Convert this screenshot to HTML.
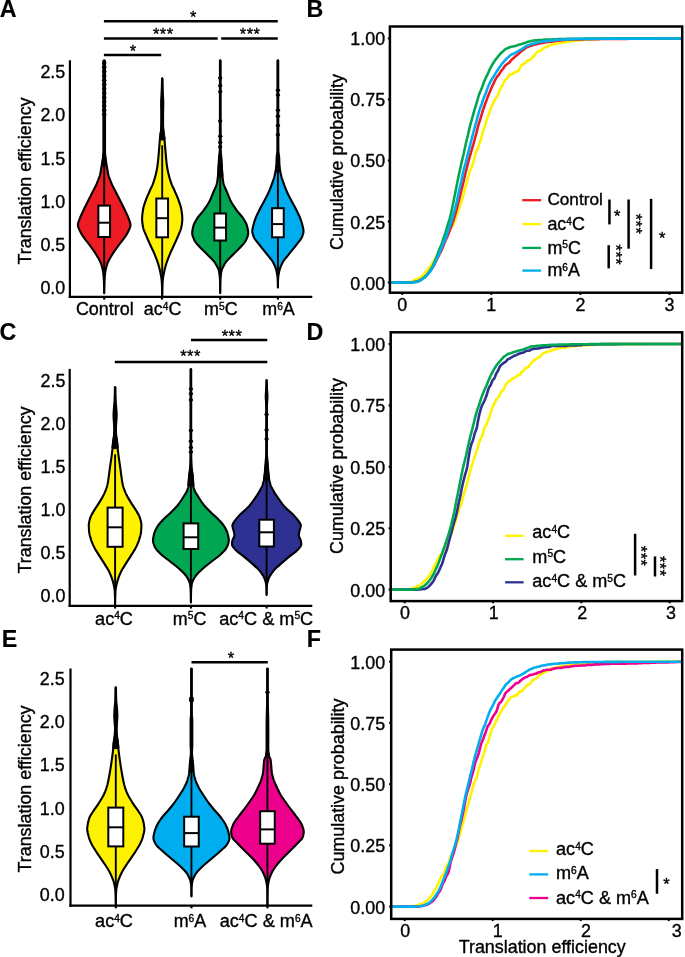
<!DOCTYPE html>
<html lang="en">
<head>
<meta charset="utf-8">
<title>Figure</title>
<style>html,body{margin:0;padding:0;background:#fff}svg{display:block}</style>
</head>
<body>
<svg width="685" height="957" viewBox="0 0 685 957" font-family='"Liberation Sans", Arial, Helvetica, sans-serif' fill="#000">
<rect width="685" height="957" fill="#fff"/>
<text x="-0.3" y="17" font-size="23.3" font-weight="bold" text-anchor="start" stroke="#000" stroke-width="0.15">A</text>
<text x="306.5" y="16.9" font-size="23.3" font-weight="bold" text-anchor="start" stroke="#000" stroke-width="0.15">B</text>
<text x="-0.4" y="340" font-size="23.3" font-weight="bold" text-anchor="start" stroke="#000" stroke-width="0.15">C</text>
<text x="306.5" y="340" font-size="23.3" font-weight="bold" text-anchor="start" stroke="#000" stroke-width="0.15">D</text>
<text x="1.7" y="647.3" font-size="23.3" font-weight="bold" text-anchor="start" stroke="#000" stroke-width="0.15">E</text>
<text x="306.7" y="647.3" font-size="23.3" font-weight="bold" text-anchor="start" stroke="#000" stroke-width="0.15">F</text>
<line x1="69.9" y1="60.3" x2="69.9" y2="298" stroke="#000" stroke-width="2.2"/>
<line x1="68.8" y1="296.9" x2="312.3" y2="296.9" stroke="#000" stroke-width="2.2"/>
<text x="65.3" y="294.21" font-size="17.9" font-weight="normal" text-anchor="end" stroke="#000" stroke-width="0.35">0.0</text>
<text x="65.3" y="251.01" font-size="17.9" font-weight="normal" text-anchor="end" stroke="#000" stroke-width="0.35">0.5</text>
<text x="65.3" y="207.81" font-size="17.9" font-weight="normal" text-anchor="end" stroke="#000" stroke-width="0.35">1.0</text>
<text x="65.3" y="164.61" font-size="17.9" font-weight="normal" text-anchor="end" stroke="#000" stroke-width="0.35">1.5</text>
<text x="65.3" y="121.41" font-size="17.9" font-weight="normal" text-anchor="end" stroke="#000" stroke-width="0.35">2.0</text>
<text x="65.3" y="78.21" font-size="17.9" font-weight="normal" text-anchor="end" stroke="#000" stroke-width="0.35">2.5</text>
<text x="31" y="181" font-size="17.9" font-weight="normal" text-anchor="middle" stroke="#000" stroke-width="0.35" transform="rotate(-90 31 181)">Translation efficiency</text>
<line x1="103.9" y1="21.2" x2="277.8" y2="21.2" stroke="#000" stroke-width="2.5"/>
<line x1="103.9" y1="38.6" x2="217.7" y2="38.6" stroke="#000" stroke-width="2.5"/>
<line x1="221.2" y1="38.6" x2="277.8" y2="38.6" stroke="#000" stroke-width="2.5"/>
<line x1="103.9" y1="54.9" x2="161.2" y2="54.9" stroke="#000" stroke-width="2.5"/>
<text x="193.2" y="23.01" font-size="16.4" font-weight="normal" text-anchor="middle" stroke="#000" stroke-width="0.35">*</text>
<text x="163.25" y="39.91" font-size="16.4" font-weight="normal" text-anchor="middle" stroke="#000" stroke-width="0.35" letter-spacing="0.5">***</text>
<text x="250.15" y="39.91" font-size="16.4" font-weight="normal" text-anchor="middle" stroke="#000" stroke-width="0.35" letter-spacing="0.5">***</text>
<text x="133" y="57.11" font-size="16.4" font-weight="normal" text-anchor="middle" stroke="#000" stroke-width="0.35">*</text>
<path d="M104.05,60.2 L104.05,61.2 L104.05,62.2 L104.05,63.2 L104.05,64.2 L104.05,65.2 L104.05,66.2 L104.05,67.2 L104.05,68.2 L104.05,69.2 L104.05,70.2 L104.05,71.2 L104.05,72.2 L104.05,73.2 L104.05,74.2 L104.05,75.2 L104.05,76.2 L104.05,77.2 L104.05,78.2 L104.05,79.2 L104.05,80.2 L104.05,81.2 L104.05,82.2 L104.05,83.2 L104.05,84.2 L104.05,85.2 L104.05,86.2 L104.05,87.2 L104.05,88.2 L104.05,89.2 L104.05,90.2 L104.05,91.2 L104.05,92.2 L104.05,93.2 L104.05,94.2 L104.05,95.2 L104.05,96.2 L104.05,97.2 L104.05,98.2 L104.05,99.2 L104.05,100.2 L104.05,101.2 L104.05,102.2 L104.05,103.2 L104.05,104.2 L104.05,105.2 L104.05,106.2 L104.05,107.2 L104.05,108.2 L104.05,109.2 L104.05,110.2 L104.05,111.2 L104.05,112.2 L104.05,113.2 L104.05,114.2 L104.05,115.2 L104.05,116.2 L104.05,117.2 L104.05,118.2 L104.05,119.2 L104.05,120.2 L104.05,121.2 L104.05,122.2 L104.05,123.2 L104.05,124.2 L104.05,125.2 L104.05,126.2 L104.05,127.2 L104.05,128.2 L104.05,129.2 L104.05,130.2 L104.05,131.2 L104.05,132.2 L104.05,133.2 L104.05,134.2 L104.05,135.2 L104.05,136.2 L104.05,137.2 L104.05,138.2 L104.05,139.2 L104.05,140.2 L104.05,141.2 L104.05,142.2 L104.05,143.2 L104.05,144.2 L104.05,145.2 L104.05,146.2 L104.05,147.2 L104.05,148.2 L104.05,149.2 L104.05,150.2 L104,151.2 L103.89,152.2 L103.73,153.2 L103.56,154.2 L103.37,155.2 L103.2,156.2 L103.05,157.2 L102.9,158.2 L102.74,159.2 L102.58,160.2 L102.42,161.2 L102.26,162.2 L102.09,163.2 L101.92,164.2 L101.75,165.2 L101.58,166.2 L101.42,167.2 L101.26,168.2 L101.1,169.2 L100.94,170.2 L100.76,171.2 L100.57,172.2 L100.37,173.2 L100.15,174.2 L99.9,175.2 L99.61,176.2 L99.29,177.2 L98.94,178.2 L98.57,179.2 L98.18,180.2 L97.77,181.2 L97.36,182.2 L96.94,183.2 L96.51,184.2 L96.05,185.2 L95.56,186.2 L95.05,187.2 L94.53,188.2 L94.01,189.2 L93.48,190.2 L92.96,191.2 L92.45,192.2 L91.95,193.2 L91.44,194.2 L90.93,195.2 L90.42,196.2 L89.92,197.2 L89.41,198.2 L88.9,199.2 L88.4,200.2 L87.9,201.2 L87.4,202.2 L86.89,203.2 L86.39,204.2 L85.89,205.2 L85.39,206.2 L84.89,207.2 L84.41,208.2 L83.93,209.2 L83.46,210.2 L82.99,211.2 L82.52,212.2 L82.05,213.2 L81.59,214.2 L81.14,215.2 L80.7,216.2 L80.29,217.2 L79.91,218.2 L79.56,219.2 L79.18,220.2 L78.79,221.2 L78.43,222.2 L78.14,223.2 L77.95,224.2 L77.9,225.2 L78.03,226.2 L78.31,227.2 L78.7,228.2 L79.16,229.2 L79.64,230.2 L80.1,231.2 L80.57,232.2 L81.1,233.2 L81.67,234.2 L82.28,235.2 L82.91,236.2 L83.56,237.2 L84.26,238.2 L85,239.2 L85.77,240.2 L86.55,241.2 L87.35,242.2 L88.13,243.2 L88.91,244.2 L89.65,245.2 L90.38,246.2 L91.11,247.2 L91.84,248.2 L92.56,249.2 L93.27,250.2 L93.97,251.2 L94.65,252.2 L95.31,253.2 L95.94,254.2 L96.56,255.2 L97.18,256.2 L97.79,257.2 L98.39,258.2 L98.97,259.2 L99.51,260.2 L100.01,261.2 L100.46,262.2 L100.84,263.2 L101.18,264.2 L101.5,265.2 L101.81,266.2 L102.1,267.2 L102.36,268.2 L102.6,269.2 L102.8,270.2 L102.98,271.2 L103.13,272.2 L103.25,273.2 L103.37,274.2 L103.48,275.2 L103.58,276.2 L103.67,277.2 L103.75,278.2 L103.81,279.2 L103.87,280.2 L103.91,281.2 L103.95,282.2 L103.99,283.2 L104.02,284.2 L104.06,285.2 L104.09,286.2 L104.11,287.2 L104.14,288.2 L104.16,289.2 L104.18,290.2 L104.19,291.2 L104.2,292.2 L104.2,293.2 L104.2,293.3 L104.2,293.3 L104.2,293.2 L104.2,292.2 L104.21,291.2 L104.22,290.2 L104.24,289.2 L104.26,288.2 L104.29,287.2 L104.31,286.2 L104.34,285.2 L104.38,284.2 L104.41,283.2 L104.45,282.2 L104.49,281.2 L104.53,280.2 L104.59,279.2 L104.65,278.2 L104.73,277.2 L104.82,276.2 L104.92,275.2 L105.03,274.2 L105.15,273.2 L105.27,272.2 L105.42,271.2 L105.6,270.2 L105.8,269.2 L106.04,268.2 L106.3,267.2 L106.59,266.2 L106.9,265.2 L107.22,264.2 L107.56,263.2 L107.94,262.2 L108.39,261.2 L108.89,260.2 L109.43,259.2 L110.01,258.2 L110.61,257.2 L111.22,256.2 L111.84,255.2 L112.46,254.2 L113.09,253.2 L113.75,252.2 L114.43,251.2 L115.13,250.2 L115.84,249.2 L116.56,248.2 L117.29,247.2 L118.02,246.2 L118.75,245.2 L119.49,244.2 L120.27,243.2 L121.05,242.2 L121.85,241.2 L122.63,240.2 L123.4,239.2 L124.14,238.2 L124.84,237.2 L125.49,236.2 L126.12,235.2 L126.73,234.2 L127.3,233.2 L127.83,232.2 L128.3,231.2 L128.76,230.2 L129.24,229.2 L129.7,228.2 L130.09,227.2 L130.37,226.2 L130.5,225.2 L130.45,224.2 L130.26,223.2 L129.97,222.2 L129.61,221.2 L129.22,220.2 L128.84,219.2 L128.49,218.2 L128.11,217.2 L127.7,216.2 L127.26,215.2 L126.81,214.2 L126.35,213.2 L125.88,212.2 L125.41,211.2 L124.94,210.2 L124.47,209.2 L123.99,208.2 L123.51,207.2 L123.01,206.2 L122.51,205.2 L122.01,204.2 L121.51,203.2 L121,202.2 L120.5,201.2 L120,200.2 L119.5,199.2 L118.99,198.2 L118.48,197.2 L117.98,196.2 L117.47,195.2 L116.96,194.2 L116.45,193.2 L115.95,192.2 L115.44,191.2 L114.92,190.2 L114.39,189.2 L113.87,188.2 L113.35,187.2 L112.84,186.2 L112.35,185.2 L111.89,184.2 L111.46,183.2 L111.04,182.2 L110.63,181.2 L110.22,180.2 L109.83,179.2 L109.46,178.2 L109.11,177.2 L108.79,176.2 L108.5,175.2 L108.25,174.2 L108.03,173.2 L107.83,172.2 L107.64,171.2 L107.46,170.2 L107.3,169.2 L107.14,168.2 L106.98,167.2 L106.82,166.2 L106.65,165.2 L106.48,164.2 L106.31,163.2 L106.14,162.2 L105.98,161.2 L105.82,160.2 L105.66,159.2 L105.5,158.2 L105.35,157.2 L105.2,156.2 L105.03,155.2 L104.84,154.2 L104.67,153.2 L104.51,152.2 L104.4,151.2 L104.35,150.2 L104.35,149.2 L104.35,148.2 L104.35,147.2 L104.35,146.2 L104.35,145.2 L104.35,144.2 L104.35,143.2 L104.35,142.2 L104.35,141.2 L104.35,140.2 L104.35,139.2 L104.35,138.2 L104.35,137.2 L104.35,136.2 L104.35,135.2 L104.35,134.2 L104.35,133.2 L104.35,132.2 L104.35,131.2 L104.35,130.2 L104.35,129.2 L104.35,128.2 L104.35,127.2 L104.35,126.2 L104.35,125.2 L104.35,124.2 L104.35,123.2 L104.35,122.2 L104.35,121.2 L104.35,120.2 L104.35,119.2 L104.35,118.2 L104.35,117.2 L104.35,116.2 L104.35,115.2 L104.35,114.2 L104.35,113.2 L104.35,112.2 L104.35,111.2 L104.35,110.2 L104.35,109.2 L104.35,108.2 L104.35,107.2 L104.35,106.2 L104.35,105.2 L104.35,104.2 L104.35,103.2 L104.35,102.2 L104.35,101.2 L104.35,100.2 L104.35,99.2 L104.35,98.2 L104.35,97.2 L104.35,96.2 L104.35,95.2 L104.35,94.2 L104.35,93.2 L104.35,92.2 L104.35,91.2 L104.35,90.2 L104.35,89.2 L104.35,88.2 L104.35,87.2 L104.35,86.2 L104.35,85.2 L104.35,84.2 L104.35,83.2 L104.35,82.2 L104.35,81.2 L104.35,80.2 L104.35,79.2 L104.35,78.2 L104.35,77.2 L104.35,76.2 L104.35,75.2 L104.35,74.2 L104.35,73.2 L104.35,72.2 L104.35,71.2 L104.35,70.2 L104.35,69.2 L104.35,68.2 L104.35,67.2 L104.35,66.2 L104.35,65.2 L104.35,64.2 L104.35,63.2 L104.35,62.2 L104.35,61.2 L104.35,60.2 Z" fill="#ED1C24" stroke="#000" stroke-width="2.1" stroke-linejoin="round"/>
<path d="M102.35,60.2 L102.35,61.2 L102.35,62.2 L102.35,63.2 L102.35,64.2 L102.35,65.2 L102.35,66.2 L102.35,67.2 L102.35,68.2 L102.35,69.2 L102.35,70.2 L102.35,71.2 L102.35,72.2 L102.35,73.2 L102.35,74.2 L102.35,75.2 L102.35,76.2 L102.35,77.2 L102.35,78.2 L102.35,79.2 L102.35,80.2 L102.35,81.2 L102.35,82.2 L102.35,83.2 L102.35,84.2 L102.35,85.2 L102.35,86.2 L102.35,87.2 L102.35,88.2 L102.35,89.2 L102.35,90.2 L102.35,91.2 L102.35,92.2 L102.35,93.2 L102.35,94.2 L102.35,95.2 L102.35,96.2 L102.35,97.2 L102.35,98.2 L102.35,99.2 L102.35,100.2 L102.35,101.2 L102.35,102.2 L102.35,103.2 L102.35,104.2 L102.35,105.2 L102.35,106.2 L102.35,107.2 L102.35,108.2 L102.35,109.2 L102.35,110.2 L102.35,111.2 L102.35,112.2 L102.35,113.2 L102.35,114.2 L102.35,115.2 L102.35,116.2 L102.35,117.2 L102.35,118.2 L102.35,119.2 L102.35,120.2 L102.35,121.2 L102.35,122.2 L102.35,123.2 L102.35,124.2 L102.35,125.2 L102.35,126.2 L102.35,127.2 L102.35,128.2 L102.35,129.2 L102.35,130.2 L102.35,131.2 L102.35,132.2 L102.35,133.2 L102.35,134.2 L102.35,135.2 L102.35,136.2 L102.35,137.2 L102.35,138.2 L102.35,139.2 L102.35,140.2 L102.35,141.2 L102.35,142.2 L102.35,143.2 L102.35,144.2 L102.35,145.2 L102.35,146.2 L102.35,147.2 L102.35,148.2 L102.35,149.2 L102.35,150.2 L102.34,151.2 L102.32,152.2 L102.29,153.2 L102.24,154.2 L102.19,155.2 L102.14,156.2 L102.08,157.2 L102.02,158.2 L101.95,159.2 L101.89,160.2 L101.79,161.2 L101.66,162.2 L101.53,163.2 L101.41,164.2 L101.32,165.2 L102.02,166.2 L104.2,166.5 L104.2,166.5 L106.38,166.2 L107.08,165.2 L106.99,164.2 L106.87,163.2 L106.74,162.2 L106.61,161.2 L106.51,160.2 L106.45,159.2 L106.38,158.2 L106.32,157.2 L106.26,156.2 L106.21,155.2 L106.16,154.2 L106.11,153.2 L106.08,152.2 L106.06,151.2 L106.05,150.2 L106.05,149.2 L106.05,148.2 L106.05,147.2 L106.05,146.2 L106.05,145.2 L106.05,144.2 L106.05,143.2 L106.05,142.2 L106.05,141.2 L106.05,140.2 L106.05,139.2 L106.05,138.2 L106.05,137.2 L106.05,136.2 L106.05,135.2 L106.05,134.2 L106.05,133.2 L106.05,132.2 L106.05,131.2 L106.05,130.2 L106.05,129.2 L106.05,128.2 L106.05,127.2 L106.05,126.2 L106.05,125.2 L106.05,124.2 L106.05,123.2 L106.05,122.2 L106.05,121.2 L106.05,120.2 L106.05,119.2 L106.05,118.2 L106.05,117.2 L106.05,116.2 L106.05,115.2 L106.05,114.2 L106.05,113.2 L106.05,112.2 L106.05,111.2 L106.05,110.2 L106.05,109.2 L106.05,108.2 L106.05,107.2 L106.05,106.2 L106.05,105.2 L106.05,104.2 L106.05,103.2 L106.05,102.2 L106.05,101.2 L106.05,100.2 L106.05,99.2 L106.05,98.2 L106.05,97.2 L106.05,96.2 L106.05,95.2 L106.05,94.2 L106.05,93.2 L106.05,92.2 L106.05,91.2 L106.05,90.2 L106.05,89.2 L106.05,88.2 L106.05,87.2 L106.05,86.2 L106.05,85.2 L106.05,84.2 L106.05,83.2 L106.05,82.2 L106.05,81.2 L106.05,80.2 L106.05,79.2 L106.05,78.2 L106.05,77.2 L106.05,76.2 L106.05,75.2 L106.05,74.2 L106.05,73.2 L106.05,72.2 L106.05,71.2 L106.05,70.2 L106.05,69.2 L106.05,68.2 L106.05,67.2 L106.05,66.2 L106.05,65.2 L106.05,64.2 L106.05,63.2 L106.05,62.2 L106.05,61.2 L106.05,60.2 Z" fill="#000"/>
<ellipse cx="104.2" cy="63" rx="2.25" ry="1.8" fill="#000"/>
<ellipse cx="104.2" cy="67.3" rx="2.25" ry="1.8" fill="#000"/>
<ellipse cx="104.2" cy="71.6" rx="2.25" ry="1.8" fill="#000"/>
<ellipse cx="104.2" cy="75.9" rx="2.25" ry="1.8" fill="#000"/>
<ellipse cx="104.2" cy="80.2" rx="2.25" ry="1.8" fill="#000"/>
<ellipse cx="104.2" cy="84.5" rx="2.25" ry="1.8" fill="#000"/>
<ellipse cx="104.2" cy="88.8" rx="2.25" ry="1.8" fill="#000"/>
<ellipse cx="104.2" cy="93.1" rx="2.25" ry="1.8" fill="#000"/>
<ellipse cx="104.2" cy="97.4" rx="2.25" ry="1.8" fill="#000"/>
<ellipse cx="104.2" cy="101.7" rx="2.25" ry="1.8" fill="#000"/>
<ellipse cx="104.2" cy="106" rx="2.25" ry="1.8" fill="#000"/>
<ellipse cx="104.2" cy="110.3" rx="2.25" ry="1.8" fill="#000"/>
<ellipse cx="104.2" cy="114.6" rx="2.25" ry="1.8" fill="#000"/>
<line x1="104.2" y1="150" x2="104.2" y2="293" stroke="#000" stroke-width="1.9"/>
<rect x="98.35" y="205.6" width="11.7" height="31.4" fill="#fff" stroke="#000" stroke-width="2"/>
<line x1="98.35" y1="222.7" x2="110.05" y2="222.7" stroke="#000" stroke-width="2"/>
<path d="M162.1,78.3 L162.1,79.3 L162.1,80.3 L162.1,81.3 L162.1,82.3 L162.09,83.3 L162.09,84.3 L162.09,85.3 L162.09,86.3 L162.08,87.3 L162.08,88.3 L162.07,89.3 L162.07,90.3 L162.06,91.3 L162.06,92.3 L162.05,93.3 L162.05,94.3 L162.04,95.3 L162.03,96.3 L162.03,97.3 L162.02,98.3 L162.01,99.3 L162.01,100.3 L162,101.3 L161.99,102.3 L161.98,103.3 L161.96,104.3 L161.95,105.3 L161.93,106.3 L161.91,107.3 L161.89,108.3 L161.87,109.3 L161.84,110.3 L161.82,111.3 L161.79,112.3 L161.77,113.3 L161.74,114.3 L161.72,115.3 L161.69,116.3 L161.67,117.3 L161.64,118.3 L161.62,119.3 L161.59,120.3 L161.56,121.3 L161.54,122.3 L161.5,123.3 L161.47,124.3 L161.43,125.3 L161.39,126.3 L161.34,127.3 L161.28,128.3 L161.2,129.3 L161.09,130.3 L160.95,131.3 L160.81,132.3 L160.65,133.3 L160.51,134.3 L160.37,135.3 L160.25,136.3 L160.14,137.3 L160.04,138.3 L159.94,139.3 L159.84,140.3 L159.74,141.3 L159.66,142.3 L159.57,143.3 L159.49,144.3 L159.41,145.3 L159.33,146.3 L159.24,147.3 L159.16,148.3 L159.07,149.3 L158.98,150.3 L158.9,151.3 L158.82,152.3 L158.73,153.3 L158.65,154.3 L158.56,155.3 L158.48,156.3 L158.39,157.3 L158.3,158.3 L158.2,159.3 L158.1,160.3 L158,161.3 L157.89,162.3 L157.77,163.3 L157.65,164.3 L157.53,165.3 L157.39,166.3 L157.24,167.3 L157.07,168.3 L156.89,169.3 L156.69,170.3 L156.49,171.3 L156.28,172.3 L156.05,173.3 L155.82,174.3 L155.58,175.3 L155.32,176.3 L155.05,177.3 L154.76,178.3 L154.45,179.3 L154.13,180.3 L153.8,181.3 L153.46,182.3 L153.1,183.3 L152.72,184.3 L152.31,185.3 L151.87,186.3 L151.41,187.3 L150.94,188.3 L150.47,189.3 L150.01,190.3 L149.55,191.3 L149.11,192.3 L148.68,193.3 L148.24,194.3 L147.79,195.3 L147.35,196.3 L146.92,197.3 L146.51,198.3 L146.11,199.3 L145.74,200.3 L145.4,201.3 L145.06,202.3 L144.73,203.3 L144.4,204.3 L144.09,205.3 L143.8,206.3 L143.53,207.3 L143.29,208.3 L143.1,209.3 L142.94,210.3 L142.79,211.3 L142.65,212.3 L142.51,213.3 L142.39,214.3 L142.28,215.3 L142.2,216.3 L142.14,217.3 L142.1,218.3 L142.11,219.3 L142.14,220.3 L142.21,221.3 L142.31,222.3 L142.43,223.3 L142.57,224.3 L142.71,225.3 L142.87,226.3 L143.08,227.3 L143.34,228.3 L143.66,229.3 L144.02,230.3 L144.41,231.3 L144.83,232.3 L145.25,233.3 L145.68,234.3 L146.11,235.3 L146.52,236.3 L146.92,237.3 L147.34,238.3 L147.76,239.3 L148.2,240.3 L148.65,241.3 L149.1,242.3 L149.55,243.3 L150,244.3 L150.46,245.3 L150.91,246.3 L151.38,247.3 L151.85,248.3 L152.33,249.3 L152.8,250.3 L153.27,251.3 L153.73,252.3 L154.18,253.3 L154.6,254.3 L155.01,255.3 L155.42,256.3 L155.82,257.3 L156.21,258.3 L156.59,259.3 L156.96,260.3 L157.31,261.3 L157.65,262.3 L157.96,263.3 L158.27,264.3 L158.56,265.3 L158.85,266.3 L159.13,267.3 L159.39,268.3 L159.65,269.3 L159.88,270.3 L160.1,271.3 L160.31,272.3 L160.51,273.3 L160.71,274.3 L160.91,275.3 L161.09,276.3 L161.26,277.3 L161.42,278.3 L161.55,279.3 L161.65,280.3 L161.73,281.3 L161.79,282.3 L161.85,283.3 L161.91,284.3 L161.95,285.3 L162,286.3 L162.03,287.3 L162.06,288.3 L162.09,289.3 L162.11,290.3 L162.13,291.3 L162.15,292.3 L162.17,293.3 L162.18,294.3 L162.19,295.3 L162.2,296.3 L162.2,297 L162.2,297 L162.2,296.3 L162.21,295.3 L162.22,294.3 L162.23,293.3 L162.25,292.3 L162.27,291.3 L162.29,290.3 L162.31,289.3 L162.34,288.3 L162.37,287.3 L162.4,286.3 L162.45,285.3 L162.49,284.3 L162.55,283.3 L162.61,282.3 L162.67,281.3 L162.75,280.3 L162.85,279.3 L162.98,278.3 L163.14,277.3 L163.31,276.3 L163.49,275.3 L163.69,274.3 L163.89,273.3 L164.09,272.3 L164.3,271.3 L164.52,270.3 L164.75,269.3 L165.01,268.3 L165.27,267.3 L165.55,266.3 L165.84,265.3 L166.13,264.3 L166.44,263.3 L166.75,262.3 L167.09,261.3 L167.44,260.3 L167.81,259.3 L168.19,258.3 L168.58,257.3 L168.98,256.3 L169.39,255.3 L169.8,254.3 L170.22,253.3 L170.67,252.3 L171.13,251.3 L171.6,250.3 L172.07,249.3 L172.55,248.3 L173.02,247.3 L173.49,246.3 L173.94,245.3 L174.4,244.3 L174.85,243.3 L175.3,242.3 L175.75,241.3 L176.2,240.3 L176.64,239.3 L177.06,238.3 L177.48,237.3 L177.88,236.3 L178.29,235.3 L178.72,234.3 L179.15,233.3 L179.57,232.3 L179.99,231.3 L180.38,230.3 L180.74,229.3 L181.06,228.3 L181.32,227.3 L181.53,226.3 L181.69,225.3 L181.83,224.3 L181.97,223.3 L182.09,222.3 L182.19,221.3 L182.26,220.3 L182.29,219.3 L182.3,218.3 L182.26,217.3 L182.2,216.3 L182.12,215.3 L182.01,214.3 L181.89,213.3 L181.75,212.3 L181.61,211.3 L181.46,210.3 L181.3,209.3 L181.11,208.3 L180.87,207.3 L180.6,206.3 L180.31,205.3 L180,204.3 L179.67,203.3 L179.34,202.3 L179,201.3 L178.66,200.3 L178.29,199.3 L177.89,198.3 L177.48,197.3 L177.05,196.3 L176.61,195.3 L176.16,194.3 L175.72,193.3 L175.29,192.3 L174.85,191.3 L174.39,190.3 L173.93,189.3 L173.46,188.3 L172.99,187.3 L172.53,186.3 L172.09,185.3 L171.68,184.3 L171.3,183.3 L170.94,182.3 L170.6,181.3 L170.27,180.3 L169.95,179.3 L169.64,178.3 L169.35,177.3 L169.08,176.3 L168.82,175.3 L168.58,174.3 L168.35,173.3 L168.12,172.3 L167.91,171.3 L167.71,170.3 L167.51,169.3 L167.33,168.3 L167.16,167.3 L167.01,166.3 L166.87,165.3 L166.75,164.3 L166.63,163.3 L166.51,162.3 L166.4,161.3 L166.3,160.3 L166.2,159.3 L166.1,158.3 L166.01,157.3 L165.92,156.3 L165.84,155.3 L165.75,154.3 L165.67,153.3 L165.58,152.3 L165.5,151.3 L165.42,150.3 L165.33,149.3 L165.24,148.3 L165.16,147.3 L165.07,146.3 L164.99,145.3 L164.91,144.3 L164.83,143.3 L164.74,142.3 L164.66,141.3 L164.56,140.3 L164.46,139.3 L164.36,138.3 L164.26,137.3 L164.15,136.3 L164.03,135.3 L163.89,134.3 L163.75,133.3 L163.59,132.3 L163.45,131.3 L163.31,130.3 L163.2,129.3 L163.12,128.3 L163.06,127.3 L163.01,126.3 L162.97,125.3 L162.93,124.3 L162.9,123.3 L162.86,122.3 L162.84,121.3 L162.81,120.3 L162.78,119.3 L162.76,118.3 L162.73,117.3 L162.71,116.3 L162.68,115.3 L162.66,114.3 L162.63,113.3 L162.61,112.3 L162.58,111.3 L162.56,110.3 L162.53,109.3 L162.51,108.3 L162.49,107.3 L162.47,106.3 L162.45,105.3 L162.44,104.3 L162.42,103.3 L162.41,102.3 L162.4,101.3 L162.39,100.3 L162.39,99.3 L162.38,98.3 L162.37,97.3 L162.37,96.3 L162.36,95.3 L162.35,94.3 L162.35,93.3 L162.34,92.3 L162.34,91.3 L162.33,90.3 L162.33,89.3 L162.32,88.3 L162.32,87.3 L162.31,86.3 L162.31,85.3 L162.31,84.3 L162.31,83.3 L162.3,82.3 L162.3,81.3 L162.3,80.3 L162.3,79.3 L162.3,78.3 Z" fill="#FFF200" stroke="#000" stroke-width="2.1" stroke-linejoin="round"/>
<path d="M161,78.3 L160.98,79.3 L160.96,80.3 L160.94,81.3 L160.92,82.3 L160.9,83.3 L160.87,84.3 L160.84,85.3 L160.82,86.3 L160.79,87.3 L160.75,88.3 L160.72,89.3 L160.69,90.3 L160.65,91.3 L160.6,92.3 L160.54,93.3 L160.48,94.3 L160.42,95.3 L160.36,96.3 L160.3,97.3 L160.24,98.3 L160.19,99.3 L160.15,100.3 L160.12,101.3 L160.1,102.3 L160.1,103.3 L160.1,104.3 L160.11,105.3 L160.13,106.3 L160.15,107.3 L160.16,108.3 L160.19,109.3 L160.21,110.3 L160.23,111.3 L160.25,112.3 L160.27,113.3 L160.28,114.3 L160.29,115.3 L160.3,116.3 L160.3,117.3 L160.3,118.3 L160.3,119.3 L160.3,120.3 L160.3,121.3 L160.3,122.3 L160.3,123.3 L160.3,124.3 L160.3,125.3 L160.3,126.3 L160.29,127.3 L160.24,128.3 L160.15,129.3 L160.05,130.3 L159.92,131.3 L159.78,132.3 L159.64,133.3 L159.5,134.3 L159.37,135.3 L159.25,136.3 L159.1,137.3 L158.95,138.3 L158.83,139.3 L159.64,140.3 L162.2,140.6 L162.2,140.6 L164.76,140.3 L165.57,139.3 L165.45,138.3 L165.3,137.3 L165.15,136.3 L165.03,135.3 L164.9,134.3 L164.76,133.3 L164.62,132.3 L164.48,131.3 L164.35,130.3 L164.25,129.3 L164.16,128.3 L164.11,127.3 L164.1,126.3 L164.1,125.3 L164.1,124.3 L164.1,123.3 L164.1,122.3 L164.1,121.3 L164.1,120.3 L164.1,119.3 L164.1,118.3 L164.1,117.3 L164.1,116.3 L164.11,115.3 L164.12,114.3 L164.13,113.3 L164.15,112.3 L164.17,111.3 L164.19,110.3 L164.21,109.3 L164.24,108.3 L164.25,107.3 L164.27,106.3 L164.29,105.3 L164.3,104.3 L164.3,103.3 L164.3,102.3 L164.28,101.3 L164.25,100.3 L164.21,99.3 L164.16,98.3 L164.1,97.3 L164.04,96.3 L163.98,95.3 L163.92,94.3 L163.86,93.3 L163.8,92.3 L163.75,91.3 L163.71,90.3 L163.68,89.3 L163.65,88.3 L163.61,87.3 L163.58,86.3 L163.56,85.3 L163.53,84.3 L163.5,83.3 L163.48,82.3 L163.46,81.3 L163.44,80.3 L163.42,79.3 L163.4,78.3 Z" fill="#000"/>
<line x1="162.2" y1="145.3" x2="162.2" y2="296.5" stroke="#000" stroke-width="1.9"/>
<rect x="156.35" y="198.5" width="11.7" height="38.8" fill="#fff" stroke="#000" stroke-width="2"/>
<line x1="156.35" y1="218.2" x2="168.05" y2="218.2" stroke="#000" stroke-width="2"/>
<path d="M220.05,60.2 L220.05,61.2 L220.05,62.2 L220.05,63.2 L220.05,64.2 L220.05,65.2 L220.05,66.2 L220.05,67.2 L220.05,68.2 L220.05,69.2 L220.05,70.2 L220.05,71.2 L220.05,72.2 L220.05,73.2 L220.05,74.2 L220.05,75.2 L220.05,76.2 L220.05,77.2 L220.05,78.2 L220.05,79.2 L220.05,80.2 L220.05,81.2 L220.05,82.2 L220.05,83.2 L220.05,84.2 L220.05,85.2 L220.05,86.2 L220.05,87.2 L220.05,88.2 L220.05,89.2 L220.05,90.2 L220.05,91.2 L220.05,92.2 L220.05,93.2 L220.05,94.2 L220.05,95.2 L220.05,96.2 L220.05,97.2 L220.05,98.2 L220.05,99.2 L220.05,100.2 L220.05,101.2 L220.05,102.2 L220.05,103.2 L220.05,104.2 L220.05,105.2 L220.05,106.2 L220.05,107.2 L220.05,108.2 L220.05,109.2 L220.05,110.2 L220.05,111.2 L220.05,112.2 L220.05,113.2 L220.05,114.2 L220.05,115.2 L220.05,116.2 L220.05,117.2 L220.05,118.2 L220.05,119.2 L220.05,120.2 L220.05,121.2 L220.05,122.2 L220.05,123.2 L220.05,124.2 L220.05,125.2 L220.05,126.2 L220.05,127.2 L220.05,128.2 L220.05,129.2 L220.05,130.2 L220.05,131.2 L220.05,132.2 L220.05,133.2 L220.05,134.2 L220.05,135.2 L220.05,136.2 L220.05,137.2 L220.05,138.2 L220.05,139.2 L220.05,140.2 L220.05,141.2 L220.05,142.2 L220.05,143.2 L220.05,144.2 L220.05,145.2 L220.05,146.2 L220.05,147.2 L220.05,148.2 L220.05,149.2 L220.05,150.2 L219.99,151.2 L219.85,152.2 L219.68,153.2 L219.49,154.2 L219.31,155.2 L219.17,156.2 L219.08,157.2 L219.01,158.2 L218.94,159.2 L218.88,160.2 L218.83,161.2 L218.77,162.2 L218.72,163.2 L218.67,164.2 L218.62,165.2 L218.56,166.2 L218.51,167.2 L218.46,168.2 L218.41,169.2 L218.36,170.2 L218.31,171.2 L218.25,172.2 L218.19,173.2 L218.12,174.2 L218.03,175.2 L217.94,176.2 L217.84,177.2 L217.72,178.2 L217.59,179.2 L217.44,180.2 L217.29,181.2 L217.11,182.2 L216.92,183.2 L216.69,184.2 L216.38,185.2 L216.01,186.2 L215.6,187.2 L215.16,188.2 L214.7,189.2 L214.24,190.2 L213.78,191.2 L213.36,192.2 L212.95,193.2 L212.55,194.2 L212.15,195.2 L211.75,196.2 L211.34,197.2 L210.91,198.2 L210.47,199.2 L210,200.2 L209.5,201.2 L208.96,202.2 L208.4,203.2 L207.8,204.2 L207.18,205.2 L206.53,206.2 L205.87,207.2 L205.18,208.2 L204.49,209.2 L203.79,210.2 L203.02,211.2 L202.2,212.2 L201.34,213.2 L200.47,214.2 L199.61,215.2 L198.77,216.2 L197.99,217.2 L197.28,218.2 L196.66,219.2 L196.06,220.2 L195.47,221.2 L194.92,222.2 L194.41,223.2 L193.97,224.2 L193.6,225.2 L193.32,226.2 L193.08,227.2 L192.84,228.2 L192.63,229.2 L192.44,230.2 L192.31,231.2 L192.22,232.2 L192.2,233.2 L192.29,234.2 L192.48,235.2 L192.75,236.2 L193.1,237.2 L193.49,238.2 L193.91,239.2 L194.34,240.2 L194.88,241.2 L195.56,242.2 L196.36,243.2 L197.23,244.2 L198.15,245.2 L199.09,246.2 L200,247.2 L200.92,248.2 L201.9,249.2 L202.92,250.2 L203.96,251.2 L204.99,252.2 L206.02,253.2 L207,254.2 L207.98,255.2 L209,256.2 L210.03,257.2 L211.05,258.2 L212.04,259.2 L212.98,260.2 L213.84,261.2 L214.61,262.2 L215.26,263.2 L215.85,264.2 L216.42,265.2 L216.97,266.2 L217.48,267.2 L217.95,268.2 L218.36,269.2 L218.7,270.2 L218.97,271.2 L219.16,272.2 L219.31,273.2 L219.45,274.2 L219.58,275.2 L219.69,276.2 L219.78,277.2 L219.86,278.2 L219.93,279.2 L219.98,280.2 L220.01,281.2 L220.04,282.2 L220.06,283.2 L220.09,284.2 L220.11,285.2 L220.13,286.2 L220.15,287.2 L220.16,288.2 L220.18,289.2 L220.19,290.2 L220.19,291.2 L220.2,292.2 L220.2,293.2 L220.2,293.3 L220.2,293.3 L220.2,293.2 L220.2,292.2 L220.21,291.2 L220.21,290.2 L220.22,289.2 L220.24,288.2 L220.25,287.2 L220.27,286.2 L220.29,285.2 L220.31,284.2 L220.34,283.2 L220.36,282.2 L220.39,281.2 L220.42,280.2 L220.47,279.2 L220.54,278.2 L220.62,277.2 L220.71,276.2 L220.82,275.2 L220.95,274.2 L221.09,273.2 L221.24,272.2 L221.43,271.2 L221.7,270.2 L222.04,269.2 L222.45,268.2 L222.92,267.2 L223.43,266.2 L223.98,265.2 L224.55,264.2 L225.14,263.2 L225.79,262.2 L226.56,261.2 L227.42,260.2 L228.36,259.2 L229.35,258.2 L230.37,257.2 L231.4,256.2 L232.42,255.2 L233.4,254.2 L234.38,253.2 L235.41,252.2 L236.44,251.2 L237.48,250.2 L238.5,249.2 L239.48,248.2 L240.4,247.2 L241.31,246.2 L242.25,245.2 L243.17,244.2 L244.04,243.2 L244.84,242.2 L245.52,241.2 L246.06,240.2 L246.49,239.2 L246.91,238.2 L247.3,237.2 L247.65,236.2 L247.92,235.2 L248.11,234.2 L248.2,233.2 L248.18,232.2 L248.09,231.2 L247.96,230.2 L247.77,229.2 L247.56,228.2 L247.32,227.2 L247.08,226.2 L246.8,225.2 L246.43,224.2 L245.99,223.2 L245.48,222.2 L244.93,221.2 L244.34,220.2 L243.74,219.2 L243.12,218.2 L242.41,217.2 L241.63,216.2 L240.79,215.2 L239.93,214.2 L239.06,213.2 L238.2,212.2 L237.38,211.2 L236.61,210.2 L235.91,209.2 L235.22,208.2 L234.53,207.2 L233.87,206.2 L233.22,205.2 L232.6,204.2 L232,203.2 L231.44,202.2 L230.9,201.2 L230.4,200.2 L229.93,199.2 L229.49,198.2 L229.06,197.2 L228.65,196.2 L228.25,195.2 L227.85,194.2 L227.45,193.2 L227.04,192.2 L226.62,191.2 L226.16,190.2 L225.7,189.2 L225.24,188.2 L224.8,187.2 L224.39,186.2 L224.02,185.2 L223.71,184.2 L223.48,183.2 L223.29,182.2 L223.11,181.2 L222.96,180.2 L222.81,179.2 L222.68,178.2 L222.56,177.2 L222.46,176.2 L222.37,175.2 L222.28,174.2 L222.21,173.2 L222.15,172.2 L222.09,171.2 L222.04,170.2 L221.99,169.2 L221.94,168.2 L221.89,167.2 L221.84,166.2 L221.78,165.2 L221.73,164.2 L221.68,163.2 L221.63,162.2 L221.57,161.2 L221.52,160.2 L221.46,159.2 L221.39,158.2 L221.32,157.2 L221.23,156.2 L221.09,155.2 L220.91,154.2 L220.72,153.2 L220.55,152.2 L220.41,151.2 L220.35,150.2 L220.35,149.2 L220.35,148.2 L220.35,147.2 L220.35,146.2 L220.35,145.2 L220.35,144.2 L220.35,143.2 L220.35,142.2 L220.35,141.2 L220.35,140.2 L220.35,139.2 L220.35,138.2 L220.35,137.2 L220.35,136.2 L220.35,135.2 L220.35,134.2 L220.35,133.2 L220.35,132.2 L220.35,131.2 L220.35,130.2 L220.35,129.2 L220.35,128.2 L220.35,127.2 L220.35,126.2 L220.35,125.2 L220.35,124.2 L220.35,123.2 L220.35,122.2 L220.35,121.2 L220.35,120.2 L220.35,119.2 L220.35,118.2 L220.35,117.2 L220.35,116.2 L220.35,115.2 L220.35,114.2 L220.35,113.2 L220.35,112.2 L220.35,111.2 L220.35,110.2 L220.35,109.2 L220.35,108.2 L220.35,107.2 L220.35,106.2 L220.35,105.2 L220.35,104.2 L220.35,103.2 L220.35,102.2 L220.35,101.2 L220.35,100.2 L220.35,99.2 L220.35,98.2 L220.35,97.2 L220.35,96.2 L220.35,95.2 L220.35,94.2 L220.35,93.2 L220.35,92.2 L220.35,91.2 L220.35,90.2 L220.35,89.2 L220.35,88.2 L220.35,87.2 L220.35,86.2 L220.35,85.2 L220.35,84.2 L220.35,83.2 L220.35,82.2 L220.35,81.2 L220.35,80.2 L220.35,79.2 L220.35,78.2 L220.35,77.2 L220.35,76.2 L220.35,75.2 L220.35,74.2 L220.35,73.2 L220.35,72.2 L220.35,71.2 L220.35,70.2 L220.35,69.2 L220.35,68.2 L220.35,67.2 L220.35,66.2 L220.35,65.2 L220.35,64.2 L220.35,63.2 L220.35,62.2 L220.35,61.2 L220.35,60.2 Z" fill="#00A651" stroke="#000" stroke-width="2.1" stroke-linejoin="round"/>
<path d="M218.9,60.2 L218.9,61.2 L218.9,62.2 L218.9,63.2 L218.9,64.2 L218.9,65.2 L218.9,66.2 L218.9,67.2 L218.9,68.2 L218.9,69.2 L218.9,70.2 L218.9,71.2 L218.9,72.2 L218.9,73.2 L218.9,74.2 L218.9,75.2 L218.9,76.2 L218.9,77.2 L218.9,78.2 L218.9,79.2 L218.9,80.2 L218.9,81.2 L218.9,82.2 L218.9,83.2 L218.9,84.2 L218.9,85.2 L218.89,86.2 L218.89,87.2 L218.89,88.2 L218.89,89.2 L218.89,90.2 L218.89,91.2 L218.89,92.2 L218.89,93.2 L218.89,94.2 L218.89,95.2 L218.89,96.2 L218.89,97.2 L218.89,98.2 L218.89,99.2 L218.89,100.2 L218.89,101.2 L218.88,102.2 L218.88,103.2 L218.88,104.2 L218.88,105.2 L218.88,106.2 L218.88,107.2 L218.88,108.2 L218.88,109.2 L218.88,110.2 L218.88,111.2 L218.87,112.2 L218.87,113.2 L218.87,114.2 L218.87,115.2 L218.87,116.2 L218.87,117.2 L218.87,118.2 L218.87,119.2 L218.86,120.2 L218.86,121.2 L218.86,122.2 L218.86,123.2 L218.86,124.2 L218.86,125.2 L218.85,126.2 L218.85,127.2 L218.85,128.2 L218.85,129.2 L218.85,130.2 L218.84,131.2 L218.84,132.2 L218.84,133.2 L218.84,134.2 L218.84,135.2 L218.83,136.2 L218.83,137.2 L218.83,138.2 L218.83,139.2 L218.83,140.2 L218.82,141.2 L218.82,142.2 L218.82,143.2 L218.82,144.2 L218.81,145.2 L218.81,146.2 L218.81,147.2 L218.81,148.2 L218.8,149.2 L218.8,150.2 L218.78,151.2 L218.76,152.2 L218.71,153.2 L218.66,154.2 L218.59,155.2 L218.52,156.2 L218.44,157.2 L218.36,158.2 L218.27,159.2 L218.19,160.2 L218.1,161.2 L218.01,162.2 L217.93,163.2 L217.86,164.2 L217.79,165.2 L217.71,166.2 L217.63,167.2 L217.54,168.2 L217.46,169.2 L217.37,170.2 L217.28,171.2 L217.2,172.2 L217.14,173.2 L217.08,174.2 L217.03,175.2 L217.01,176.2 L217.81,177.2 L220.2,177.5 L220.2,177.5 L222.59,177.2 L223.39,176.2 L223.37,175.2 L223.32,174.2 L223.26,173.2 L223.2,172.2 L223.12,171.2 L223.03,170.2 L222.94,169.2 L222.86,168.2 L222.77,167.2 L222.69,166.2 L222.61,165.2 L222.54,164.2 L222.47,163.2 L222.39,162.2 L222.3,161.2 L222.21,160.2 L222.13,159.2 L222.04,158.2 L221.96,157.2 L221.88,156.2 L221.81,155.2 L221.74,154.2 L221.69,153.2 L221.64,152.2 L221.62,151.2 L221.6,150.2 L221.6,149.2 L221.59,148.2 L221.59,147.2 L221.59,146.2 L221.59,145.2 L221.58,144.2 L221.58,143.2 L221.58,142.2 L221.58,141.2 L221.57,140.2 L221.57,139.2 L221.57,138.2 L221.57,137.2 L221.57,136.2 L221.56,135.2 L221.56,134.2 L221.56,133.2 L221.56,132.2 L221.56,131.2 L221.55,130.2 L221.55,129.2 L221.55,128.2 L221.55,127.2 L221.55,126.2 L221.54,125.2 L221.54,124.2 L221.54,123.2 L221.54,122.2 L221.54,121.2 L221.54,120.2 L221.53,119.2 L221.53,118.2 L221.53,117.2 L221.53,116.2 L221.53,115.2 L221.53,114.2 L221.53,113.2 L221.53,112.2 L221.52,111.2 L221.52,110.2 L221.52,109.2 L221.52,108.2 L221.52,107.2 L221.52,106.2 L221.52,105.2 L221.52,104.2 L221.52,103.2 L221.52,102.2 L221.51,101.2 L221.51,100.2 L221.51,99.2 L221.51,98.2 L221.51,97.2 L221.51,96.2 L221.51,95.2 L221.51,94.2 L221.51,93.2 L221.51,92.2 L221.51,91.2 L221.51,90.2 L221.51,89.2 L221.51,88.2 L221.51,87.2 L221.51,86.2 L221.5,85.2 L221.5,84.2 L221.5,83.2 L221.5,82.2 L221.5,81.2 L221.5,80.2 L221.5,79.2 L221.5,78.2 L221.5,77.2 L221.5,76.2 L221.5,75.2 L221.5,74.2 L221.5,73.2 L221.5,72.2 L221.5,71.2 L221.5,70.2 L221.5,69.2 L221.5,68.2 L221.5,67.2 L221.5,66.2 L221.5,65.2 L221.5,64.2 L221.5,63.2 L221.5,62.2 L221.5,61.2 L221.5,60.2 Z" fill="#000"/>
<ellipse cx="220.2" cy="78" rx="2.2" ry="1.76" fill="#000"/>
<ellipse cx="220.2" cy="85.7" rx="2.2" ry="1.76" fill="#000"/>
<ellipse cx="220.2" cy="91.8" rx="2.2" ry="1.76" fill="#000"/>
<ellipse cx="220.2" cy="120.9" rx="2.2" ry="1.76" fill="#000"/>
<ellipse cx="220.2" cy="136.2" rx="2.2" ry="1.76" fill="#000"/>
<ellipse cx="220.2" cy="142.4" rx="2.2" ry="1.76" fill="#000"/>
<ellipse cx="220.2" cy="147" rx="2.2" ry="1.76" fill="#000"/>
<line x1="220.2" y1="150" x2="220.2" y2="293" stroke="#000" stroke-width="1.9"/>
<rect x="214.35" y="213.5" width="11.7" height="27" fill="#fff" stroke="#000" stroke-width="2"/>
<line x1="214.35" y1="227.6" x2="226.05" y2="227.6" stroke="#000" stroke-width="2"/>
<path d="M277.75,60.2 L277.75,61.2 L277.75,62.2 L277.75,63.2 L277.75,64.2 L277.75,65.2 L277.75,66.2 L277.75,67.2 L277.75,68.2 L277.75,69.2 L277.75,70.2 L277.75,71.2 L277.75,72.2 L277.75,73.2 L277.75,74.2 L277.75,75.2 L277.75,76.2 L277.75,77.2 L277.75,78.2 L277.75,79.2 L277.75,80.2 L277.75,81.2 L277.75,82.2 L277.75,83.2 L277.75,84.2 L277.75,85.2 L277.75,86.2 L277.75,87.2 L277.75,88.2 L277.75,89.2 L277.75,90.2 L277.75,91.2 L277.75,92.2 L277.75,93.2 L277.75,94.2 L277.75,95.2 L277.75,96.2 L277.75,97.2 L277.75,98.2 L277.75,99.2 L277.75,100.2 L277.75,101.2 L277.75,102.2 L277.75,103.2 L277.75,104.2 L277.75,105.2 L277.75,106.2 L277.75,107.2 L277.75,108.2 L277.75,109.2 L277.75,110.2 L277.75,111.2 L277.75,112.2 L277.75,113.2 L277.75,114.2 L277.75,115.2 L277.75,116.2 L277.75,117.2 L277.75,118.2 L277.75,119.2 L277.75,120.2 L277.75,121.2 L277.75,122.2 L277.75,123.2 L277.75,124.2 L277.75,125.2 L277.75,126.2 L277.75,127.2 L277.75,128.2 L277.75,129.2 L277.75,130.2 L277.75,131.2 L277.75,132.2 L277.75,133.2 L277.75,134.2 L277.75,135.2 L277.75,136.2 L277.75,137.2 L277.75,138.2 L277.75,139.2 L277.75,140.2 L277.75,141.2 L277.75,142.2 L277.75,143.2 L277.75,144.2 L277.75,145.2 L277.75,146.2 L277.75,147.2 L277.75,148.2 L277.75,149.2 L277.75,150.2 L277.67,151.2 L277.51,152.2 L277.31,153.2 L277.09,154.2 L276.88,155.2 L276.74,156.2 L276.66,157.2 L276.6,158.2 L276.56,159.2 L276.53,160.2 L276.49,161.2 L276.46,162.2 L276.42,163.2 L276.38,164.2 L276.32,165.2 L276.24,166.2 L276.14,167.2 L276.02,168.2 L275.87,169.2 L275.71,170.2 L275.53,171.2 L275.34,172.2 L275.15,173.2 L274.94,174.2 L274.72,175.2 L274.48,176.2 L274.2,177.2 L273.91,178.2 L273.59,179.2 L273.26,180.2 L272.92,181.2 L272.58,182.2 L272.23,183.2 L271.88,184.2 L271.52,185.2 L271.15,186.2 L270.76,187.2 L270.36,188.2 L269.95,189.2 L269.53,190.2 L269.1,191.2 L268.66,192.2 L268.2,193.2 L267.72,194.2 L267.22,195.2 L266.72,196.2 L266.2,197.2 L265.67,198.2 L265.15,199.2 L264.62,200.2 L264.1,201.2 L263.56,202.2 L263.02,203.2 L262.46,204.2 L261.9,205.2 L261.35,206.2 L260.8,207.2 L260.27,208.2 L259.75,209.2 L259.25,210.2 L258.76,211.2 L258.28,212.2 L257.8,213.2 L257.33,214.2 L256.87,215.2 L256.44,216.2 L256.02,217.2 L255.62,218.2 L255.25,219.2 L254.9,220.2 L254.55,221.2 L254.22,222.2 L253.9,223.2 L253.62,224.2 L253.36,225.2 L253.13,226.2 L252.9,227.2 L252.68,228.2 L252.49,229.2 L252.35,230.2 L252.3,231.2 L252.37,232.2 L252.55,233.2 L252.82,234.2 L253.15,235.2 L253.49,236.2 L253.88,237.2 L254.38,238.2 L255,239.2 L255.7,240.2 L256.45,241.2 L257.25,242.2 L258.07,243.2 L258.87,244.2 L259.65,245.2 L260.4,246.2 L261.18,247.2 L261.98,248.2 L262.79,249.2 L263.6,250.2 L264.42,251.2 L265.23,252.2 L266.04,253.2 L266.82,254.2 L267.61,255.2 L268.44,256.2 L269.27,257.2 L270.11,258.2 L270.92,259.2 L271.68,260.2 L272.39,261.2 L273.02,262.2 L273.55,263.2 L274.02,264.2 L274.48,265.2 L274.91,266.2 L275.3,267.2 L275.67,268.2 L276,269.2 L276.29,270.2 L276.54,271.2 L276.74,272.2 L276.92,273.2 L277.09,274.2 L277.25,275.2 L277.39,276.2 L277.52,277.2 L277.63,278.2 L277.71,279.2 L277.77,280.2 L277.81,281.2 L277.83,282.2 L277.85,283.2 L277.87,284.2 L277.88,285.2 L277.89,286.2 L277.9,287.2 L277.9,287.6 L277.9,287.6 L277.9,287.2 L277.91,286.2 L277.92,285.2 L277.93,284.2 L277.95,283.2 L277.97,282.2 L277.99,281.2 L278.03,280.2 L278.09,279.2 L278.17,278.2 L278.28,277.2 L278.41,276.2 L278.55,275.2 L278.71,274.2 L278.88,273.2 L279.06,272.2 L279.26,271.2 L279.51,270.2 L279.8,269.2 L280.13,268.2 L280.5,267.2 L280.89,266.2 L281.32,265.2 L281.78,264.2 L282.25,263.2 L282.78,262.2 L283.41,261.2 L284.12,260.2 L284.88,259.2 L285.69,258.2 L286.53,257.2 L287.36,256.2 L288.19,255.2 L288.98,254.2 L289.76,253.2 L290.57,252.2 L291.38,251.2 L292.2,250.2 L293.01,249.2 L293.82,248.2 L294.62,247.2 L295.4,246.2 L296.15,245.2 L296.93,244.2 L297.73,243.2 L298.55,242.2 L299.35,241.2 L300.1,240.2 L300.8,239.2 L301.42,238.2 L301.92,237.2 L302.31,236.2 L302.65,235.2 L302.98,234.2 L303.25,233.2 L303.43,232.2 L303.5,231.2 L303.45,230.2 L303.31,229.2 L303.12,228.2 L302.9,227.2 L302.67,226.2 L302.44,225.2 L302.18,224.2 L301.9,223.2 L301.58,222.2 L301.25,221.2 L300.9,220.2 L300.55,219.2 L300.18,218.2 L299.78,217.2 L299.36,216.2 L298.93,215.2 L298.47,214.2 L298,213.2 L297.52,212.2 L297.04,211.2 L296.55,210.2 L296.05,209.2 L295.53,208.2 L295,207.2 L294.45,206.2 L293.9,205.2 L293.34,204.2 L292.78,203.2 L292.24,202.2 L291.7,201.2 L291.18,200.2 L290.65,199.2 L290.13,198.2 L289.6,197.2 L289.08,196.2 L288.58,195.2 L288.08,194.2 L287.6,193.2 L287.14,192.2 L286.7,191.2 L286.27,190.2 L285.85,189.2 L285.44,188.2 L285.04,187.2 L284.65,186.2 L284.28,185.2 L283.92,184.2 L283.57,183.2 L283.22,182.2 L282.88,181.2 L282.54,180.2 L282.21,179.2 L281.89,178.2 L281.6,177.2 L281.32,176.2 L281.08,175.2 L280.86,174.2 L280.65,173.2 L280.46,172.2 L280.27,171.2 L280.09,170.2 L279.93,169.2 L279.78,168.2 L279.66,167.2 L279.56,166.2 L279.48,165.2 L279.42,164.2 L279.38,163.2 L279.34,162.2 L279.31,161.2 L279.27,160.2 L279.24,159.2 L279.2,158.2 L279.14,157.2 L279.06,156.2 L278.92,155.2 L278.71,154.2 L278.49,153.2 L278.29,152.2 L278.13,151.2 L278.05,150.2 L278.05,149.2 L278.05,148.2 L278.05,147.2 L278.05,146.2 L278.05,145.2 L278.05,144.2 L278.05,143.2 L278.05,142.2 L278.05,141.2 L278.05,140.2 L278.05,139.2 L278.05,138.2 L278.05,137.2 L278.05,136.2 L278.05,135.2 L278.05,134.2 L278.05,133.2 L278.05,132.2 L278.05,131.2 L278.05,130.2 L278.05,129.2 L278.05,128.2 L278.05,127.2 L278.05,126.2 L278.05,125.2 L278.05,124.2 L278.05,123.2 L278.05,122.2 L278.05,121.2 L278.05,120.2 L278.05,119.2 L278.05,118.2 L278.05,117.2 L278.05,116.2 L278.05,115.2 L278.05,114.2 L278.05,113.2 L278.05,112.2 L278.05,111.2 L278.05,110.2 L278.05,109.2 L278.05,108.2 L278.05,107.2 L278.05,106.2 L278.05,105.2 L278.05,104.2 L278.05,103.2 L278.05,102.2 L278.05,101.2 L278.05,100.2 L278.05,99.2 L278.05,98.2 L278.05,97.2 L278.05,96.2 L278.05,95.2 L278.05,94.2 L278.05,93.2 L278.05,92.2 L278.05,91.2 L278.05,90.2 L278.05,89.2 L278.05,88.2 L278.05,87.2 L278.05,86.2 L278.05,85.2 L278.05,84.2 L278.05,83.2 L278.05,82.2 L278.05,81.2 L278.05,80.2 L278.05,79.2 L278.05,78.2 L278.05,77.2 L278.05,76.2 L278.05,75.2 L278.05,74.2 L278.05,73.2 L278.05,72.2 L278.05,71.2 L278.05,70.2 L278.05,69.2 L278.05,68.2 L278.05,67.2 L278.05,66.2 L278.05,65.2 L278.05,64.2 L278.05,63.2 L278.05,62.2 L278.05,61.2 L278.05,60.2 Z" fill="#00AEEF" stroke="#000" stroke-width="2.1" stroke-linejoin="round"/>
<path d="M276.6,60.2 L276.6,61.2 L276.6,62.2 L276.6,63.2 L276.6,64.2 L276.6,65.2 L276.6,66.2 L276.6,67.2 L276.6,68.2 L276.6,69.2 L276.6,70.2 L276.6,71.2 L276.6,72.2 L276.6,73.2 L276.6,74.2 L276.6,75.2 L276.6,76.2 L276.6,77.2 L276.6,78.2 L276.6,79.2 L276.6,80.2 L276.6,81.2 L276.59,82.2 L276.59,83.2 L276.59,84.2 L276.59,85.2 L276.59,86.2 L276.59,87.2 L276.59,88.2 L276.59,89.2 L276.59,90.2 L276.59,91.2 L276.59,92.2 L276.59,93.2 L276.59,94.2 L276.58,95.2 L276.58,96.2 L276.58,97.2 L276.58,98.2 L276.58,99.2 L276.58,100.2 L276.58,101.2 L276.58,102.2 L276.57,103.2 L276.57,104.2 L276.57,105.2 L276.57,106.2 L276.57,107.2 L276.57,108.2 L276.57,109.2 L276.56,110.2 L276.56,111.2 L276.56,112.2 L276.56,113.2 L276.56,114.2 L276.55,115.2 L276.55,116.2 L276.55,117.2 L276.55,118.2 L276.55,119.2 L276.54,120.2 L276.54,121.2 L276.54,122.2 L276.54,123.2 L276.53,124.2 L276.53,125.2 L276.53,126.2 L276.52,127.2 L276.52,128.2 L276.52,129.2 L276.52,130.2 L276.51,131.2 L276.51,132.2 L276.51,133.2 L276.5,134.2 L276.5,135.2 L276.5,136.2 L276.49,137.2 L276.49,138.2 L276.49,139.2 L276.48,140.2 L276.48,141.2 L276.47,142.2 L276.47,143.2 L276.47,144.2 L276.46,145.2 L276.46,146.2 L276.45,147.2 L276.45,148.2 L276.44,149.2 L276.44,150.2 L276.43,151.2 L276.43,152.2 L276.42,153.2 L276.42,154.2 L276.41,155.2 L276.41,156.2 L276.4,157.2 L276.4,158.2 L276.38,159.2 L276.33,160.2 L276.27,161.2 L276.19,162.2 L276.1,163.2 L276,164.2 L275.9,165.2 L275.79,166.2 L275.68,167.2 L275.58,168.2 L275.43,169.2 L275.27,170.2 L275.14,171.2 L275.79,172.2 L277.9,172.5 L277.9,172.5 L280.01,172.2 L280.66,171.2 L280.53,170.2 L280.37,169.2 L280.22,168.2 L280.12,167.2 L280.01,166.2 L279.9,165.2 L279.8,164.2 L279.7,163.2 L279.61,162.2 L279.53,161.2 L279.47,160.2 L279.42,159.2 L279.4,158.2 L279.4,157.2 L279.39,156.2 L279.39,155.2 L279.38,154.2 L279.38,153.2 L279.37,152.2 L279.37,151.2 L279.36,150.2 L279.36,149.2 L279.35,148.2 L279.35,147.2 L279.34,146.2 L279.34,145.2 L279.33,144.2 L279.33,143.2 L279.33,142.2 L279.32,141.2 L279.32,140.2 L279.31,139.2 L279.31,138.2 L279.31,137.2 L279.3,136.2 L279.3,135.2 L279.3,134.2 L279.29,133.2 L279.29,132.2 L279.29,131.2 L279.28,130.2 L279.28,129.2 L279.28,128.2 L279.28,127.2 L279.27,126.2 L279.27,125.2 L279.27,124.2 L279.26,123.2 L279.26,122.2 L279.26,121.2 L279.26,120.2 L279.25,119.2 L279.25,118.2 L279.25,117.2 L279.25,116.2 L279.25,115.2 L279.24,114.2 L279.24,113.2 L279.24,112.2 L279.24,111.2 L279.24,110.2 L279.23,109.2 L279.23,108.2 L279.23,107.2 L279.23,106.2 L279.23,105.2 L279.23,104.2 L279.23,103.2 L279.22,102.2 L279.22,101.2 L279.22,100.2 L279.22,99.2 L279.22,98.2 L279.22,97.2 L279.22,96.2 L279.22,95.2 L279.21,94.2 L279.21,93.2 L279.21,92.2 L279.21,91.2 L279.21,90.2 L279.21,89.2 L279.21,88.2 L279.21,87.2 L279.21,86.2 L279.21,85.2 L279.21,84.2 L279.21,83.2 L279.21,82.2 L279.2,81.2 L279.2,80.2 L279.2,79.2 L279.2,78.2 L279.2,77.2 L279.2,76.2 L279.2,75.2 L279.2,74.2 L279.2,73.2 L279.2,72.2 L279.2,71.2 L279.2,70.2 L279.2,69.2 L279.2,68.2 L279.2,67.2 L279.2,66.2 L279.2,65.2 L279.2,64.2 L279.2,63.2 L279.2,62.2 L279.2,61.2 L279.2,60.2 Z" fill="#000"/>
<ellipse cx="277.9" cy="90.3" rx="2.2" ry="1.76" fill="#000"/>
<ellipse cx="277.9" cy="94.9" rx="2.2" ry="1.76" fill="#000"/>
<ellipse cx="277.9" cy="110.2" rx="2.2" ry="1.76" fill="#000"/>
<ellipse cx="277.9" cy="116.3" rx="2.2" ry="1.76" fill="#000"/>
<ellipse cx="277.9" cy="125.5" rx="2.2" ry="1.76" fill="#000"/>
<ellipse cx="277.9" cy="134.7" rx="2.2" ry="1.76" fill="#000"/>
<line x1="277.9" y1="150" x2="277.9" y2="287.6" stroke="#000" stroke-width="1.9"/>
<rect x="272.05" y="208.2" width="11.7" height="29.1" fill="#fff" stroke="#000" stroke-width="2"/>
<line x1="272.05" y1="224.1" x2="283.75" y2="224.1" stroke="#000" stroke-width="2"/>
<line x1="104.2" y1="296.9" x2="104.2" y2="299.6" stroke="#000" stroke-width="2.2"/>
<text x="104.8" y="315" font-size="17.9" font-weight="normal" text-anchor="middle" stroke="#000" stroke-width="0.35">Control</text>
<line x1="162" y1="296.9" x2="162" y2="299.6" stroke="#000" stroke-width="2.2"/>
<text x="162.6" y="315" font-size="17.9" font-weight="normal" text-anchor="middle" stroke="#000" stroke-width="0.35">ac<tspan dy="-5.4" font-size="10.2">4</tspan><tspan dy="5.4">C</tspan></text>
<line x1="220.2" y1="296.9" x2="220.2" y2="299.6" stroke="#000" stroke-width="2.2"/>
<text x="220.8" y="315" font-size="17.9" font-weight="normal" text-anchor="middle" stroke="#000" stroke-width="0.35">m<tspan dy="-5.4" font-size="10.2">5</tspan><tspan dy="5.4">C</tspan></text>
<line x1="277.9" y1="296.9" x2="277.9" y2="299.6" stroke="#000" stroke-width="2.2"/>
<text x="278.5" y="315" font-size="17.9" font-weight="normal" text-anchor="middle" stroke="#000" stroke-width="0.35">m<tspan dy="-5.4" font-size="10.2">6</tspan><tspan dy="5.4">A</tspan></text>
<clipPath id="clip10"><rect x="389.9" y="26.5" width="292.3" height="266.2"/></clipPath>
<g clip-path="url(#clip10)">
<polyline points="389.9,282.5 390.97,282.5 392.04,282.5 393.11,282.5 394.18,282.5 395.25,282.5 396.32,282.5 397.38,282.5 398.45,282.5 399.52,282.5 400.59,282.5 401.66,282.5 402.73,282.5 403.8,282.5 404.87,282.5 405.94,282.5 407.01,282.46 408.08,282.27 409.15,281.99 410.21,281.92 411.28,281.87 412.35,281.52 413.42,280.79 414.49,280.03 415.56,279.53 416.63,279.14 417.7,278.67 418.77,278.11 419.84,277.56 420.91,276.91 421.98,276.2 423.05,275.35 424.11,274.21 425.18,272.85 426.25,271.29 427.32,270.03 428.39,268.95 429.46,267.45 430.53,265.76 431.6,264.25 432.67,262.49 433.74,260.89 434.81,259.4 435.88,257.45 436.94,255.39 438.01,253.24 439.08,251.05 440.15,248.74 441.22,246.72 442.29,245.15 443.36,243.31 444.43,241.44 445.5,239.54 446.57,236.99 447.64,234.68 448.71,232.25 449.78,229.33 450.84,227.75 451.91,226.82 452.98,224.97 454.05,222.62 455.12,219.58 456.19,216.38 457.26,213.98 458.33,211.31 459.4,207.59 460.47,204.17 461.54,201.67 462.61,198.21 463.67,193.84 464.74,189.7 465.81,186.04 466.88,182.38 467.95,178.29 469.02,173.81 470.09,170.38 471.16,168.42 472.23,165.57 473.3,162.63 474.37,158.69 475.44,153.03 476.51,150.26 477.57,149.37 478.64,146.06 479.71,142.71 480.78,140.1 481.85,135.65 482.92,131.14 483.99,128.7 485.06,126.04 486.13,121.57 487.2,118.02 488.27,115.85 489.34,112.99 490.4,109.21 491.47,106.34 492.54,104.55 493.61,101.96 494.68,99.97 495.75,98.78 496.82,96.84 497.89,95.04 498.96,92.46 500.03,89.33 501.1,87.4 502.17,85.87 503.24,83.71 504.3,81.29 505.37,79.94 506.44,79.15 507.51,77.86 508.58,75.94 509.65,74.37 510.72,74.37 511.79,74.37 512.86,73.68 513.93,72.97 515,72.01 516.07,71.67 517.13,71.67 518.2,71.02 519.27,69.54 520.34,67.06 521.41,65.04 522.48,64.63 523.55,64.31 524.62,63.46 525.69,62.34 526.76,61.05 527.83,60.42 528.9,60.35 529.97,59.93 531.03,58.76 532.1,57.67 533.17,57.02 534.24,55.64 535.31,54.12 536.38,53.03 537.45,51.73 538.52,51.04 539.59,51.04 540.66,50.82 541.73,49.84 542.8,48.89 543.86,47.82 544.93,47.17 546,47.17 547.07,46.88 548.14,46.01 549.21,45.37 550.28,45.09 551.35,44.73 552.42,44.29 553.49,44.19 554.56,44.17 555.63,44.01 556.7,43.75 557.76,43.25 558.83,43.24 559.9,43.24 560.97,42.82 562.04,42.37 563.11,42.19 564.18,42.19 565.25,42.19 566.32,42.19 567.39,41.92 568.46,41.67 569.53,41.44 570.59,41.44 571.66,41.41 572.73,40.94 573.8,40.59 574.87,40.59 575.94,40.59 577.01,40.59 578.08,40.35 579.15,40.16 580.22,40.1 581.29,40.1 582.36,40.1 583.43,40.1 584.49,39.87 585.56,39.59 586.63,39.45 587.7,39.45 588.77,39.45 589.84,39.45 590.91,39.45 591.98,39.35 593.05,39.29 594.12,39.29 595.19,39.29 596.26,39.22 597.32,39.06 598.39,38.88 599.46,38.86 600.53,38.86 601.6,38.82 602.67,38.79 603.74,38.73 604.81,38.69 605.88,38.69 606.95,38.69 608.02,38.69 609.09,38.69 610.16,38.67 611.22,38.66 612.29,38.66 613.36,38.66 614.43,38.66 615.5,38.58 616.57,38.58 617.64,38.58 618.71,38.58 619.78,38.58 620.85,38.58 621.92,38.58 622.99,38.53 624.05,38.53 625.12,38.53 626.19,38.53 627.26,38.53 628.33,38.53 629.4,38.53 630.47,38.53 631.54,38.53 632.61,38.53 633.68,38.53 634.75,38.53 635.82,38.53 636.89,38.53 637.95,38.53 639.02,38.53 640.09,38.53 641.16,38.53 642.23,38.53 643.3,38.53 644.37,38.53 645.44,38.53 646.51,38.53 647.58,38.53 648.65,38.53 649.72,38.53 650.78,38.53 651.85,38.53 652.92,38.53 653.99,38.53 655.06,38.48 656.13,38.46 657.2,38.46 658.27,38.46 659.34,38.46 660.41,38.46 661.48,38.46 662.55,38.46 663.62,38.46 664.68,38.46 665.75,38.46 666.82,38.46 667.89,38.46 668.96,38.46 670.03,38.46 671.1,38.46 672.17,38.46 673.24,38.46 674.31,38.46 675.38,38.46 676.45,38.46 677.51,38.46 678.58,38.46 679.65,38.46 680.72,38.46 681.79,38.46" fill="none" stroke="#FFF200" stroke-width="2.6" stroke-linejoin="round" stroke-linecap="butt"/>
<polyline points="389.9,282.5 390.97,282.5 392.04,282.5 393.11,282.5 394.18,282.5 395.25,282.5 396.32,282.5 397.38,282.5 398.45,282.5 399.52,282.5 400.59,282.5 401.66,282.5 402.73,282.5 403.8,282.5 404.87,282.5 405.94,282.5 407.01,282.5 408.08,282.5 409.15,282.5 410.21,282.48 411.28,282.4 412.35,282.27 413.42,282.09 414.49,281.87 415.56,281.67 416.63,281.46 417.7,281.15 418.77,280.76 419.84,280.25 420.91,279.64 421.98,278.96 423.05,278.22 424.11,277.45 425.18,276.61 426.25,275.61 427.32,274.48 428.39,273.17 429.46,271.88 430.53,270.59 431.6,269.03 432.67,267.49 433.74,265.85 434.81,263.78 435.88,261.47 436.94,259.27 438.01,257.23 439.08,254.97 440.15,252.8 441.22,250.85 442.29,248.47 443.36,245.7 444.43,243.06 445.5,240.57 446.57,238.14 447.64,235.68 448.71,232.95 449.78,230.21 450.84,227.63 451.91,224.68 452.98,221.62 454.05,218.4 455.12,214.64 456.19,210.95 457.26,206.77 458.33,202.34 459.4,198.56 460.47,194.25 461.54,189.57 462.61,185.48 463.67,181.09 464.74,176.31 465.81,171.81 466.88,167.56 467.95,163.33 469.02,159.16 470.09,155.28 471.16,151.71 472.23,148.19 473.3,144.59 474.37,140.6 475.44,136.45 476.51,132.51 477.57,128.11 478.64,124.08 479.71,121 480.78,117.66 481.85,113.87 482.92,110.34 483.99,107.28 485.06,104.28 486.13,101.33 487.2,98.35 488.27,95.5 489.34,93.09 490.4,90.52 491.47,87.8 492.54,85.51 493.61,83.4 494.68,81.04 495.75,78.89 496.82,77.12 497.89,75.75 498.96,74.53 500.03,72.87 501.1,71.14 502.17,69.81 503.24,68.42 504.3,66.8 505.37,65.58 506.44,64.62 507.51,63.72 508.58,63.16 509.65,62.21 510.72,60.79 511.79,59.67 512.86,58.66 513.93,57.69 515,56.79 516.07,55.82 517.13,55.03 518.2,54.23 519.27,53.14 520.34,51.98 521.41,51.04 522.48,50.37 523.55,49.61 524.62,48.81 525.69,48.02 526.76,47.28 527.83,46.89 528.9,46.6 529.97,46.15 531.03,45.77 532.1,45.52 533.17,45.1 534.24,44.61 535.31,44.34 536.38,44.19 537.45,43.98 538.52,43.78 539.59,43.54 540.66,43.19 541.73,42.94 542.8,42.84 543.86,42.75 544.93,42.54 546,42.28 547.07,42.13 548.14,42 549.21,41.79 550.28,41.64 551.35,41.58 552.42,41.49 553.49,41.37 554.56,41.2 555.63,40.96 556.7,40.8 557.76,40.73 558.83,40.69 559.9,40.58 560.97,40.42 562.04,40.29 563.11,40.19 564.18,40.08 565.25,39.92 566.32,39.76 567.39,39.67 568.46,39.64 569.53,39.62 570.59,39.58 571.66,39.54 572.73,39.49 573.8,39.48 574.87,39.48 575.94,39.45 577.01,39.39 578.08,39.37 579.15,39.37 580.22,39.37 581.29,39.37 582.36,39.35 583.43,39.29 584.49,39.27 585.56,39.27 586.63,39.27 587.7,39.27 588.77,39.27 589.84,39.22 590.91,39.17 591.98,39.17 593.05,39.17 594.12,39.17 595.19,39.17 596.26,39.17 597.32,39.16 598.39,39.12 599.46,39.09 600.53,39.05 601.6,39.05 602.67,39.03 603.74,38.97 604.81,38.97 605.88,38.97 606.95,38.97 608.02,38.97 609.09,38.97 610.16,38.97 611.22,38.97 612.29,38.97 613.36,38.97 614.43,38.93 615.5,38.87 616.57,38.86 617.64,38.86 618.71,38.86 619.78,38.86 620.85,38.86 621.92,38.86 622.99,38.86 624.05,38.86 625.12,38.86 626.19,38.86 627.26,38.86 628.33,38.82 629.4,38.79 630.47,38.79 631.54,38.79 632.61,38.79 633.68,38.77 634.75,38.77 635.82,38.77 636.89,38.77 637.95,38.76 639.02,38.75 640.09,38.75 641.16,38.75 642.23,38.75 643.3,38.74 644.37,38.71 645.44,38.7 646.51,38.68 647.58,38.68 648.65,38.68 649.72,38.68 650.78,38.68 651.85,38.68 652.92,38.68 653.99,38.68 655.06,38.68 656.13,38.68 657.2,38.68 658.27,38.68 659.34,38.67 660.41,38.63 661.48,38.63 662.55,38.63 663.62,38.63 664.68,38.63 665.75,38.63 666.82,38.63 667.89,38.62 668.96,38.61 670.03,38.61 671.1,38.61 672.17,38.61 673.24,38.61 674.31,38.61 675.38,38.61 676.45,38.61 677.51,38.61 678.58,38.61 679.65,38.61 680.72,38.61 681.79,38.61" fill="none" stroke="#ED1C24" stroke-width="2.6" stroke-linejoin="round" stroke-linecap="butt"/>
<polyline points="389.9,282.5 390.97,282.5 392.04,282.5 393.11,282.5 394.18,282.5 395.25,282.5 396.32,282.5 397.38,282.5 398.45,282.5 399.52,282.5 400.59,282.5 401.66,282.5 402.73,282.5 403.8,282.5 404.87,282.5 405.94,282.5 407.01,282.5 408.08,282.5 409.15,282.5 410.21,282.48 411.28,282.42 412.35,282.33 413.42,282.21 414.49,282.07 415.56,281.97 416.63,281.85 417.7,281.59 418.77,281.19 419.84,280.64 420.91,279.93 421.98,279.12 423.05,278.28 424.11,277.42 425.18,276.55 426.25,275.48 427.32,274.24 428.39,272.94 429.46,271.4 430.53,269.69 431.6,268 432.67,266.06 433.74,263.65 434.81,261 435.88,258.48 436.94,255.99 438.01,253.3 439.08,250.26 440.15,247.5 441.22,245.18 442.29,242.12 443.36,238.73 444.43,235.76 445.5,232.58 446.57,228.82 447.64,225.31 448.71,222 449.78,218.24 450.84,214.01 451.91,209.29 452.98,204.15 454.05,198.82 455.12,193.6 456.19,188.33 457.26,182.8 458.33,177.42 459.4,172.53 460.47,167.62 461.54,162.57 462.61,158.19 463.67,153.75 464.74,148.78 465.81,143.76 466.88,139.31 467.95,135.11 469.02,130.18 470.09,125.63 471.16,121.89 472.23,118.01 473.3,114.06 474.37,110.34 475.44,106.87 476.51,103.33 477.57,99.59 478.64,95.91 479.71,92.76 480.78,90.44 481.85,87.93 482.92,84.88 483.99,82.06 485.06,79.52 486.13,77.28 487.2,75.17 488.27,72.71 489.34,70.19 490.4,68.12 491.47,66.17 492.54,64.21 493.61,62.56 494.68,60.87 495.75,59.32 496.82,58.13 497.89,56.8 498.96,55.33 500.03,54.06 501.1,52.98 502.17,52.02 503.24,51.15 504.3,50.06 505.37,49.1 506.44,48.62 507.51,48.22 508.58,47.79 509.65,47.29 510.72,46.88 511.79,46.7 512.86,46.58 513.93,46.3 515,45.93 516.07,45.75 517.13,45.44 518.2,44.89 519.27,44.53 520.34,44.36 521.41,44.12 522.48,43.75 523.55,43.32 524.62,42.98 525.69,42.65 526.76,42.2 527.83,41.81 528.9,41.55 529.97,41.26 531.03,40.92 532.1,40.69 533.17,40.6 534.24,40.47 535.31,40.34 536.38,40.33 537.45,40.25 538.52,40.07 539.59,39.95 540.66,39.95 541.73,39.95 542.8,39.83 543.86,39.71 544.93,39.67 546,39.6 547.07,39.54 548.14,39.54 549.21,39.54 550.28,39.54 551.35,39.47 552.42,39.41 553.49,39.39 554.56,39.34 555.63,39.25 556.7,39.18 557.76,39.17 558.83,39.15 559.9,39.09 560.97,39.08 562.04,39.08 563.11,39.05 564.18,39.03 565.25,38.98 566.32,38.89 567.39,38.86 568.46,38.86 569.53,38.86 570.59,38.84 571.66,38.82 572.73,38.79 573.8,38.75 574.87,38.73 575.94,38.73 577.01,38.73 578.08,38.72 579.15,38.72 580.22,38.72 581.29,38.72 582.36,38.71 583.43,38.68 584.49,38.66 585.56,38.66 586.63,38.66 587.7,38.66 588.77,38.65 589.84,38.64 590.91,38.64 591.98,38.64 593.05,38.64 594.12,38.64 595.19,38.64 596.26,38.64 597.32,38.64 598.39,38.64 599.46,38.63 600.53,38.63 601.6,38.63 602.67,38.63 603.74,38.62 604.81,38.61 605.88,38.6 606.95,38.6 608.02,38.59 609.09,38.59 610.16,38.59 611.22,38.57 612.29,38.56 613.36,38.56 614.43,38.55 615.5,38.54 616.57,38.54 617.64,38.54 618.71,38.54 619.78,38.54 620.85,38.54 621.92,38.54 622.99,38.54 624.05,38.54 625.12,38.54 626.19,38.54 627.26,38.54 628.33,38.54 629.4,38.54 630.47,38.54 631.54,38.54 632.61,38.54 633.68,38.54 634.75,38.54 635.82,38.54 636.89,38.53 637.95,38.52 639.02,38.52 640.09,38.51 641.16,38.49 642.23,38.49 643.3,38.49 644.37,38.49 645.44,38.49 646.51,38.49 647.58,38.49 648.65,38.49 649.72,38.49 650.78,38.49 651.85,38.49 652.92,38.49 653.99,38.49 655.06,38.49 656.13,38.49 657.2,38.49 658.27,38.49 659.34,38.49 660.41,38.49 661.48,38.49 662.55,38.49 663.62,38.49 664.68,38.49 665.75,38.49 666.82,38.49 667.89,38.49 668.96,38.49 670.03,38.49 671.1,38.49 672.17,38.49 673.24,38.49 674.31,38.49 675.38,38.49 676.45,38.49 677.51,38.49 678.58,38.49 679.65,38.49 680.72,38.49 681.79,38.49" fill="none" stroke="#00A651" stroke-width="2.6" stroke-linejoin="round" stroke-linecap="butt"/>
<polyline points="389.9,282.5 390.97,282.5 392.04,282.5 393.11,282.5 394.18,282.5 395.25,282.5 396.32,282.5 397.38,282.5 398.45,282.5 399.52,282.5 400.59,282.5 401.66,282.5 402.73,282.5 403.8,282.5 404.87,282.5 405.94,282.5 407.01,282.5 408.08,282.5 409.15,282.5 410.21,282.49 411.28,282.43 412.35,282.32 413.42,282.2 414.49,282.1 415.56,281.93 416.63,281.76 417.7,281.53 418.77,281.1 419.84,280.56 420.91,280.04 421.98,279.31 423.05,278.5 424.11,277.87 425.18,277.12 426.25,276.04 427.32,274.82 428.39,273.62 429.46,272.39 430.53,270.86 431.6,269.14 432.67,267.29 433.74,265.23 434.81,263.18 435.88,260.83 436.94,258.22 438.01,256 439.08,253.83 440.15,251.3 441.22,248.68 442.29,246.01 443.36,243.47 444.43,241.04 445.5,238.44 446.57,235.47 447.64,232.06 448.71,228.91 449.78,226.13 450.84,223 451.91,219.67 452.98,216.22 454.05,212.36 455.12,208.34 456.19,204.17 457.26,199.34 458.33,194.11 459.4,189.22 460.47,184.73 461.54,180.04 462.61,174.85 463.67,170.1 464.74,166.25 465.81,162.27 466.88,157.86 467.95,153.57 469.02,149.45 470.09,145.25 471.16,141.03 472.23,136.79 473.3,132.75 474.37,128.66 475.44,124.62 476.51,121.04 477.57,117.2 478.64,113.07 479.71,109.42 480.78,106.52 481.85,103.64 482.92,100.26 483.99,97.21 485.06,94.85 486.13,92.29 487.2,89.11 488.27,86.23 489.34,83.94 490.4,81.87 491.47,79.99 492.54,78.11 493.61,76.38 494.68,74.73 495.75,72.97 496.82,71.32 497.89,69.72 498.96,68.09 500.03,66.49 501.1,64.93 502.17,63.57 503.24,62.3 504.3,61.06 505.37,59.94 506.44,58.7 507.51,57.71 508.58,57 509.65,55.94 510.72,54.89 511.79,54.32 512.86,53.95 513.93,53.46 515,52.87 516.07,52.29 517.13,51.74 518.2,51.15 519.27,50.48 520.34,49.85 521.41,49.29 522.48,48.59 523.55,47.74 524.62,46.97 525.69,46.31 526.76,45.76 527.83,45.4 528.9,45.05 529.97,44.64 531.03,44.22 532.1,43.87 533.17,43.64 534.24,43.43 535.31,43.15 536.38,42.79 537.45,42.47 538.52,42.25 539.59,42 540.66,41.8 541.73,41.71 542.8,41.63 543.86,41.52 544.93,41.29 546,41.1 547.07,41.01 548.14,40.86 549.21,40.7 550.28,40.63 551.35,40.57 552.42,40.48 553.49,40.4 554.56,40.25 555.63,40.08 556.7,40.07 557.76,40.04 558.83,39.92 559.9,39.8 560.97,39.73 562.04,39.72 563.11,39.68 564.18,39.58 565.25,39.44 566.32,39.37 567.39,39.37 568.46,39.33 569.53,39.27 570.59,39.24 571.66,39.17 572.73,39.11 573.8,39.09 574.87,39.03 575.94,38.99 577.01,38.99 578.08,38.95 579.15,38.94 580.22,38.94 581.29,38.91 582.36,38.91 583.43,38.91 584.49,38.91 585.56,38.91 586.63,38.91 587.7,38.88 588.77,38.86 589.84,38.86 590.91,38.86 591.98,38.85 593.05,38.83 594.12,38.81 595.19,38.79 596.26,38.79 597.32,38.79 598.39,38.79 599.46,38.79 600.53,38.77 601.6,38.76 602.67,38.75 603.74,38.75 604.81,38.75 605.88,38.75 606.95,38.75 608.02,38.73 609.09,38.67 610.16,38.67 611.22,38.67 612.29,38.67 613.36,38.67 614.43,38.67 615.5,38.67 616.57,38.67 617.64,38.67 618.71,38.67 619.78,38.67 620.85,38.67 621.92,38.67 622.99,38.67 624.05,38.67 625.12,38.67 626.19,38.67 627.26,38.66 628.33,38.66 629.4,38.66 630.47,38.64 631.54,38.63 632.61,38.63 633.68,38.63 634.75,38.61 635.82,38.61 636.89,38.61 637.95,38.61 639.02,38.61 640.09,38.61 641.16,38.61 642.23,38.59 643.3,38.59 644.37,38.59 645.44,38.59 646.51,38.59 647.58,38.59 648.65,38.59 649.72,38.58 650.78,38.58 651.85,38.58 652.92,38.58 653.99,38.58 655.06,38.58 656.13,38.58 657.2,38.56 658.27,38.56 659.34,38.56 660.41,38.56 661.48,38.56 662.55,38.56 663.62,38.56 664.68,38.54 665.75,38.54 666.82,38.54 667.89,38.54 668.96,38.53 670.03,38.53 671.1,38.53 672.17,38.53 673.24,38.53 674.31,38.53 675.38,38.53 676.45,38.53 677.51,38.53 678.58,38.53 679.65,38.53 680.72,38.53 681.79,38.53" fill="none" stroke="#00AEEF" stroke-width="2.6" stroke-linejoin="round" stroke-linecap="butt"/>
</g>
<rect x="389.9" y="26.5" width="292.3" height="266.2" fill="none" stroke="#000" stroke-width="2.5"/>
<line x1="387.8" y1="282.5" x2="389.9" y2="282.5" stroke="#000" stroke-width="2"/>
<text x="385.2" y="289.51" font-size="17.9" font-weight="normal" text-anchor="end" stroke="#000" stroke-width="0.35">0.00</text>
<line x1="387.8" y1="221.49" x2="389.9" y2="221.49" stroke="#000" stroke-width="2"/>
<text x="385.2" y="228.5" font-size="17.9" font-weight="normal" text-anchor="end" stroke="#000" stroke-width="0.35">0.25</text>
<line x1="387.8" y1="160.47" x2="389.9" y2="160.47" stroke="#000" stroke-width="2"/>
<text x="385.2" y="167.48" font-size="17.9" font-weight="normal" text-anchor="end" stroke="#000" stroke-width="0.35">0.50</text>
<line x1="387.8" y1="99.46" x2="389.9" y2="99.46" stroke="#000" stroke-width="2"/>
<text x="385.2" y="106.47" font-size="17.9" font-weight="normal" text-anchor="end" stroke="#000" stroke-width="0.35">0.75</text>
<line x1="387.8" y1="38.45" x2="389.9" y2="38.45" stroke="#000" stroke-width="2"/>
<text x="385.2" y="45.46" font-size="17.9" font-weight="normal" text-anchor="end" stroke="#000" stroke-width="0.35">1.00</text>
<line x1="402.2" y1="292.7" x2="402.2" y2="294.9" stroke="#000" stroke-width="2"/>
<text x="402.2" y="310.5" font-size="17.9" font-weight="normal" text-anchor="middle" stroke="#000" stroke-width="0.35">0</text>
<line x1="491.3" y1="292.7" x2="491.3" y2="294.9" stroke="#000" stroke-width="2"/>
<text x="491.3" y="310.5" font-size="17.9" font-weight="normal" text-anchor="middle" stroke="#000" stroke-width="0.35">1</text>
<line x1="580.4" y1="292.7" x2="580.4" y2="294.9" stroke="#000" stroke-width="2"/>
<text x="580.4" y="310.5" font-size="17.9" font-weight="normal" text-anchor="middle" stroke="#000" stroke-width="0.35">2</text>
<line x1="669.5" y1="292.7" x2="669.5" y2="294.9" stroke="#000" stroke-width="2"/>
<text x="669.5" y="310.5" font-size="17.9" font-weight="normal" text-anchor="middle" stroke="#000" stroke-width="0.35">3</text>
<text x="343" y="162" font-size="17.9" font-weight="normal" text-anchor="middle" stroke="#000" stroke-width="0.35" transform="rotate(-90 343 162)">Cumulative probability</text>
<line x1="522.3" y1="200.2" x2="541.1" y2="200.2" stroke="#ED1C24" stroke-width="2.3"/>
<text x="547.4" y="205.31" font-size="17.2" font-weight="normal" text-anchor="start" stroke="#000" stroke-width="0.35">Control</text>
<line x1="522.3" y1="224.1" x2="541.1" y2="224.1" stroke="#FFF200" stroke-width="2.3"/>
<text x="547.4" y="229.91" font-size="17.9" font-weight="normal" text-anchor="start" stroke="#000" stroke-width="0.35">ac<tspan dy="-5.4" font-size="10.2">4</tspan><tspan dy="5.4">C</tspan></text>
<line x1="522.3" y1="247.9" x2="541.1" y2="247.9" stroke="#00A651" stroke-width="2.3"/>
<text x="547.4" y="253.71" font-size="17.9" font-weight="normal" text-anchor="start" stroke="#000" stroke-width="0.35">m<tspan dy="-5.4" font-size="10.2">5</tspan><tspan dy="5.4">C</tspan></text>
<line x1="522.3" y1="270.6" x2="541.1" y2="270.6" stroke="#00AEEF" stroke-width="2.3"/>
<text x="547.4" y="276.41" font-size="17.9" font-weight="normal" text-anchor="start" stroke="#000" stroke-width="0.35">m<tspan dy="-5.4" font-size="10.2">6</tspan><tspan dy="5.4">A</tspan></text>
<line x1="609.45" y1="199.5" x2="609.45" y2="224.4" stroke="#000" stroke-width="2.5"/>
<text x="617.3" y="221.61" font-size="16.4" font-weight="normal" text-anchor="middle" stroke="#000" stroke-width="0.35">*</text>
<line x1="628.6" y1="199.5" x2="628.6" y2="248.7" stroke="#000" stroke-width="2.5"/>
<text x="629.69" y="224.05" font-size="16.4" font-weight="normal" text-anchor="middle" stroke="#000" stroke-width="0.35" transform="rotate(90 629.69 224.05)" letter-spacing="0.5">***</text>
<line x1="651.1" y1="198.8" x2="651.1" y2="269.1" stroke="#000" stroke-width="2.5"/>
<text x="662.3" y="243.61" font-size="16.4" font-weight="normal" text-anchor="middle" stroke="#000" stroke-width="0.35">*</text>
<line x1="608.7" y1="245.2" x2="608.7" y2="268.4" stroke="#000" stroke-width="2.5"/>
<text x="609.94" y="254.85" font-size="16.4" font-weight="normal" text-anchor="middle" stroke="#000" stroke-width="0.35" transform="rotate(90 609.94 254.85)" letter-spacing="0.5">***</text>
<line x1="69.7" y1="368.9" x2="69.7" y2="606.9" stroke="#000" stroke-width="2.2"/>
<line x1="68.6" y1="605.8" x2="312.3" y2="605.8" stroke="#000" stroke-width="2.2"/>
<text x="65.4" y="602.41" font-size="17.9" font-weight="normal" text-anchor="end" stroke="#000" stroke-width="0.35">0.0</text>
<text x="65.4" y="559.26" font-size="17.9" font-weight="normal" text-anchor="end" stroke="#000" stroke-width="0.35">0.5</text>
<text x="65.4" y="516.11" font-size="17.9" font-weight="normal" text-anchor="end" stroke="#000" stroke-width="0.35">1.0</text>
<text x="65.4" y="472.96" font-size="17.9" font-weight="normal" text-anchor="end" stroke="#000" stroke-width="0.35">1.5</text>
<text x="65.4" y="429.81" font-size="17.9" font-weight="normal" text-anchor="end" stroke="#000" stroke-width="0.35">2.0</text>
<text x="65.4" y="386.66" font-size="17.9" font-weight="normal" text-anchor="end" stroke="#000" stroke-width="0.35">2.5</text>
<text x="31" y="490" font-size="17.9" font-weight="normal" text-anchor="middle" stroke="#000" stroke-width="0.35" transform="rotate(-90 31 490)">Translation efficiency</text>
<line x1="191" y1="340.1" x2="267.3" y2="340.1" stroke="#000" stroke-width="2.5"/>
<line x1="114.8" y1="362" x2="267.3" y2="362" stroke="#000" stroke-width="2.5"/>
<text x="231.95" y="341.81" font-size="16.4" font-weight="normal" text-anchor="middle" stroke="#000" stroke-width="0.35" letter-spacing="0.5">***</text>
<text x="190.45" y="361.71" font-size="16.4" font-weight="normal" text-anchor="middle" stroke="#000" stroke-width="0.35" letter-spacing="0.5">***</text>
<path d="M115,387.1 L115,388.1 L115,389.1 L115,390.1 L114.99,391.1 L114.99,392.1 L114.99,393.1 L114.98,394.1 L114.98,395.1 L114.97,396.1 L114.96,397.1 L114.96,398.1 L114.95,399.1 L114.94,400.1 L114.93,401.1 L114.93,402.1 L114.92,403.1 L114.91,404.1 L114.9,405.1 L114.89,406.1 L114.88,407.1 L114.86,408.1 L114.85,409.1 L114.83,410.1 L114.81,411.1 L114.79,412.1 L114.77,413.1 L114.75,414.1 L114.72,415.1 L114.7,416.1 L114.67,417.1 L114.65,418.1 L114.62,419.1 L114.6,420.1 L114.57,421.1 L114.55,422.1 L114.52,423.1 L114.49,424.1 L114.47,425.1 L114.44,426.1 L114.41,427.1 L114.37,428.1 L114.33,429.1 L114.29,430.1 L114.25,431.1 L114.2,432.1 L114.15,433.1 L114.09,434.1 L114.01,435.1 L113.9,436.1 L113.76,437.1 L113.62,438.1 L113.47,439.1 L113.33,440.1 L113.21,441.1 L113.11,442.1 L113.02,443.1 L112.93,444.1 L112.85,445.1 L112.76,446.1 L112.67,447.1 L112.58,448.1 L112.48,449.1 L112.37,450.1 L112.25,451.1 L112.12,452.1 L111.99,453.1 L111.86,454.1 L111.73,455.1 L111.59,456.1 L111.46,457.1 L111.32,458.1 L111.17,459.1 L111.03,460.1 L110.89,461.1 L110.74,462.1 L110.6,463.1 L110.45,464.1 L110.31,465.1 L110.17,466.1 L110.03,467.1 L109.9,468.1 L109.76,469.1 L109.63,470.1 L109.5,471.1 L109.37,472.1 L109.24,473.1 L109.1,474.1 L108.96,475.1 L108.81,476.1 L108.68,477.1 L108.54,478.1 L108.4,479.1 L108.26,480.1 L108.11,481.1 L107.94,482.1 L107.76,483.1 L107.56,484.1 L107.34,485.1 L107.08,486.1 L106.78,487.1 L106.45,488.1 L106.09,489.1 L105.72,490.1 L105.32,491.1 L104.91,492.1 L104.49,493.1 L104.04,494.1 L103.55,495.1 L103.03,496.1 L102.48,497.1 L101.9,498.1 L101.31,499.1 L100.7,500.1 L100.1,501.1 L99.5,502.1 L98.89,503.1 L98.25,504.1 L97.59,505.1 L96.92,506.1 L96.25,507.1 L95.58,508.1 L94.94,509.1 L94.32,510.1 L93.74,511.1 L93.17,512.1 L92.58,513.1 L92,514.1 L91.46,515.1 L90.96,516.1 L90.54,517.1 L90.2,518.1 L89.91,519.1 L89.64,520.1 L89.38,521.1 L89.15,522.1 L88.97,523.1 L88.85,524.1 L88.8,525.1 L88.81,526.1 L88.84,527.1 L88.88,528.1 L88.94,529.1 L89.01,530.1 L89.09,531.1 L89.18,532.1 L89.3,533.1 L89.48,534.1 L89.71,535.1 L89.98,536.1 L90.28,537.1 L90.59,538.1 L90.91,539.1 L91.22,540.1 L91.56,541.1 L91.93,542.1 L92.32,543.1 L92.73,544.1 L93.16,545.1 L93.61,546.1 L94.09,547.1 L94.61,548.1 L95.17,549.1 L95.77,550.1 L96.38,551.1 L97.01,552.1 L97.65,553.1 L98.29,554.1 L98.91,555.1 L99.54,556.1 L100.17,557.1 L100.82,558.1 L101.47,559.1 L102.13,560.1 L102.78,561.1 L103.43,562.1 L104.06,563.1 L104.68,564.1 L105.29,565.1 L105.9,566.1 L106.51,567.1 L107.12,568.1 L107.71,569.1 L108.28,570.1 L108.83,571.1 L109.34,572.1 L109.8,573.1 L110.23,574.1 L110.65,575.1 L111.06,576.1 L111.45,577.1 L111.81,578.1 L112.15,579.1 L112.47,580.1 L112.76,581.1 L113.02,582.1 L113.27,583.1 L113.52,584.1 L113.76,585.1 L113.98,586.1 L114.19,587.1 L114.37,588.1 L114.52,589.1 L114.63,590.1 L114.71,591.1 L114.77,592.1 L114.83,593.1 L114.88,594.1 L114.92,595.1 L114.96,596.1 L114.99,597.1 L115.02,598.1 L115.04,599.1 L115.05,600.1 L115.07,601.1 L115.08,602.1 L115.09,603.1 L115.09,604.1 L115.1,605.1 L115.1,606 L115.1,606 L115.1,605.1 L115.11,604.1 L115.11,603.1 L115.12,602.1 L115.13,601.1 L115.15,600.1 L115.16,599.1 L115.18,598.1 L115.21,597.1 L115.24,596.1 L115.28,595.1 L115.32,594.1 L115.37,593.1 L115.43,592.1 L115.49,591.1 L115.57,590.1 L115.68,589.1 L115.83,588.1 L116.01,587.1 L116.22,586.1 L116.44,585.1 L116.68,584.1 L116.93,583.1 L117.18,582.1 L117.44,581.1 L117.73,580.1 L118.05,579.1 L118.39,578.1 L118.75,577.1 L119.14,576.1 L119.55,575.1 L119.97,574.1 L120.4,573.1 L120.86,572.1 L121.37,571.1 L121.92,570.1 L122.49,569.1 L123.08,568.1 L123.69,567.1 L124.3,566.1 L124.91,565.1 L125.52,564.1 L126.14,563.1 L126.77,562.1 L127.42,561.1 L128.07,560.1 L128.73,559.1 L129.38,558.1 L130.03,557.1 L130.66,556.1 L131.29,555.1 L131.91,554.1 L132.55,553.1 L133.19,552.1 L133.82,551.1 L134.43,550.1 L135.03,549.1 L135.59,548.1 L136.11,547.1 L136.59,546.1 L137.04,545.1 L137.47,544.1 L137.88,543.1 L138.27,542.1 L138.64,541.1 L138.98,540.1 L139.29,539.1 L139.61,538.1 L139.92,537.1 L140.22,536.1 L140.49,535.1 L140.72,534.1 L140.9,533.1 L141.02,532.1 L141.11,531.1 L141.19,530.1 L141.26,529.1 L141.32,528.1 L141.36,527.1 L141.39,526.1 L141.4,525.1 L141.35,524.1 L141.23,523.1 L141.05,522.1 L140.82,521.1 L140.56,520.1 L140.29,519.1 L140,518.1 L139.66,517.1 L139.24,516.1 L138.74,515.1 L138.2,514.1 L137.62,513.1 L137.03,512.1 L136.46,511.1 L135.88,510.1 L135.26,509.1 L134.62,508.1 L133.95,507.1 L133.28,506.1 L132.61,505.1 L131.95,504.1 L131.31,503.1 L130.7,502.1 L130.1,501.1 L129.5,500.1 L128.89,499.1 L128.3,498.1 L127.72,497.1 L127.17,496.1 L126.65,495.1 L126.16,494.1 L125.71,493.1 L125.29,492.1 L124.88,491.1 L124.48,490.1 L124.11,489.1 L123.75,488.1 L123.42,487.1 L123.12,486.1 L122.86,485.1 L122.64,484.1 L122.44,483.1 L122.26,482.1 L122.09,481.1 L121.94,480.1 L121.8,479.1 L121.66,478.1 L121.52,477.1 L121.39,476.1 L121.24,475.1 L121.1,474.1 L120.96,473.1 L120.83,472.1 L120.7,471.1 L120.57,470.1 L120.44,469.1 L120.3,468.1 L120.17,467.1 L120.03,466.1 L119.89,465.1 L119.75,464.1 L119.6,463.1 L119.46,462.1 L119.31,461.1 L119.17,460.1 L119.03,459.1 L118.88,458.1 L118.74,457.1 L118.61,456.1 L118.47,455.1 L118.34,454.1 L118.21,453.1 L118.08,452.1 L117.95,451.1 L117.83,450.1 L117.72,449.1 L117.62,448.1 L117.53,447.1 L117.44,446.1 L117.35,445.1 L117.27,444.1 L117.18,443.1 L117.09,442.1 L116.99,441.1 L116.87,440.1 L116.73,439.1 L116.58,438.1 L116.44,437.1 L116.3,436.1 L116.19,435.1 L116.11,434.1 L116.05,433.1 L116,432.1 L115.95,431.1 L115.91,430.1 L115.87,429.1 L115.83,428.1 L115.79,427.1 L115.76,426.1 L115.73,425.1 L115.71,424.1 L115.68,423.1 L115.65,422.1 L115.63,421.1 L115.6,420.1 L115.58,419.1 L115.55,418.1 L115.53,417.1 L115.5,416.1 L115.48,415.1 L115.45,414.1 L115.43,413.1 L115.41,412.1 L115.39,411.1 L115.37,410.1 L115.35,409.1 L115.34,408.1 L115.32,407.1 L115.31,406.1 L115.3,405.1 L115.29,404.1 L115.28,403.1 L115.27,402.1 L115.27,401.1 L115.26,400.1 L115.25,399.1 L115.24,398.1 L115.24,397.1 L115.23,396.1 L115.22,395.1 L115.22,394.1 L115.21,393.1 L115.21,392.1 L115.21,391.1 L115.2,390.1 L115.2,389.1 L115.2,388.1 L115.2,387.1 Z" fill="#FFF200" stroke="#000" stroke-width="2.1" stroke-linejoin="round"/>
<path d="M113.9,387.1 L113.9,388.1 L113.89,389.1 L113.88,390.1 L113.87,391.1 L113.86,392.1 L113.84,393.1 L113.82,394.1 L113.8,395.1 L113.77,396.1 L113.75,397.1 L113.72,398.1 L113.69,399.1 L113.64,400.1 L113.56,401.1 L113.47,402.1 L113.37,403.1 L113.26,404.1 L113.16,405.1 L113.06,406.1 L112.97,407.1 L112.89,408.1 L112.83,409.1 L112.76,410.1 L112.69,411.1 L112.63,412.1 L112.57,413.1 L112.53,414.1 L112.51,415.1 L112.5,416.1 L112.52,417.1 L112.57,418.1 L112.63,419.1 L112.7,420.1 L112.78,421.1 L112.86,422.1 L112.94,423.1 L113.01,424.1 L113.08,425.1 L113.17,426.1 L113.26,427.1 L113.35,428.1 L113.43,429.1 L113.51,430.1 L113.56,431.1 L113.59,432.1 L113.59,433.1 L113.52,434.1 L113.39,435.1 L113.2,436.1 L112.99,437.1 L112.77,438.1 L112.56,439.1 L112.36,440.1 L112.21,441.1 L112.09,442.1 L111.96,443.1 L111.84,444.1 L111.72,445.1 L111.62,446.1 L111.55,447.1 L111.51,448.1 L114.24,449.1 L115.1,449.2 L115.1,449.2 L115.96,449.1 L118.69,448.1 L118.65,447.1 L118.58,446.1 L118.48,445.1 L118.36,444.1 L118.24,443.1 L118.11,442.1 L117.99,441.1 L117.84,440.1 L117.64,439.1 L117.43,438.1 L117.21,437.1 L117,436.1 L116.81,435.1 L116.68,434.1 L116.61,433.1 L116.61,432.1 L116.64,431.1 L116.69,430.1 L116.77,429.1 L116.85,428.1 L116.94,427.1 L117.03,426.1 L117.12,425.1 L117.19,424.1 L117.26,423.1 L117.34,422.1 L117.42,421.1 L117.5,420.1 L117.57,419.1 L117.63,418.1 L117.68,417.1 L117.7,416.1 L117.69,415.1 L117.67,414.1 L117.63,413.1 L117.57,412.1 L117.51,411.1 L117.44,410.1 L117.37,409.1 L117.31,408.1 L117.23,407.1 L117.14,406.1 L117.04,405.1 L116.94,404.1 L116.83,403.1 L116.73,402.1 L116.64,401.1 L116.56,400.1 L116.51,399.1 L116.48,398.1 L116.45,397.1 L116.43,396.1 L116.4,395.1 L116.38,394.1 L116.36,393.1 L116.34,392.1 L116.33,391.1 L116.32,390.1 L116.31,389.1 L116.3,388.1 L116.3,387.1 Z" fill="#000"/>
<line x1="115.1" y1="454.4" x2="115.1" y2="605.5" stroke="#000" stroke-width="1.9"/>
<rect x="107.6" y="507.6" width="15" height="39.2" fill="#fff" stroke="#000" stroke-width="2"/>
<line x1="107.6" y1="527.3" x2="122.6" y2="527.3" stroke="#000" stroke-width="2"/>
<path d="M190.75,369 L190.75,370 L190.75,371 L190.75,372 L190.75,373 L190.75,374 L190.75,375 L190.75,376 L190.75,377 L190.75,378 L190.75,379 L190.75,380 L190.75,381 L190.75,382 L190.75,383 L190.75,384 L190.75,385 L190.75,386 L190.75,387 L190.75,388 L190.75,389 L190.75,390 L190.75,391 L190.75,392 L190.75,393 L190.75,394 L190.75,395 L190.75,396 L190.75,397 L190.75,398 L190.75,399 L190.75,400 L190.75,401 L190.75,402 L190.75,403 L190.75,404 L190.75,405 L190.75,406 L190.75,407 L190.75,408 L190.75,409 L190.75,410 L190.75,411 L190.75,412 L190.75,413 L190.75,414 L190.75,415 L190.75,416 L190.75,417 L190.75,418 L190.75,419 L190.75,420 L190.75,421 L190.75,422 L190.75,423 L190.75,424 L190.75,425 L190.75,426 L190.75,427 L190.75,428 L190.75,429 L190.75,430 L190.75,431 L190.75,432 L190.75,433 L190.75,434 L190.75,435 L190.75,436 L190.75,437 L190.75,438 L190.75,439 L190.75,440 L190.75,441 L190.75,442 L190.75,443 L190.75,444 L190.75,445 L190.75,446 L190.75,447 L190.75,448 L190.75,449 L190.75,450 L190.75,451 L190.75,452 L190.75,453 L190.75,454 L190.75,455 L190.75,456 L190.75,457 L190.75,458 L190.75,459 L190.75,460 L190.75,461 L190.75,462 L190.75,463 L190.75,464 L190.75,465 L190.72,466 L190.64,467 L190.52,468 L190.36,469 L190.18,470 L189.99,471 L189.79,472 L189.59,473 L189.4,474 L189.24,475 L189.11,476 L189.01,477 L188.96,478 L188.92,479 L188.89,480 L188.86,481 L188.83,482 L188.8,483 L188.75,484 L188.67,485 L188.52,486 L188.3,487 L188.02,488 L187.7,489 L187.36,490 L186.94,491 L186.44,492 L185.87,493 L185.26,494 L184.63,495 L183.99,496 L183.36,497 L182.75,498 L182.12,499 L181.48,500 L180.82,501 L180.14,502 L179.43,503 L178.69,504 L177.9,505 L177.06,506 L176.17,507 L175.24,508 L174.28,509 L173.29,510 L172.3,511 L171.3,512 L170.27,513 L169.19,514 L168.08,515 L166.96,516 L165.85,517 L164.79,518 L163.78,519 L162.84,520 L161.9,521 L160.98,522 L160.09,523 L159.24,524 L158.46,525 L157.75,526 L157.14,527 L156.59,528 L156.06,529 L155.57,530 L155.11,531 L154.71,532 L154.36,533 L154.07,534 L153.84,535 L153.61,536 L153.4,537 L153.22,538 L153.08,539 L153.01,540 L153.02,541 L153.14,542 L153.36,543 L153.66,544 L154.02,545 L154.42,546 L154.83,547 L155.37,548 L156.05,549 L156.85,550 L157.74,551 L158.7,552 L159.69,553 L160.7,554 L161.75,555 L162.92,556 L164.18,557 L165.51,558 L166.86,559 L168.22,560 L169.54,561 L170.8,562 L172.07,563 L173.35,564 L174.63,565 L175.88,566 L177.11,567 L178.28,568 L179.39,569 L180.47,570 L181.54,571 L182.6,572 L183.61,573 L184.55,574 L185.42,575 L186.17,576 L186.81,577 L187.43,578 L188.02,579 L188.56,580 L189.05,581 L189.46,582 L189.78,583 L190,584 L190.15,585 L190.28,586 L190.4,587 L190.49,588 L190.57,589 L190.64,590 L190.69,591 L190.72,592 L190.75,593 L190.78,594 L190.8,595 L190.82,596 L190.84,597 L190.86,598 L190.88,599 L190.89,600 L190.9,601 L190.9,602 L190.9,602.6 L190.9,602.6 L190.9,602 L190.9,601 L190.91,600 L190.92,599 L190.94,598 L190.96,597 L190.98,596 L191,595 L191.02,594 L191.05,593 L191.08,592 L191.11,591 L191.16,590 L191.23,589 L191.31,588 L191.4,587 L191.52,586 L191.65,585 L191.8,584 L192.02,583 L192.34,582 L192.75,581 L193.24,580 L193.78,579 L194.37,578 L194.99,577 L195.63,576 L196.38,575 L197.25,574 L198.19,573 L199.2,572 L200.26,571 L201.33,570 L202.41,569 L203.52,568 L204.69,567 L205.92,566 L207.17,565 L208.45,564 L209.73,563 L211,562 L212.26,561 L213.58,560 L214.94,559 L216.29,558 L217.62,557 L218.88,556 L220.05,555 L221.1,554 L222.11,553 L223.1,552 L224.06,551 L224.95,550 L225.75,549 L226.43,548 L226.97,547 L227.38,546 L227.78,545 L228.14,544 L228.44,543 L228.66,542 L228.78,541 L228.79,540 L228.72,539 L228.58,538 L228.4,537 L228.19,536 L227.96,535 L227.73,534 L227.44,533 L227.09,532 L226.69,531 L226.23,530 L225.74,529 L225.21,528 L224.66,527 L224.05,526 L223.34,525 L222.56,524 L221.71,523 L220.82,522 L219.9,521 L218.96,520 L218.02,519 L217.01,518 L215.95,517 L214.84,516 L213.72,515 L212.61,514 L211.53,513 L210.5,512 L209.5,511 L208.51,510 L207.52,509 L206.56,508 L205.63,507 L204.74,506 L203.9,505 L203.11,504 L202.37,503 L201.66,502 L200.98,501 L200.32,500 L199.68,499 L199.05,498 L198.44,497 L197.81,496 L197.17,495 L196.54,494 L195.93,493 L195.36,492 L194.86,491 L194.44,490 L194.1,489 L193.78,488 L193.5,487 L193.28,486 L193.13,485 L193.05,484 L193,483 L192.97,482 L192.94,481 L192.91,480 L192.88,479 L192.84,478 L192.79,477 L192.69,476 L192.56,475 L192.4,474 L192.21,473 L192.01,472 L191.81,471 L191.62,470 L191.44,469 L191.28,468 L191.16,467 L191.08,466 L191.05,465 L191.05,464 L191.05,463 L191.05,462 L191.05,461 L191.05,460 L191.05,459 L191.05,458 L191.05,457 L191.05,456 L191.05,455 L191.05,454 L191.05,453 L191.05,452 L191.05,451 L191.05,450 L191.05,449 L191.05,448 L191.05,447 L191.05,446 L191.05,445 L191.05,444 L191.05,443 L191.05,442 L191.05,441 L191.05,440 L191.05,439 L191.05,438 L191.05,437 L191.05,436 L191.05,435 L191.05,434 L191.05,433 L191.05,432 L191.05,431 L191.05,430 L191.05,429 L191.05,428 L191.05,427 L191.05,426 L191.05,425 L191.05,424 L191.05,423 L191.05,422 L191.05,421 L191.05,420 L191.05,419 L191.05,418 L191.05,417 L191.05,416 L191.05,415 L191.05,414 L191.05,413 L191.05,412 L191.05,411 L191.05,410 L191.05,409 L191.05,408 L191.05,407 L191.05,406 L191.05,405 L191.05,404 L191.05,403 L191.05,402 L191.05,401 L191.05,400 L191.05,399 L191.05,398 L191.05,397 L191.05,396 L191.05,395 L191.05,394 L191.05,393 L191.05,392 L191.05,391 L191.05,390 L191.05,389 L191.05,388 L191.05,387 L191.05,386 L191.05,385 L191.05,384 L191.05,383 L191.05,382 L191.05,381 L191.05,380 L191.05,379 L191.05,378 L191.05,377 L191.05,376 L191.05,375 L191.05,374 L191.05,373 L191.05,372 L191.05,371 L191.05,370 L191.05,369 Z" fill="#00A651" stroke="#000" stroke-width="2.1" stroke-linejoin="round"/>
<path d="M189.65,369 L189.65,370 L189.65,371 L189.65,372 L189.65,373 L189.65,374 L189.65,375 L189.65,376 L189.65,377 L189.65,378 L189.65,379 L189.65,380 L189.65,381 L189.65,382 L189.65,383 L189.65,384 L189.65,385 L189.65,386 L189.65,387 L189.65,388 L189.65,389 L189.65,390 L189.65,391 L189.65,392 L189.65,393 L189.65,394 L189.65,395 L189.65,396 L189.65,397 L189.65,398 L189.65,399 L189.65,400 L189.65,401 L189.65,402 L189.65,403 L189.64,404 L189.64,405 L189.64,406 L189.64,407 L189.64,408 L189.64,409 L189.64,410 L189.64,411 L189.64,412 L189.64,413 L189.64,414 L189.64,415 L189.64,416 L189.64,417 L189.64,418 L189.64,419 L189.64,420 L189.64,421 L189.64,422 L189.64,423 L189.63,424 L189.63,425 L189.63,426 L189.63,427 L189.63,428 L189.63,429 L189.63,430 L189.63,431 L189.63,432 L189.63,433 L189.63,434 L189.63,435 L189.62,436 L189.62,437 L189.62,438 L189.62,439 L189.62,440 L189.62,441 L189.62,442 L189.62,443 L189.62,444 L189.61,445 L189.61,446 L189.61,447 L189.61,448 L189.61,449 L189.61,450 L189.61,451 L189.6,452 L189.6,453 L189.6,454 L189.6,455 L189.59,456 L189.58,457 L189.55,458 L189.52,459 L189.48,460 L189.44,461 L189.4,462 L189.35,463 L189.3,464 L189.24,465 L189.18,466 L189.1,467 L189.01,468 L188.91,469 L188.81,470 L188.7,471 L188.6,472 L188.49,473 L188.39,474 L188.3,475 L188.2,476 L188.09,477 L187.97,478 L187.85,479 L187.73,480 L187.62,481 L187.52,482 L187.43,483 L187.36,484 L187.32,485 L187.3,486 L190.9,486.5 L190.9,486.5 L194.5,486 L194.48,485 L194.44,484 L194.37,483 L194.28,482 L194.18,481 L194.07,480 L193.95,479 L193.83,478 L193.71,477 L193.6,476 L193.5,475 L193.41,474 L193.31,473 L193.2,472 L193.1,471 L192.99,470 L192.89,469 L192.79,468 L192.7,467 L192.62,466 L192.56,465 L192.5,464 L192.45,463 L192.4,462 L192.36,461 L192.32,460 L192.28,459 L192.25,458 L192.22,457 L192.21,456 L192.2,455 L192.2,454 L192.2,453 L192.2,452 L192.19,451 L192.19,450 L192.19,449 L192.19,448 L192.19,447 L192.19,446 L192.19,445 L192.18,444 L192.18,443 L192.18,442 L192.18,441 L192.18,440 L192.18,439 L192.18,438 L192.18,437 L192.18,436 L192.17,435 L192.17,434 L192.17,433 L192.17,432 L192.17,431 L192.17,430 L192.17,429 L192.17,428 L192.17,427 L192.17,426 L192.17,425 L192.17,424 L192.16,423 L192.16,422 L192.16,421 L192.16,420 L192.16,419 L192.16,418 L192.16,417 L192.16,416 L192.16,415 L192.16,414 L192.16,413 L192.16,412 L192.16,411 L192.16,410 L192.16,409 L192.16,408 L192.16,407 L192.16,406 L192.16,405 L192.16,404 L192.15,403 L192.15,402 L192.15,401 L192.15,400 L192.15,399 L192.15,398 L192.15,397 L192.15,396 L192.15,395 L192.15,394 L192.15,393 L192.15,392 L192.15,391 L192.15,390 L192.15,389 L192.15,388 L192.15,387 L192.15,386 L192.15,385 L192.15,384 L192.15,383 L192.15,382 L192.15,381 L192.15,380 L192.15,379 L192.15,378 L192.15,377 L192.15,376 L192.15,375 L192.15,374 L192.15,373 L192.15,372 L192.15,371 L192.15,370 L192.15,369 Z" fill="#000"/>
<ellipse cx="190.9" cy="389.1" rx="2.2" ry="1.76" fill="#000"/>
<ellipse cx="190.9" cy="393.7" rx="2.2" ry="1.76" fill="#000"/>
<ellipse cx="190.9" cy="399.9" rx="2.2" ry="1.76" fill="#000"/>
<ellipse cx="190.9" cy="430.5" rx="2.2" ry="1.76" fill="#000"/>
<ellipse cx="190.9" cy="441.2" rx="2.2" ry="1.76" fill="#000"/>
<ellipse cx="190.9" cy="447.4" rx="2.2" ry="1.76" fill="#000"/>
<ellipse cx="190.9" cy="452" rx="2.2" ry="1.76" fill="#000"/>
<line x1="190.9" y1="470" x2="190.9" y2="602.4" stroke="#000" stroke-width="1.9"/>
<rect x="183.6" y="523.4" width="14.6" height="25.6" fill="#fff" stroke="#000" stroke-width="2"/>
<line x1="183.6" y1="537.3" x2="198.2" y2="537.3" stroke="#000" stroke-width="2"/>
<path d="M266.5,380.1 L266.5,381.1 L266.49,382.1 L266.49,383.1 L266.48,384.1 L266.48,385.1 L266.47,386.1 L266.47,387.1 L266.47,388.1 L266.46,389.1 L266.46,390.1 L266.46,391.1 L266.45,392.1 L266.45,393.1 L266.45,394.1 L266.45,395.1 L266.45,396.1 L266.45,397.1 L266.45,398.1 L266.45,399.1 L266.45,400.1 L266.45,401.1 L266.45,402.1 L266.45,403.1 L266.45,404.1 L266.45,405.1 L266.45,406.1 L266.45,407.1 L266.45,408.1 L266.45,409.1 L266.45,410.1 L266.45,411.1 L266.45,412.1 L266.45,413.1 L266.45,414.1 L266.45,415.1 L266.45,416.1 L266.45,417.1 L266.45,418.1 L266.45,419.1 L266.45,420.1 L266.45,421.1 L266.45,422.1 L266.45,423.1 L266.45,424.1 L266.45,425.1 L266.45,426.1 L266.45,427.1 L266.45,428.1 L266.45,429.1 L266.45,430.1 L266.45,431.1 L266.45,432.1 L266.45,433.1 L266.45,434.1 L266.45,435.1 L266.45,436.1 L266.45,437.1 L266.45,438.1 L266.45,439.1 L266.45,440.1 L266.45,441.1 L266.45,442.1 L266.45,443.1 L266.45,444.1 L266.45,445.1 L266.45,446.1 L266.45,447.1 L266.45,448.1 L266.45,449.1 L266.45,450.1 L266.44,451.1 L266.41,452.1 L266.37,453.1 L266.32,454.1 L266.25,455.1 L266.17,456.1 L266.09,457.1 L266,458.1 L265.91,459.1 L265.82,460.1 L265.72,461.1 L265.63,462.1 L265.54,463.1 L265.45,464.1 L265.38,465.1 L265.31,466.1 L265.24,467.1 L265.17,468.1 L265.1,469.1 L265.04,470.1 L264.97,471.1 L264.89,472.1 L264.81,473.1 L264.73,474.1 L264.63,475.1 L264.53,476.1 L264.41,477.1 L264.28,478.1 L264.11,479.1 L263.91,480.1 L263.69,481.1 L263.44,482.1 L263.17,483.1 L262.88,484.1 L262.57,485.1 L262.19,486.1 L261.74,487.1 L261.25,488.1 L260.71,489.1 L260.15,490.1 L259.58,491.1 L259,492.1 L258.41,493.1 L257.79,494.1 L257.14,495.1 L256.46,496.1 L255.77,497.1 L255.07,498.1 L254.36,499.1 L253.64,500.1 L252.93,501.1 L252.2,502.1 L251.47,503.1 L250.71,504.1 L249.91,505.1 L249.08,506.1 L248.21,507.1 L247.25,508.1 L246.2,509.1 L245.09,510.1 L243.96,511.1 L242.83,512.1 L241.73,513.1 L240.69,514.1 L239.72,515.1 L238.76,516.1 L237.81,517.1 L236.91,518.1 L236.06,519.1 L235.3,520.1 L234.64,521.1 L233.95,522.1 L233.29,523.1 L232.76,524.1 L232.44,525.1 L232.42,526.1 L232.58,527.1 L232.83,528.1 L233.15,529.1 L233.47,530.1 L233.76,531.1 L233.95,532.1 L234.13,533.1 L234.29,534.1 L234.39,535.1 L234.35,536.1 L234.02,537.1 L233.49,538.1 L232.94,539.1 L232.5,540.1 L232.28,541.1 L232.1,542.1 L231.96,543.1 L231.9,544.1 L232.05,545.1 L232.52,546.1 L233.2,547.1 L234,548.1 L234.82,549.1 L235.7,550.1 L236.78,551.1 L238,552.1 L239.32,553.1 L240.69,554.1 L242.05,555.1 L243.36,556.1 L244.58,557.1 L245.77,558.1 L246.97,559.1 L248.15,560.1 L249.32,561.1 L250.47,562.1 L251.6,563.1 L252.7,564.1 L253.8,565.1 L254.9,566.1 L256,567.1 L257.07,568.1 L258.09,569.1 L259.03,570.1 L259.89,571.1 L260.65,572.1 L261.38,573.1 L262.09,574.1 L262.75,575.1 L263.36,576.1 L263.9,577.1 L264.36,578.1 L264.73,579.1 L265.06,580.1 L265.37,581.1 L265.66,582.1 L265.91,583.1 L266.13,584.1 L266.29,585.1 L266.38,586.1 L266.43,587.1 L266.47,588.1 L266.5,589.1 L266.53,590.1 L266.55,591.1 L266.57,592.1 L266.59,593.1 L266.6,594.1 L266.6,595.1 L266.6,595.1 L266.6,594.1 L266.61,593.1 L266.63,592.1 L266.65,591.1 L266.67,590.1 L266.7,589.1 L266.73,588.1 L266.77,587.1 L266.82,586.1 L266.91,585.1 L267.07,584.1 L267.29,583.1 L267.54,582.1 L267.83,581.1 L268.14,580.1 L268.47,579.1 L268.84,578.1 L269.3,577.1 L269.84,576.1 L270.45,575.1 L271.11,574.1 L271.82,573.1 L272.55,572.1 L273.31,571.1 L274.17,570.1 L275.11,569.1 L276.13,568.1 L277.2,567.1 L278.3,566.1 L279.4,565.1 L280.5,564.1 L281.6,563.1 L282.73,562.1 L283.88,561.1 L285.05,560.1 L286.23,559.1 L287.43,558.1 L288.62,557.1 L289.84,556.1 L291.15,555.1 L292.51,554.1 L293.88,553.1 L295.2,552.1 L296.42,551.1 L297.5,550.1 L298.38,549.1 L299.2,548.1 L300,547.1 L300.68,546.1 L301.15,545.1 L301.3,544.1 L301.24,543.1 L301.1,542.1 L300.92,541.1 L300.7,540.1 L300.26,539.1 L299.71,538.1 L299.18,537.1 L298.85,536.1 L298.81,535.1 L298.91,534.1 L299.07,533.1 L299.25,532.1 L299.44,531.1 L299.73,530.1 L300.05,529.1 L300.37,528.1 L300.62,527.1 L300.78,526.1 L300.76,525.1 L300.44,524.1 L299.91,523.1 L299.25,522.1 L298.56,521.1 L297.9,520.1 L297.14,519.1 L296.29,518.1 L295.39,517.1 L294.44,516.1 L293.48,515.1 L292.51,514.1 L291.47,513.1 L290.37,512.1 L289.24,511.1 L288.11,510.1 L287,509.1 L285.95,508.1 L284.99,507.1 L284.12,506.1 L283.29,505.1 L282.49,504.1 L281.73,503.1 L281,502.1 L280.27,501.1 L279.56,500.1 L278.84,499.1 L278.13,498.1 L277.43,497.1 L276.74,496.1 L276.06,495.1 L275.41,494.1 L274.79,493.1 L274.2,492.1 L273.62,491.1 L273.05,490.1 L272.49,489.1 L271.95,488.1 L271.46,487.1 L271.01,486.1 L270.63,485.1 L270.32,484.1 L270.03,483.1 L269.76,482.1 L269.51,481.1 L269.29,480.1 L269.09,479.1 L268.92,478.1 L268.79,477.1 L268.67,476.1 L268.57,475.1 L268.47,474.1 L268.39,473.1 L268.31,472.1 L268.23,471.1 L268.16,470.1 L268.1,469.1 L268.03,468.1 L267.96,467.1 L267.89,466.1 L267.82,465.1 L267.75,464.1 L267.66,463.1 L267.57,462.1 L267.48,461.1 L267.38,460.1 L267.29,459.1 L267.2,458.1 L267.11,457.1 L267.03,456.1 L266.95,455.1 L266.88,454.1 L266.83,453.1 L266.79,452.1 L266.76,451.1 L266.75,450.1 L266.75,449.1 L266.75,448.1 L266.75,447.1 L266.75,446.1 L266.75,445.1 L266.75,444.1 L266.75,443.1 L266.75,442.1 L266.75,441.1 L266.75,440.1 L266.75,439.1 L266.75,438.1 L266.75,437.1 L266.75,436.1 L266.75,435.1 L266.75,434.1 L266.75,433.1 L266.75,432.1 L266.75,431.1 L266.75,430.1 L266.75,429.1 L266.75,428.1 L266.75,427.1 L266.75,426.1 L266.75,425.1 L266.75,424.1 L266.75,423.1 L266.75,422.1 L266.75,421.1 L266.75,420.1 L266.75,419.1 L266.75,418.1 L266.75,417.1 L266.75,416.1 L266.75,415.1 L266.75,414.1 L266.75,413.1 L266.75,412.1 L266.75,411.1 L266.75,410.1 L266.75,409.1 L266.75,408.1 L266.75,407.1 L266.75,406.1 L266.75,405.1 L266.75,404.1 L266.75,403.1 L266.75,402.1 L266.75,401.1 L266.75,400.1 L266.75,399.1 L266.75,398.1 L266.75,397.1 L266.75,396.1 L266.75,395.1 L266.75,394.1 L266.75,393.1 L266.75,392.1 L266.74,391.1 L266.74,390.1 L266.74,389.1 L266.73,388.1 L266.73,387.1 L266.73,386.1 L266.72,385.1 L266.72,384.1 L266.71,383.1 L266.71,382.1 L266.7,381.1 L266.7,380.1 Z" fill="#2E3192" stroke="#000" stroke-width="2.1" stroke-linejoin="round"/>
<path d="M265.7,380 L265.64,381 L265.57,382 L265.51,383 L265.44,384 L265.38,385 L265.32,386 L265.26,387 L265.2,388 L265.14,389 L265.06,390 L264.99,391 L264.91,392 L264.84,393 L264.78,394 L264.74,395 L264.71,396 L264.7,397 L264.72,398 L264.78,399 L264.85,400 L264.93,401 L265.01,402 L265.09,403 L265.16,404 L265.2,405 L265.23,406 L265.26,407 L265.29,408 L265.31,409 L265.33,410 L265.35,411 L265.35,412 L265.35,413 L265.35,414 L265.35,415 L265.35,416 L265.35,417 L265.35,418 L265.35,419 L265.35,420 L265.35,421 L265.35,422 L265.35,423 L265.35,424 L265.35,425 L265.35,426 L265.35,427 L265.35,428 L265.34,429 L265.34,430 L265.34,431 L265.34,432 L265.34,433 L265.34,434 L265.34,435 L265.34,436 L265.34,437 L265.34,438 L265.33,439 L265.33,440 L265.33,441 L265.33,442 L265.33,443 L265.33,444 L265.32,445 L265.32,446 L265.32,447 L265.32,448 L265.32,449 L265.31,450 L265.31,451 L265.31,452 L265.31,453 L265.3,454 L265.3,455 L265.29,456 L265.27,457 L265.23,458 L265.19,459 L265.15,460 L265.1,461 L265.05,462 L264.98,463 L264.9,464 L264.81,465 L264.71,466 L264.61,467 L264.5,468 L264.4,469 L264.3,470 L264.19,471 L264.06,472 L263.92,473 L263.77,474 L263.63,475 L263.49,476 L263.38,477 L263.28,478 L263.22,479 L263.2,480 L266.6,480.5 L266.6,480.5 L270,480 L269.98,479 L269.92,478 L269.82,477 L269.71,476 L269.57,475 L269.43,474 L269.28,473 L269.14,472 L269.01,471 L268.9,470 L268.8,469 L268.7,468 L268.59,467 L268.49,466 L268.39,465 L268.3,464 L268.22,463 L268.15,462 L268.1,461 L268.05,460 L268.01,459 L267.97,458 L267.93,457 L267.91,456 L267.9,455 L267.9,454 L267.89,453 L267.89,452 L267.89,451 L267.89,450 L267.88,449 L267.88,448 L267.88,447 L267.88,446 L267.88,445 L267.87,444 L267.87,443 L267.87,442 L267.87,441 L267.87,440 L267.87,439 L267.86,438 L267.86,437 L267.86,436 L267.86,435 L267.86,434 L267.86,433 L267.86,432 L267.86,431 L267.86,430 L267.86,429 L267.85,428 L267.85,427 L267.85,426 L267.85,425 L267.85,424 L267.85,423 L267.85,422 L267.85,421 L267.85,420 L267.85,419 L267.85,418 L267.85,417 L267.85,416 L267.85,415 L267.85,414 L267.85,413 L267.85,412 L267.85,411 L267.87,410 L267.89,409 L267.91,408 L267.94,407 L267.97,406 L268,405 L268.04,404 L268.11,403 L268.19,402 L268.27,401 L268.35,400 L268.42,399 L268.48,398 L268.5,397 L268.49,396 L268.46,395 L268.42,394 L268.36,393 L268.29,392 L268.21,391 L268.14,390 L268.06,389 L268,388 L267.94,387 L267.88,386 L267.82,385 L267.76,384 L267.69,383 L267.63,382 L267.56,381 L267.5,380 Z" fill="#000"/>
<ellipse cx="266.6" cy="414.6" rx="2.2" ry="1.76" fill="#000"/>
<ellipse cx="266.6" cy="429.9" rx="2.2" ry="1.76" fill="#000"/>
<ellipse cx="266.6" cy="439.1" rx="2.2" ry="1.76" fill="#000"/>
<line x1="266.6" y1="465" x2="266.6" y2="595" stroke="#000" stroke-width="1.9"/>
<rect x="259.3" y="519.7" width="14.6" height="26.8" fill="#fff" stroke="#000" stroke-width="2"/>
<line x1="259.3" y1="532.3" x2="273.9" y2="532.3" stroke="#000" stroke-width="2"/>
<line x1="115.1" y1="605.8" x2="115.1" y2="608.5" stroke="#000" stroke-width="2.2"/>
<line x1="190.9" y1="605.8" x2="190.9" y2="608.5" stroke="#000" stroke-width="2.2"/>
<line x1="266.6" y1="605.8" x2="266.6" y2="608.5" stroke="#000" stroke-width="2.2"/>
<text x="114" y="624.5" font-size="18.1" font-weight="normal" text-anchor="middle" stroke="#000" stroke-width="0.35">ac<tspan dy="-5.4" font-size="10.2">4</tspan><tspan dy="5.4">C</tspan></text>
<text x="189.6" y="624.5" font-size="17.9" font-weight="normal" text-anchor="middle" stroke="#000" stroke-width="0.35">m<tspan dy="-5.4" font-size="10.2">5</tspan><tspan dy="5.4">C</tspan></text>
<text x="266.2" y="624.5" font-size="18.15" font-weight="normal" text-anchor="middle" stroke="#000" stroke-width="0.35">ac<tspan dy="-5.4" font-size="10.2">4</tspan><tspan dy="5.4">C &amp; m</tspan><tspan dy="-5.4" font-size="10.2">5</tspan><tspan dy="5.4">C</tspan></text>
<clipPath id="clip20"><rect x="390.7" y="332.3" width="291.5" height="268.8"/></clipPath>
<g clip-path="url(#clip20)">
<polyline points="388.2,589.6 389.26,589.6 390.33,589.6 391.39,589.6 392.45,589.6 393.52,589.6 394.58,589.6 395.64,589.6 396.71,589.6 397.77,589.6 398.83,589.6 399.9,589.6 400.96,589.6 402.02,589.6 403.08,589.6 404.15,589.6 405.21,589.6 406.27,589.59 407.34,589.48 408.4,589.35 409.46,589.29 410.53,589.15 411.59,588.59 412.65,588.07 413.72,587.93 414.78,587.65 415.84,587.06 416.91,586.37 417.97,586.13 419.03,586.03 420.1,585.42 421.16,584.37 422.22,582.85 423.29,581.66 424.35,581.41 425.41,580.63 426.48,579.16 427.54,577.91 428.6,576.55 429.66,575.19 430.73,573.47 431.79,571.52 432.85,569.5 433.92,567.01 434.98,564.96 436.04,563.24 437.11,561.06 438.17,558.6 439.23,556.35 440.3,554.52 441.36,553.93 442.42,553.48 443.49,550.94 444.55,547.55 445.61,544.46 446.68,542.12 447.74,540.23 448.8,538.34 449.87,537.24 450.93,535.41 451.99,532.29 453.06,528.8 454.12,525.49 455.18,522.18 456.24,519.14 457.31,515.94 458.37,511.6 459.43,508.01 460.5,505.62 461.56,502.86 462.62,498.78 463.69,494.81 464.75,491.48 465.81,487.81 466.88,484.05 467.94,479.99 469,475.62 470.07,471.27 471.13,467.45 472.19,464.41 473.26,461.18 474.32,457.62 475.38,454.37 476.45,451.39 477.51,448.02 478.57,444.42 479.64,441.27 480.7,438.38 481.76,436.67 482.82,433.93 483.89,429.35 484.95,426.72 486.01,425.23 487.08,422.86 488.14,420.32 489.2,417.57 490.27,413.88 491.33,410.52 492.39,408.09 493.46,405.69 494.52,403.37 495.58,400.96 496.65,399.25 497.71,398.01 498.77,396.68 499.84,395.1 500.9,392.37 501.96,390.6 503.03,390.56 504.09,388.88 505.15,385.54 506.22,383.9 507.28,383.09 508.34,381.37 509.4,380.8 510.47,380.8 511.53,379.46 512.59,378.47 513.66,378.27 514.72,377.57 515.78,377.01 516.85,376.18 517.91,374.89 518.97,374.89 520.04,374.89 521.1,373.02 522.16,371.38 523.23,371.07 524.29,369.68 525.35,367.84 526.42,367.6 527.48,367.6 528.54,367 529.61,365.33 530.67,363.66 531.73,362.6 532.8,361.35 533.86,360.21 534.92,359.78 535.98,359.22 537.05,358.24 538.11,357.58 539.17,357.26 540.24,356.46 541.3,355.19 542.36,353.9 543.43,353.24 544.49,353.08 545.55,352.42 546.62,351.77 547.68,351.55 548.74,351.55 549.81,351.55 550.87,350.63 551.93,349.86 553,349.84 554.06,349.79 555.12,349.47 556.19,348.92 557.25,348.56 558.31,348.52 559.38,348.49 560.44,348.18 561.5,347.81 562.56,347.73 563.63,347.69 564.69,347.69 565.75,347.69 566.82,347.14 567.88,346.86 568.94,346.86 570.01,346.86 571.07,346.54 572.13,346.36 573.2,346.32 574.26,346.27 575.32,346.15 576.39,345.78 577.45,345.64 578.51,345.64 579.58,345.64 580.64,345.58 581.7,345.54 582.77,345.54 583.83,345.53 584.89,345.36 585.96,345.36 587.02,345.35 588.08,345.13 589.14,345.13 590.21,345.13 591.27,345.06 592.33,344.85 593.4,344.81 594.46,344.81 595.52,344.81 596.59,344.81 597.65,344.7 598.71,344.55 599.78,344.52 600.84,344.46 601.9,344.32 602.97,344.26 604.03,344.23 605.09,344.18 606.16,344.18 607.22,344.18 608.28,344.12 609.35,344.12 610.41,344.12 611.47,344.12 612.54,344.12 613.6,344.12 614.66,344.12 615.72,344.12 616.79,344.12 617.85,344.12 618.91,344.12 619.98,344.12 621.04,344.12 622.1,344.12 623.17,344.12 624.23,344.12 625.29,344.12 626.36,344.12 627.42,344.12 628.48,344.12 629.55,344.12 630.61,344.12 631.67,344.12 632.74,344.12 633.8,344.11 634.86,344.11 635.93,344.11 636.99,344.11 638.05,344.09 639.12,344.08 640.18,344.08 641.24,344.08 642.3,344.08 643.37,344.08 644.43,344.08 645.49,344.08 646.56,344.08 647.62,344.05 648.68,344.05 649.75,344.05 650.81,344.05 651.87,344.04 652.94,344.01 654,344 655.06,344 656.13,344 657.19,344 658.25,344 659.32,344 660.38,344 661.44,344 662.51,344 663.57,344 664.63,344 665.7,344 666.76,344 667.82,344 668.88,344 669.95,344 671.01,344 672.07,344 673.14,344 674.2,344 675.26,344 676.33,344 677.39,344 678.45,344 679.52,344" fill="none" stroke="#FFF200" stroke-width="2.6" stroke-linejoin="round" stroke-linecap="butt"/>
<polyline points="389.7,589.6 390.76,589.6 391.83,589.6 392.89,589.6 393.95,589.6 395.02,589.6 396.08,589.6 397.14,589.6 398.21,589.6 399.27,589.6 400.33,589.6 401.4,589.6 402.46,589.6 403.52,589.6 404.58,589.6 405.65,589.6 406.71,589.6 407.77,589.6 408.84,589.6 409.9,589.6 410.96,589.6 412.03,589.6 413.09,589.6 414.15,589.6 415.22,589.6 416.28,589.6 417.34,589.6 418.41,589.57 419.47,589.52 420.53,589.38 421.6,589.15 422.66,589.05 423.72,589.05 424.79,588.95 425.85,588.46 426.91,587.93 427.98,587.24 429.04,586.24 430.1,585.13 431.16,584.01 432.23,582.63 433.29,581.17 434.35,579.29 435.42,576.83 436.48,574.95 437.54,573.52 438.61,571.65 439.67,569.26 440.73,566.76 441.8,564.6 442.86,561.55 443.92,557.76 444.99,554.42 446.05,551.7 447.11,548.75 448.18,544.78 449.24,540.55 450.3,536.61 451.37,532.68 452.43,528.38 453.49,524.48 454.56,520.94 455.62,517.3 456.68,513.18 457.74,507.9 458.81,502.53 459.87,498.12 460.93,492.98 462,487.1 463.06,482.53 464.12,478.41 465.19,474.28 466.25,470.96 467.31,466.5 468.38,459.41 469.44,452.4 470.5,447.32 471.57,443.52 472.63,440.92 473.69,437.53 474.76,433.21 475.82,430.78 476.88,427.5 477.95,421.2 479.01,415.65 480.07,411.63 481.14,407.9 482.2,405.05 483.26,403.09 484.32,400.97 485.39,398.37 486.45,395.79 487.51,392.22 488.58,388.52 489.64,386.46 490.7,384.94 491.77,382.28 492.83,379.8 493.89,379.05 494.96,377.01 496.02,373.95 497.08,372.3 498.15,370.45 499.21,367.9 500.27,365.86 501.34,364.83 502.4,364.02 503.46,362.99 504.53,362.43 505.59,361.81 506.65,360.62 507.72,359.43 508.78,358.82 509.84,358.3 510.9,357.59 511.97,357.1 513.03,356.49 514.09,355.83 515.16,355.46 516.22,355.22 517.28,354.52 518.35,353.87 519.41,353.73 520.47,353.27 521.54,352.84 522.6,352.78 523.66,352.46 524.73,351.83 525.79,351.16 526.85,350.7 527.92,350.7 528.98,350.7 530.04,350.32 531.11,349.56 532.17,349.27 533.23,349.07 534.3,348.65 535.36,348.6 536.42,348.6 537.48,348.46 538.55,348.4 539.61,348.26 540.67,348.04 541.74,347.63 542.8,347.37 543.86,347.26 544.93,347.16 545.99,347.16 547.05,347.05 548.12,347.05 549.18,347.05 550.24,346.63 551.31,346.07 552.37,345.93 553.43,345.93 554.5,345.93 555.56,345.93 556.62,345.93 557.69,345.93 558.75,345.93 559.81,345.93 560.88,345.93 561.94,345.93 563,345.93 564.06,345.93 565.13,345.93 566.19,345.85 567.25,345.7 568.32,345.53 569.38,345.44 570.44,345.44 571.51,345.44 572.57,345.44 573.63,345.44 574.7,345.44 575.76,345.44 576.82,345.42 577.89,345.32 578.95,345.14 580.01,345.1 581.08,345.1 582.14,345.04 583.2,344.81 584.27,344.72 585.33,344.72 586.39,344.72 587.46,344.52 588.52,344.52 589.58,344.52 590.64,344.46 591.71,344.35 592.77,344.35 593.83,344.35 594.9,344.35 595.96,344.28 597.02,344.23 598.09,344.22 599.15,344.19 600.21,344.17 601.28,344.12 602.34,344.1 603.4,344.1 604.47,344.1 605.53,344.1 606.59,344.1 607.66,344.1 608.72,344.1 609.78,344.1 610.85,344.1 611.91,344.1 612.97,344.1 614.04,344.1 615.1,344.1 616.16,344.1 617.22,344.06 618.29,344.06 619.35,344.06 620.41,344.06 621.48,344.06 622.54,344.06 623.6,344.06 624.67,344.06 625.73,344.06 626.79,344.06 627.86,344.06 628.92,344.06 629.98,344.06 631.05,344.06 632.11,344.06 633.17,344.06 634.24,344.06 635.3,344.06 636.36,344.06 637.43,344.06 638.49,344.06 639.55,344.06 640.62,344.06 641.68,344.06 642.74,344.06 643.8,344.06 644.87,344.04 645.93,344.04 646.99,344.04 648.06,344.04 649.12,344.04 650.18,344.04 651.25,344.04 652.31,344.02 653.37,344.02 654.44,344 655.5,344 656.56,344 657.63,344 658.69,344 659.75,344 660.82,344 661.88,344 662.94,344 664.01,344 665.07,344 666.13,344 667.2,344 668.26,344 669.32,344 670.38,344 671.45,344 672.51,344 673.57,344 674.64,344 675.7,344 676.76,344 677.83,344 678.89,344 679.95,344 681.02,344" fill="none" stroke="#2E3192" stroke-width="2.6" stroke-linejoin="round" stroke-linecap="butt"/>
<polyline points="389.5,589.6 390.56,589.6 391.63,589.6 392.69,589.6 393.75,589.6 394.82,589.6 395.88,589.6 396.94,589.6 398.01,589.6 399.07,589.6 400.13,589.6 401.2,589.6 402.26,589.6 403.32,589.6 404.38,589.6 405.45,589.6 406.51,589.6 407.57,589.6 408.64,589.6 409.7,589.6 410.76,589.6 411.83,589.59 412.89,589.55 413.95,589.44 415.02,589.3 416.08,589.15 417.14,588.99 418.21,588.83 419.27,588.59 420.33,588.09 421.4,587.5 422.46,587 423.52,586.28 424.59,585.42 425.65,584.61 426.71,583.67 427.78,582.55 428.84,581.31 429.9,579.97 430.96,578.45 432.03,576.73 433.09,575.07 434.15,573.05 435.22,570.57 436.28,568.26 437.34,565.98 438.41,563.31 439.47,560.38 440.53,557.65 441.6,554.79 442.66,551.64 443.72,548.76 444.79,545.93 445.85,542.7 446.91,539.42 447.98,536.31 449.04,532.89 450.1,529.19 451.17,525.33 452.23,520.79 453.29,516.12 454.36,511.54 455.42,506.01 456.48,500.3 457.54,495.39 458.61,490.06 459.67,484.36 460.73,478.91 461.8,473.61 462.86,468.56 463.92,463.98 464.99,459.82 466.05,455.55 467.11,450.7 468.18,445.72 469.24,440.98 470.3,436.52 471.37,432.56 472.43,428.64 473.49,424.31 474.56,419.85 475.62,415.64 476.68,411.84 477.75,408.62 478.81,405.7 479.87,402.41 480.94,399.01 482,395.91 483.06,393.22 484.12,390.69 485.19,388.25 486.25,386.01 487.31,383.39 488.38,380.74 489.44,378.36 490.5,376.03 491.57,373.93 492.63,371.85 493.69,369.89 494.76,368.07 495.82,366.31 496.88,364.87 497.95,363.5 499.01,362.18 500.07,360.99 501.14,359.72 502.2,358.57 503.26,357.43 504.33,356.39 505.39,355.73 506.45,355.02 507.52,354.29 508.58,353.77 509.64,353.44 510.7,353.23 511.77,352.84 512.83,352.34 513.89,351.99 514.96,351.81 516.02,351.45 517.08,351.01 518.15,350.78 519.21,350.59 520.27,350.27 521.34,350 522.4,349.82 523.46,349.47 524.53,348.97 525.59,348.5 526.65,348.16 527.72,347.84 528.78,347.42 529.84,346.96 530.91,346.59 531.97,346.42 533.03,346.33 534.1,346.24 535.16,346.15 536.22,346.01 537.28,345.82 538.35,345.72 539.41,345.7 540.47,345.58 541.54,345.44 542.6,345.37 543.66,345.33 544.73,345.28 545.79,345.27 546.85,345.23 547.92,345.17 548.98,345.1 550.04,345.01 551.11,344.92 552.17,344.85 553.23,344.85 554.3,344.85 555.36,344.81 556.42,344.78 557.49,344.75 558.55,344.66 559.61,344.64 560.68,344.64 561.74,344.63 562.8,344.56 563.86,344.53 564.93,344.48 565.99,344.46 567.05,344.45 568.12,344.43 569.18,344.43 570.24,344.41 571.31,344.38 572.37,344.34 573.43,344.29 574.5,344.28 575.56,344.28 576.62,344.26 577.69,344.23 578.75,344.23 579.81,344.23 580.88,344.23 581.94,344.23 583,344.23 584.07,344.21 585.13,344.21 586.19,344.21 587.26,344.21 588.32,344.2 589.38,344.16 590.44,344.15 591.51,344.15 592.57,344.15 593.63,344.15 594.7,344.15 595.76,344.15 596.82,344.15 597.89,344.15 598.95,344.15 600.01,344.15 601.08,344.15 602.14,344.15 603.2,344.15 604.27,344.15 605.33,344.15 606.39,344.15 607.46,344.14 608.52,344.14 609.58,344.14 610.65,344.14 611.71,344.13 612.77,344.13 613.84,344.13 614.9,344.13 615.96,344.13 617.02,344.12 618.09,344.12 619.15,344.12 620.21,344.12 621.28,344.09 622.34,344.07 623.4,344.07 624.47,344.07 625.53,344.07 626.59,344.07 627.66,344.07 628.72,344.07 629.78,344.06 630.85,344.06 631.91,344.06 632.97,344.06 634.04,344.06 635.1,344.06 636.16,344.06 637.23,344.06 638.29,344.06 639.35,344.05 640.42,344.05 641.48,344.05 642.54,344.05 643.6,344.05 644.67,344.05 645.73,344.05 646.79,344.05 647.86,344.05 648.92,344.05 649.98,344.05 651.05,344.05 652.11,344.05 653.17,344.05 654.24,344.05 655.3,344.05 656.36,344.04 657.43,344.04 658.49,344.04 659.55,344.04 660.62,344.04 661.68,344.03 662.74,344.03 663.81,344.03 664.87,344.03 665.93,344.03 667,344.03 668.06,344.03 669.12,344.02 670.18,344.02 671.25,344.02 672.31,344.02 673.37,344.02 674.44,344.02 675.5,344.02 676.56,344.02 677.63,344.02 678.69,344.02 679.75,344.02 680.82,344.02" fill="none" stroke="#00A651" stroke-width="2.6" stroke-linejoin="round" stroke-linecap="butt"/>
</g>
<rect x="390.7" y="332.3" width="291.5" height="268.8" fill="none" stroke="#000" stroke-width="2.5"/>
<line x1="388.6" y1="589.6" x2="390.7" y2="589.6" stroke="#000" stroke-width="2"/>
<text x="385.2" y="596.61" font-size="17.9" font-weight="normal" text-anchor="end" stroke="#000" stroke-width="0.35">0.00</text>
<line x1="388.6" y1="528.2" x2="390.7" y2="528.2" stroke="#000" stroke-width="2"/>
<text x="385.2" y="535.21" font-size="17.9" font-weight="normal" text-anchor="end" stroke="#000" stroke-width="0.35">0.25</text>
<line x1="388.6" y1="466.8" x2="390.7" y2="466.8" stroke="#000" stroke-width="2"/>
<text x="385.2" y="473.81" font-size="17.9" font-weight="normal" text-anchor="end" stroke="#000" stroke-width="0.35">0.50</text>
<line x1="388.6" y1="405.4" x2="390.7" y2="405.4" stroke="#000" stroke-width="2"/>
<text x="385.2" y="412.41" font-size="17.9" font-weight="normal" text-anchor="end" stroke="#000" stroke-width="0.35">0.75</text>
<line x1="388.6" y1="344" x2="390.7" y2="344" stroke="#000" stroke-width="2"/>
<text x="385.2" y="351.01" font-size="17.9" font-weight="normal" text-anchor="end" stroke="#000" stroke-width="0.35">1.00</text>
<line x1="404.7" y1="601.1" x2="404.7" y2="603.3" stroke="#000" stroke-width="2"/>
<text x="405.1" y="618.9" font-size="17.9" font-weight="normal" text-anchor="middle" stroke="#000" stroke-width="0.35">0</text>
<line x1="493" y1="601.1" x2="493" y2="603.3" stroke="#000" stroke-width="2"/>
<text x="493.7" y="618.9" font-size="17.9" font-weight="normal" text-anchor="middle" stroke="#000" stroke-width="0.35">1</text>
<line x1="581.3" y1="601.1" x2="581.3" y2="603.3" stroke="#000" stroke-width="2"/>
<text x="582.3" y="618.9" font-size="17.9" font-weight="normal" text-anchor="middle" stroke="#000" stroke-width="0.35">2</text>
<line x1="669.6" y1="601.1" x2="669.6" y2="603.3" stroke="#000" stroke-width="2"/>
<text x="670.9" y="618.9" font-size="17.9" font-weight="normal" text-anchor="middle" stroke="#000" stroke-width="0.35">3</text>
<text x="343" y="466" font-size="17.9" font-weight="normal" text-anchor="middle" stroke="#000" stroke-width="0.35" transform="rotate(-90 343 466)">Cumulative probability</text>
<line x1="505.1" y1="535.8" x2="523.6" y2="535.8" stroke="#FFF200" stroke-width="2.3"/>
<text x="532.3" y="538.31" font-size="18.1" font-weight="normal" text-anchor="start" stroke="#000" stroke-width="0.35">ac<tspan dy="-5.4" font-size="10.2">4</tspan><tspan dy="5.4">C</tspan></text>
<line x1="505.1" y1="559.2" x2="523.6" y2="559.2" stroke="#00A651" stroke-width="2.3"/>
<text x="532.3" y="562.81" font-size="18.1" font-weight="normal" text-anchor="start" stroke="#000" stroke-width="0.35">m<tspan dy="-5.4" font-size="10.2">5</tspan><tspan dy="5.4">C</tspan></text>
<line x1="505.1" y1="582.3" x2="523.6" y2="582.3" stroke="#2E3192" stroke-width="2.3"/>
<text x="532.3" y="587.21" font-size="18.1" font-weight="normal" text-anchor="start" stroke="#000" stroke-width="0.35">ac<tspan dy="-5.4" font-size="10.2">4</tspan><tspan dy="5.4">C &amp; m</tspan><tspan dy="-5.4" font-size="10.2">5</tspan><tspan dy="5.4">C</tspan></text>
<line x1="635.1" y1="533.8" x2="635.1" y2="575.5" stroke="#000" stroke-width="2.5"/>
<text x="634.99" y="556.15" font-size="16.4" font-weight="normal" text-anchor="middle" stroke="#000" stroke-width="0.35" transform="rotate(90 634.99 556.15)" letter-spacing="0.5">***</text>
<line x1="655" y1="556.4" x2="655" y2="576.5" stroke="#000" stroke-width="2.5"/>
<text x="654.29" y="566.25" font-size="16.4" font-weight="normal" text-anchor="middle" stroke="#000" stroke-width="0.35" transform="rotate(90 654.29 566.25)" letter-spacing="0.5">***</text>
<line x1="70.5" y1="668.5" x2="70.5" y2="906.7" stroke="#000" stroke-width="2.2"/>
<line x1="69.4" y1="905.6" x2="312.3" y2="905.6" stroke="#000" stroke-width="2.2"/>
<text x="64.7" y="900.86" font-size="17.9" font-weight="normal" text-anchor="end" stroke="#000" stroke-width="0.35">0.0</text>
<text x="64.7" y="857.71" font-size="17.9" font-weight="normal" text-anchor="end" stroke="#000" stroke-width="0.35">0.5</text>
<text x="64.7" y="814.56" font-size="17.9" font-weight="normal" text-anchor="end" stroke="#000" stroke-width="0.35">1.0</text>
<text x="64.7" y="771.41" font-size="17.9" font-weight="normal" text-anchor="end" stroke="#000" stroke-width="0.35">1.5</text>
<text x="64.7" y="728.26" font-size="17.9" font-weight="normal" text-anchor="end" stroke="#000" stroke-width="0.35">2.0</text>
<text x="64.7" y="685.11" font-size="17.9" font-weight="normal" text-anchor="end" stroke="#000" stroke-width="0.35">2.5</text>
<text x="31" y="789" font-size="17.9" font-weight="normal" text-anchor="middle" stroke="#000" stroke-width="0.35" transform="rotate(-90 31 789)">Translation efficiency</text>
<line x1="191.5" y1="662.2" x2="267.8" y2="662.2" stroke="#000" stroke-width="2.5"/>
<text x="230.9" y="664.11" font-size="16.4" font-weight="normal" text-anchor="middle" stroke="#000" stroke-width="0.35">*</text>
<path d="M115.7,687.3 L115.7,688.3 L115.7,689.3 L115.7,690.3 L115.69,691.3 L115.69,692.3 L115.69,693.3 L115.68,694.3 L115.67,695.3 L115.67,696.3 L115.66,697.3 L115.66,698.3 L115.65,699.3 L115.64,700.3 L115.63,701.3 L115.62,702.3 L115.62,703.3 L115.61,704.3 L115.6,705.3 L115.59,706.3 L115.57,707.3 L115.56,708.3 L115.54,709.3 L115.53,710.3 L115.51,711.3 L115.49,712.3 L115.46,713.3 L115.44,714.3 L115.42,715.3 L115.39,716.3 L115.37,717.3 L115.34,718.3 L115.32,719.3 L115.29,720.3 L115.27,721.3 L115.24,722.3 L115.22,723.3 L115.19,724.3 L115.16,725.3 L115.13,726.3 L115.1,727.3 L115.06,728.3 L115.03,729.3 L114.99,730.3 L114.94,731.3 L114.89,732.3 L114.84,733.3 L114.78,734.3 L114.69,735.3 L114.57,736.3 L114.44,737.3 L114.29,738.3 L114.14,739.3 L114.01,740.3 L113.89,741.3 L113.79,742.3 L113.7,743.3 L113.61,744.3 L113.53,745.3 L113.44,746.3 L113.36,747.3 L113.26,748.3 L113.16,749.3 L113.04,750.3 L112.92,751.3 L112.8,752.3 L112.66,753.3 L112.53,754.3 L112.4,755.3 L112.27,756.3 L112.13,757.3 L112,758.3 L111.86,759.3 L111.72,760.3 L111.58,761.3 L111.44,762.3 L111.3,763.3 L111.15,764.3 L111,765.3 L110.85,766.3 L110.69,767.3 L110.53,768.3 L110.37,769.3 L110.21,770.3 L110.04,771.3 L109.87,772.3 L109.7,773.3 L109.52,774.3 L109.34,775.3 L109.15,776.3 L108.97,777.3 L108.79,778.3 L108.6,779.3 L108.41,780.3 L108.21,781.3 L108,782.3 L107.77,783.3 L107.53,784.3 L107.26,785.3 L106.97,786.3 L106.66,787.3 L106.33,788.3 L105.98,789.3 L105.61,790.3 L105.23,791.3 L104.82,792.3 L104.4,793.3 L103.95,794.3 L103.46,795.3 L102.94,796.3 L102.38,797.3 L101.81,798.3 L101.21,799.3 L100.61,800.3 L99.99,801.3 L99.38,802.3 L98.73,803.3 L98.06,804.3 L97.36,805.3 L96.64,806.3 L95.92,807.3 L95.21,808.3 L94.52,809.3 L93.85,810.3 L93.21,811.3 L92.56,812.3 L91.9,813.3 L91.25,814.3 L90.64,815.3 L90.08,816.3 L89.61,817.3 L89.23,818.3 L88.91,819.3 L88.63,820.3 L88.36,821.3 L88.13,822.3 L87.92,823.3 L87.74,824.3 L87.59,825.3 L87.43,826.3 L87.3,827.3 L87.21,828.3 L87.21,829.3 L87.29,830.3 L87.43,831.3 L87.62,832.3 L87.85,833.3 L88.1,834.3 L88.35,835.3 L88.6,836.3 L88.88,837.3 L89.21,838.3 L89.56,839.3 L89.95,840.3 L90.36,841.3 L90.79,842.3 L91.24,843.3 L91.73,844.3 L92.27,845.3 L92.85,846.3 L93.45,847.3 L94.07,848.3 L94.7,849.3 L95.33,850.3 L95.97,851.3 L96.63,852.3 L97.31,853.3 L98,854.3 L98.7,855.3 L99.39,856.3 L100.07,857.3 L100.75,858.3 L101.44,859.3 L102.12,860.3 L102.81,861.3 L103.49,862.3 L104.15,863.3 L104.8,864.3 L105.44,865.3 L106.09,866.3 L106.73,867.3 L107.37,868.3 L107.99,869.3 L108.59,870.3 L109.16,871.3 L109.7,872.3 L110.2,873.3 L110.68,874.3 L111.15,875.3 L111.61,876.3 L112.04,877.3 L112.46,878.3 L112.84,879.3 L113.19,880.3 L113.51,881.3 L113.78,882.3 L114.03,883.3 L114.28,884.3 L114.52,885.3 L114.74,886.3 L114.93,887.3 L115.1,888.3 L115.25,889.3 L115.35,890.3 L115.43,891.3 L115.49,892.3 L115.54,893.3 L115.59,894.3 L115.63,895.3 L115.67,896.3 L115.7,897.3 L115.72,898.3 L115.74,899.3 L115.76,900.3 L115.77,901.3 L115.78,902.3 L115.79,903.3 L115.8,904.3 L115.8,905 L115.8,905 L115.8,904.3 L115.81,903.3 L115.82,902.3 L115.83,901.3 L115.84,900.3 L115.86,899.3 L115.88,898.3 L115.9,897.3 L115.93,896.3 L115.97,895.3 L116.01,894.3 L116.06,893.3 L116.11,892.3 L116.17,891.3 L116.25,890.3 L116.35,889.3 L116.5,888.3 L116.67,887.3 L116.86,886.3 L117.08,885.3 L117.32,884.3 L117.57,883.3 L117.82,882.3 L118.09,881.3 L118.41,880.3 L118.76,879.3 L119.14,878.3 L119.56,877.3 L119.99,876.3 L120.45,875.3 L120.92,874.3 L121.4,873.3 L121.9,872.3 L122.44,871.3 L123.01,870.3 L123.61,869.3 L124.23,868.3 L124.87,867.3 L125.51,866.3 L126.16,865.3 L126.8,864.3 L127.45,863.3 L128.11,862.3 L128.79,861.3 L129.48,860.3 L130.16,859.3 L130.85,858.3 L131.53,857.3 L132.21,856.3 L132.9,855.3 L133.6,854.3 L134.29,853.3 L134.97,852.3 L135.63,851.3 L136.27,850.3 L136.9,849.3 L137.53,848.3 L138.15,847.3 L138.75,846.3 L139.33,845.3 L139.87,844.3 L140.36,843.3 L140.81,842.3 L141.24,841.3 L141.65,840.3 L142.04,839.3 L142.39,838.3 L142.72,837.3 L143,836.3 L143.25,835.3 L143.5,834.3 L143.75,833.3 L143.98,832.3 L144.17,831.3 L144.31,830.3 L144.39,829.3 L144.39,828.3 L144.3,827.3 L144.17,826.3 L144.01,825.3 L143.86,824.3 L143.68,823.3 L143.47,822.3 L143.24,821.3 L142.97,820.3 L142.69,819.3 L142.37,818.3 L141.99,817.3 L141.52,816.3 L140.96,815.3 L140.35,814.3 L139.7,813.3 L139.04,812.3 L138.39,811.3 L137.75,810.3 L137.08,809.3 L136.39,808.3 L135.68,807.3 L134.96,806.3 L134.24,805.3 L133.54,804.3 L132.87,803.3 L132.22,802.3 L131.61,801.3 L130.99,800.3 L130.39,799.3 L129.79,798.3 L129.22,797.3 L128.66,796.3 L128.14,795.3 L127.65,794.3 L127.2,793.3 L126.78,792.3 L126.37,791.3 L125.99,790.3 L125.62,789.3 L125.27,788.3 L124.94,787.3 L124.63,786.3 L124.34,785.3 L124.07,784.3 L123.83,783.3 L123.6,782.3 L123.39,781.3 L123.19,780.3 L123,779.3 L122.81,778.3 L122.63,777.3 L122.45,776.3 L122.26,775.3 L122.08,774.3 L121.9,773.3 L121.73,772.3 L121.56,771.3 L121.39,770.3 L121.23,769.3 L121.07,768.3 L120.91,767.3 L120.75,766.3 L120.6,765.3 L120.45,764.3 L120.3,763.3 L120.16,762.3 L120.02,761.3 L119.88,760.3 L119.74,759.3 L119.6,758.3 L119.47,757.3 L119.33,756.3 L119.2,755.3 L119.07,754.3 L118.94,753.3 L118.8,752.3 L118.68,751.3 L118.56,750.3 L118.44,749.3 L118.34,748.3 L118.24,747.3 L118.16,746.3 L118.07,745.3 L117.99,744.3 L117.9,743.3 L117.81,742.3 L117.71,741.3 L117.59,740.3 L117.46,739.3 L117.31,738.3 L117.16,737.3 L117.03,736.3 L116.91,735.3 L116.82,734.3 L116.76,733.3 L116.71,732.3 L116.66,731.3 L116.61,730.3 L116.57,729.3 L116.54,728.3 L116.5,727.3 L116.47,726.3 L116.44,725.3 L116.41,724.3 L116.38,723.3 L116.36,722.3 L116.33,721.3 L116.31,720.3 L116.28,719.3 L116.26,718.3 L116.23,717.3 L116.21,716.3 L116.18,715.3 L116.16,714.3 L116.14,713.3 L116.11,712.3 L116.09,711.3 L116.07,710.3 L116.06,709.3 L116.04,708.3 L116.03,707.3 L116.01,706.3 L116,705.3 L115.99,704.3 L115.98,703.3 L115.98,702.3 L115.97,701.3 L115.96,700.3 L115.95,699.3 L115.94,698.3 L115.94,697.3 L115.93,696.3 L115.93,695.3 L115.92,694.3 L115.91,693.3 L115.91,692.3 L115.91,691.3 L115.9,690.3 L115.9,689.3 L115.9,688.3 L115.9,687.3 Z" fill="#FFF200" stroke="#000" stroke-width="2.1" stroke-linejoin="round"/>
<path d="M114.6,687.3 L114.6,688.3 L114.59,689.3 L114.58,690.3 L114.57,691.3 L114.56,692.3 L114.54,693.3 L114.52,694.3 L114.49,695.3 L114.47,696.3 L114.44,697.3 L114.41,698.3 L114.38,699.3 L114.33,700.3 L114.25,701.3 L114.15,702.3 L114.05,703.3 L113.94,704.3 L113.84,705.3 L113.74,706.3 L113.65,707.3 L113.58,708.3 L113.51,709.3 L113.44,710.3 L113.38,711.3 L113.31,712.3 L113.26,713.3 L113.22,714.3 L113.2,715.3 L113.2,716.3 L113.23,717.3 L113.28,718.3 L113.34,719.3 L113.41,720.3 L113.49,721.3 L113.58,722.3 L113.65,723.3 L113.72,724.3 L113.8,725.3 L113.88,726.3 L113.98,727.3 L114.07,728.3 L114.15,729.3 L114.22,730.3 L114.27,731.3 L114.3,732.3 L114.28,733.3 L114.2,734.3 L114.05,735.3 L113.86,736.3 L113.65,737.3 L113.43,738.3 L113.21,739.3 L113.03,740.3 L112.89,741.3 L112.76,742.3 L112.64,743.3 L112.51,744.3 L112.4,745.3 L112.31,746.3 L112.24,747.3 L112.2,748.3 L115.8,749.2 L115.8,749.2 L119.4,748.3 L119.36,747.3 L119.29,746.3 L119.2,745.3 L119.09,744.3 L118.96,743.3 L118.84,742.3 L118.71,741.3 L118.57,740.3 L118.39,739.3 L118.17,738.3 L117.95,737.3 L117.74,736.3 L117.55,735.3 L117.4,734.3 L117.32,733.3 L117.3,732.3 L117.33,731.3 L117.38,730.3 L117.45,729.3 L117.53,728.3 L117.62,727.3 L117.72,726.3 L117.8,725.3 L117.88,724.3 L117.95,723.3 L118.02,722.3 L118.11,721.3 L118.19,720.3 L118.26,719.3 L118.32,718.3 L118.37,717.3 L118.4,716.3 L118.4,715.3 L118.38,714.3 L118.34,713.3 L118.29,712.3 L118.22,711.3 L118.16,710.3 L118.09,709.3 L118.02,708.3 L117.95,707.3 L117.86,706.3 L117.76,705.3 L117.66,704.3 L117.55,703.3 L117.45,702.3 L117.35,701.3 L117.27,700.3 L117.22,699.3 L117.19,698.3 L117.16,697.3 L117.13,696.3 L117.11,695.3 L117.08,694.3 L117.06,693.3 L117.04,692.3 L117.03,691.3 L117.02,690.3 L117.01,689.3 L117,688.3 L117,687.3 Z" fill="#000"/>
<line x1="115.8" y1="754.4" x2="115.8" y2="905" stroke="#000" stroke-width="1.9"/>
<rect x="108.3" y="807.6" width="15" height="38.8" fill="#fff" stroke="#000" stroke-width="2"/>
<line x1="108.3" y1="827.3" x2="123.3" y2="827.3" stroke="#000" stroke-width="2"/>
<path d="M191.3,668.5 L191.3,669.5 L191.3,670.5 L191.3,671.5 L191.3,672.5 L191.3,673.5 L191.3,674.5 L191.3,675.5 L191.3,676.5 L191.3,677.5 L191.3,678.5 L191.3,679.5 L191.3,680.5 L191.3,681.5 L191.3,682.5 L191.3,683.5 L191.3,684.5 L191.3,685.5 L191.3,686.5 L191.3,687.5 L191.3,688.5 L191.3,689.5 L191.3,690.5 L191.3,691.5 L191.3,692.5 L191.3,693.5 L191.3,694.5 L191.3,695.5 L191.3,696.5 L191.3,697.5 L191.3,698.5 L191.3,699.5 L191.3,700.5 L191.3,701.5 L191.3,702.5 L191.3,703.5 L191.3,704.5 L191.3,705.5 L191.3,706.5 L191.3,707.5 L191.3,708.5 L191.3,709.5 L191.3,710.5 L191.3,711.5 L191.3,712.5 L191.3,713.5 L191.3,714.5 L191.3,715.5 L191.3,716.5 L191.3,717.5 L191.3,718.5 L191.3,719.5 L191.3,720.5 L191.3,721.5 L191.3,722.5 L191.3,723.5 L191.3,724.5 L191.3,725.5 L191.3,726.5 L191.3,727.5 L191.3,728.5 L191.3,729.5 L191.3,730.5 L191.3,731.5 L191.3,732.5 L191.3,733.5 L191.3,734.5 L191.3,735.5 L191.3,736.5 L191.3,737.5 L191.3,738.5 L191.3,739.5 L191.3,740.5 L191.3,741.5 L191.3,742.5 L191.3,743.5 L191.3,744.5 L191.3,745.5 L191.3,746.5 L191.3,747.5 L191.3,748.5 L191.3,749.5 L191.3,750.5 L191.27,751.5 L191.21,752.5 L191.13,753.5 L191.03,754.5 L190.92,755.5 L190.79,756.5 L190.66,757.5 L190.52,758.5 L190.38,759.5 L190.24,760.5 L190.11,761.5 L189.98,762.5 L189.87,763.5 L189.77,764.5 L189.7,765.5 L189.63,766.5 L189.58,767.5 L189.53,768.5 L189.47,769.5 L189.4,770.5 L189.33,771.5 L189.23,772.5 L189.09,773.5 L188.91,774.5 L188.7,775.5 L188.46,776.5 L188.19,777.5 L187.9,778.5 L187.61,779.5 L187.3,780.5 L186.94,781.5 L186.55,782.5 L186.12,783.5 L185.66,784.5 L185.19,785.5 L184.7,786.5 L184.2,787.5 L183.66,788.5 L183.08,789.5 L182.48,790.5 L181.85,791.5 L181.21,792.5 L180.56,793.5 L179.91,794.5 L179.27,795.5 L178.62,796.5 L177.96,797.5 L177.3,798.5 L176.62,799.5 L175.92,800.5 L175.21,801.5 L174.48,802.5 L173.74,803.5 L172.97,804.5 L172.19,805.5 L171.4,806.5 L170.59,807.5 L169.78,808.5 L168.95,809.5 L168.09,810.5 L167.2,811.5 L166.28,812.5 L165.36,813.5 L164.45,814.5 L163.58,815.5 L162.76,816.5 L162,817.5 L161.25,818.5 L160.51,819.5 L159.81,820.5 L159.13,821.5 L158.5,822.5 L157.92,823.5 L157.4,824.5 L156.92,825.5 L156.45,826.5 L156.02,827.5 L155.61,828.5 L155.24,829.5 L154.91,830.5 L154.62,831.5 L154.38,832.5 L154.13,833.5 L153.9,834.5 L153.7,835.5 L153.55,836.5 L153.46,837.5 L153.47,838.5 L153.64,839.5 L153.95,840.5 L154.36,841.5 L154.85,842.5 L155.37,843.5 L155.92,844.5 L156.62,845.5 L157.5,846.5 L158.51,847.5 L159.61,848.5 L160.75,849.5 L161.91,850.5 L163.03,851.5 L164.12,852.5 L165.25,853.5 L166.41,854.5 L167.59,855.5 L168.78,856.5 L169.97,857.5 L171.15,858.5 L172.32,859.5 L173.51,860.5 L174.71,861.5 L175.92,862.5 L177.11,863.5 L178.27,864.5 L179.39,865.5 L180.45,866.5 L181.47,867.5 L182.5,868.5 L183.51,869.5 L184.48,870.5 L185.39,871.5 L186.22,872.5 L186.94,873.5 L187.54,874.5 L188.12,875.5 L188.66,876.5 L189.17,877.5 L189.62,878.5 L190.01,879.5 L190.32,880.5 L190.55,881.5 L190.73,882.5 L190.89,883.5 L191.04,884.5 L191.17,885.5 L191.27,886.5 L191.35,887.5 L191.39,888.5 L191.41,889.5 L191.42,890.5 L191.43,891.5 L191.44,892.5 L191.44,893.5 L191.45,894.5 L191.45,895.5 L191.45,896.4 L191.45,896.4 L191.45,895.5 L191.45,894.5 L191.46,893.5 L191.46,892.5 L191.47,891.5 L191.48,890.5 L191.49,889.5 L191.51,888.5 L191.55,887.5 L191.63,886.5 L191.73,885.5 L191.86,884.5 L192.01,883.5 L192.17,882.5 L192.35,881.5 L192.58,880.5 L192.89,879.5 L193.28,878.5 L193.73,877.5 L194.24,876.5 L194.78,875.5 L195.36,874.5 L195.96,873.5 L196.68,872.5 L197.51,871.5 L198.42,870.5 L199.39,869.5 L200.4,868.5 L201.43,867.5 L202.45,866.5 L203.51,865.5 L204.63,864.5 L205.79,863.5 L206.98,862.5 L208.19,861.5 L209.39,860.5 L210.58,859.5 L211.75,858.5 L212.93,857.5 L214.12,856.5 L215.31,855.5 L216.49,854.5 L217.65,853.5 L218.78,852.5 L219.87,851.5 L220.99,850.5 L222.15,849.5 L223.29,848.5 L224.39,847.5 L225.4,846.5 L226.28,845.5 L226.98,844.5 L227.53,843.5 L228.05,842.5 L228.54,841.5 L228.95,840.5 L229.26,839.5 L229.43,838.5 L229.44,837.5 L229.35,836.5 L229.2,835.5 L229,834.5 L228.77,833.5 L228.52,832.5 L228.28,831.5 L227.99,830.5 L227.66,829.5 L227.29,828.5 L226.88,827.5 L226.45,826.5 L225.98,825.5 L225.5,824.5 L224.98,823.5 L224.4,822.5 L223.77,821.5 L223.09,820.5 L222.39,819.5 L221.65,818.5 L220.9,817.5 L220.14,816.5 L219.32,815.5 L218.45,814.5 L217.54,813.5 L216.62,812.5 L215.7,811.5 L214.81,810.5 L213.95,809.5 L213.12,808.5 L212.31,807.5 L211.5,806.5 L210.71,805.5 L209.93,804.5 L209.16,803.5 L208.42,802.5 L207.69,801.5 L206.98,800.5 L206.28,799.5 L205.6,798.5 L204.94,797.5 L204.28,796.5 L203.63,795.5 L202.99,794.5 L202.34,793.5 L201.69,792.5 L201.05,791.5 L200.42,790.5 L199.82,789.5 L199.24,788.5 L198.7,787.5 L198.2,786.5 L197.71,785.5 L197.24,784.5 L196.78,783.5 L196.35,782.5 L195.96,781.5 L195.6,780.5 L195.29,779.5 L195,778.5 L194.71,777.5 L194.44,776.5 L194.2,775.5 L193.99,774.5 L193.81,773.5 L193.67,772.5 L193.57,771.5 L193.5,770.5 L193.43,769.5 L193.37,768.5 L193.32,767.5 L193.27,766.5 L193.2,765.5 L193.13,764.5 L193.03,763.5 L192.92,762.5 L192.79,761.5 L192.66,760.5 L192.52,759.5 L192.38,758.5 L192.24,757.5 L192.11,756.5 L191.98,755.5 L191.87,754.5 L191.77,753.5 L191.69,752.5 L191.63,751.5 L191.6,750.5 L191.6,749.5 L191.6,748.5 L191.6,747.5 L191.6,746.5 L191.6,745.5 L191.6,744.5 L191.6,743.5 L191.6,742.5 L191.6,741.5 L191.6,740.5 L191.6,739.5 L191.6,738.5 L191.6,737.5 L191.6,736.5 L191.6,735.5 L191.6,734.5 L191.6,733.5 L191.6,732.5 L191.6,731.5 L191.6,730.5 L191.6,729.5 L191.6,728.5 L191.6,727.5 L191.6,726.5 L191.6,725.5 L191.6,724.5 L191.6,723.5 L191.6,722.5 L191.6,721.5 L191.6,720.5 L191.6,719.5 L191.6,718.5 L191.6,717.5 L191.6,716.5 L191.6,715.5 L191.6,714.5 L191.6,713.5 L191.6,712.5 L191.6,711.5 L191.6,710.5 L191.6,709.5 L191.6,708.5 L191.6,707.5 L191.6,706.5 L191.6,705.5 L191.6,704.5 L191.6,703.5 L191.6,702.5 L191.6,701.5 L191.6,700.5 L191.6,699.5 L191.6,698.5 L191.6,697.5 L191.6,696.5 L191.6,695.5 L191.6,694.5 L191.6,693.5 L191.6,692.5 L191.6,691.5 L191.6,690.5 L191.6,689.5 L191.6,688.5 L191.6,687.5 L191.6,686.5 L191.6,685.5 L191.6,684.5 L191.6,683.5 L191.6,682.5 L191.6,681.5 L191.6,680.5 L191.6,679.5 L191.6,678.5 L191.6,677.5 L191.6,676.5 L191.6,675.5 L191.6,674.5 L191.6,673.5 L191.6,672.5 L191.6,671.5 L191.6,670.5 L191.6,669.5 L191.6,668.5 Z" fill="#00AEEF" stroke="#000" stroke-width="2.1" stroke-linejoin="round"/>
<path d="M190.2,668.3 L190.2,669.3 L190.2,670.3 L190.2,671.3 L190.2,672.3 L190.2,673.3 L190.2,674.3 L190.2,675.3 L190.2,676.3 L190.2,677.3 L190.2,678.3 L190.2,679.3 L190.2,680.3 L190.2,681.3 L190.2,682.3 L190.2,683.3 L190.2,684.3 L190.2,685.3 L190.19,686.3 L190.19,687.3 L190.19,688.3 L190.19,689.3 L190.19,690.3 L190.19,691.3 L190.19,692.3 L190.19,693.3 L190.19,694.3 L190.19,695.3 L190.18,696.3 L190.18,697.3 L190.18,698.3 L190.18,699.3 L190.18,700.3 L190.18,701.3 L190.18,702.3 L190.17,703.3 L190.17,704.3 L190.17,705.3 L190.17,706.3 L190.16,707.3 L190.16,708.3 L190.16,709.3 L190.16,710.3 L190.15,711.3 L190.15,712.3 L190.15,713.3 L190.09,714.3 L190,715.3 L189.87,716.3 L189.75,717.3 L189.64,718.3 L189.57,719.3 L189.55,720.3 L189.55,721.3 L189.55,722.3 L189.55,723.3 L189.55,724.3 L189.55,725.3 L189.55,726.3 L189.55,727.3 L189.55,728.3 L189.55,729.3 L189.55,730.3 L189.55,731.3 L189.55,732.3 L189.55,733.3 L189.55,734.3 L189.55,735.3 L189.55,736.3 L189.55,737.3 L189.55,738.3 L189.55,739.3 L189.55,740.3 L189.55,741.3 L189.55,742.3 L189.55,743.3 L189.55,744.3 L189.55,745.3 L189.58,746.3 L189.63,747.3 L189.69,748.3 L189.75,749.3 L189.81,750.3 L189.84,751.3 L189.85,752.3 L189.84,753.3 L189.82,754.3 L189.79,755.3 L189.76,756.3 L189.71,757.3 L189.66,758.3 L189.61,759.3 L189.55,760.3 L189.49,761.3 L189.42,762.3 L189.36,763.3 L189.29,764.3 L189.23,765.3 L189.14,766.3 L189.03,767.3 L188.92,768.3 L188.81,769.3 L188.72,770.3 L188.66,771.3 L190.03,772.3 L191.45,772.5 L191.45,772.5 L192.87,772.3 L194.24,771.3 L194.18,770.3 L194.09,769.3 L193.98,768.3 L193.87,767.3 L193.76,766.3 L193.67,765.3 L193.61,764.3 L193.54,763.3 L193.48,762.3 L193.41,761.3 L193.35,760.3 L193.29,759.3 L193.24,758.3 L193.19,757.3 L193.14,756.3 L193.11,755.3 L193.08,754.3 L193.06,753.3 L193.05,752.3 L193.06,751.3 L193.09,750.3 L193.15,749.3 L193.21,748.3 L193.27,747.3 L193.32,746.3 L193.35,745.3 L193.35,744.3 L193.35,743.3 L193.35,742.3 L193.35,741.3 L193.35,740.3 L193.35,739.3 L193.35,738.3 L193.35,737.3 L193.35,736.3 L193.35,735.3 L193.35,734.3 L193.35,733.3 L193.35,732.3 L193.35,731.3 L193.35,730.3 L193.35,729.3 L193.35,728.3 L193.35,727.3 L193.35,726.3 L193.35,725.3 L193.35,724.3 L193.35,723.3 L193.35,722.3 L193.35,721.3 L193.35,720.3 L193.33,719.3 L193.26,718.3 L193.15,717.3 L193.03,716.3 L192.9,715.3 L192.81,714.3 L192.75,713.3 L192.75,712.3 L192.75,711.3 L192.74,710.3 L192.74,709.3 L192.74,708.3 L192.74,707.3 L192.73,706.3 L192.73,705.3 L192.73,704.3 L192.73,703.3 L192.72,702.3 L192.72,701.3 L192.72,700.3 L192.72,699.3 L192.72,698.3 L192.72,697.3 L192.72,696.3 L192.71,695.3 L192.71,694.3 L192.71,693.3 L192.71,692.3 L192.71,691.3 L192.71,690.3 L192.71,689.3 L192.71,688.3 L192.71,687.3 L192.71,686.3 L192.7,685.3 L192.7,684.3 L192.7,683.3 L192.7,682.3 L192.7,681.3 L192.7,680.3 L192.7,679.3 L192.7,678.3 L192.7,677.3 L192.7,676.3 L192.7,675.3 L192.7,674.3 L192.7,673.3 L192.7,672.3 L192.7,671.3 L192.7,670.3 L192.7,669.3 L192.7,668.3 Z" fill="#000"/>
<ellipse cx="191.45" cy="698.5" rx="2.5" ry="2" fill="#000"/>
<ellipse cx="191.45" cy="700.5" rx="2.5" ry="2" fill="#000"/>
<line x1="191.45" y1="760" x2="191.45" y2="896.3" stroke="#000" stroke-width="1.9"/>
<rect x="184.15" y="816.7" width="14.6" height="29.8" fill="#fff" stroke="#000" stroke-width="2"/>
<line x1="184.15" y1="833.1" x2="198.75" y2="833.1" stroke="#000" stroke-width="2"/>
<path d="M267.3,668.5 L267.3,669.5 L267.3,670.5 L267.3,671.5 L267.3,672.5 L267.3,673.5 L267.3,674.5 L267.3,675.5 L267.3,676.5 L267.3,677.5 L267.3,678.5 L267.3,679.5 L267.3,680.5 L267.3,681.5 L267.3,682.5 L267.3,683.5 L267.3,684.5 L267.3,685.5 L267.3,686.5 L267.3,687.5 L267.3,688.5 L267.3,689.5 L267.3,690.5 L267.3,691.5 L267.3,692.5 L267.3,693.5 L267.3,694.5 L267.3,695.5 L267.3,696.5 L267.3,697.5 L267.3,698.5 L267.3,699.5 L267.3,700.5 L267.3,701.5 L267.3,702.5 L267.3,703.5 L267.3,704.5 L267.3,705.5 L267.3,706.5 L267.3,707.5 L267.3,708.5 L267.3,709.5 L267.3,710.5 L267.3,711.5 L267.3,712.5 L267.3,713.5 L267.3,714.5 L267.3,715.5 L267.3,716.5 L267.3,717.5 L267.3,718.5 L267.3,719.5 L267.3,720.5 L267.3,721.5 L267.3,722.5 L267.3,723.5 L267.3,724.5 L267.3,725.5 L267.3,726.5 L267.3,727.5 L267.3,728.5 L267.3,729.5 L267.3,730.5 L267.3,731.5 L267.3,732.5 L267.3,733.5 L267.3,734.5 L267.3,735.5 L267.3,736.5 L267.3,737.5 L267.3,738.5 L267.3,739.5 L267.3,740.5 L267.3,741.5 L267.3,742.5 L267.3,743.5 L267.3,744.5 L267.3,745.5 L267.27,746.5 L267.22,747.5 L267.14,748.5 L267.05,749.5 L266.93,750.5 L266.8,751.5 L266.65,752.5 L266.49,753.5 L266.32,754.5 L266.1,755.5 L265.69,756.5 L265.19,757.5 L264.7,758.5 L264.34,759.5 L264.16,760.5 L264.04,761.5 L263.95,762.5 L263.86,763.5 L263.78,764.5 L263.68,765.5 L263.6,766.5 L263.52,767.5 L263.44,768.5 L263.35,769.5 L263.26,770.5 L263.15,771.5 L263.02,772.5 L262.86,773.5 L262.66,774.5 L262.44,775.5 L262.18,776.5 L261.91,777.5 L261.62,778.5 L261.31,779.5 L260.99,780.5 L260.61,781.5 L260.21,782.5 L259.77,783.5 L259.31,784.5 L258.84,785.5 L258.38,786.5 L257.91,787.5 L257.45,788.5 L256.98,789.5 L256.5,790.5 L256.01,791.5 L255.5,792.5 L254.97,793.5 L254.41,794.5 L253.81,795.5 L253.18,796.5 L252.51,797.5 L251.82,798.5 L251.12,799.5 L250.41,800.5 L249.7,801.5 L249,802.5 L248.3,803.5 L247.59,804.5 L246.87,805.5 L246.15,806.5 L245.43,807.5 L244.69,808.5 L243.95,809.5 L243.19,810.5 L242.42,811.5 L241.63,812.5 L240.84,813.5 L240.05,814.5 L239.28,815.5 L238.54,816.5 L237.81,817.5 L237.06,818.5 L236.3,819.5 L235.56,820.5 L234.86,821.5 L234.21,822.5 L233.66,823.5 L233.21,824.5 L232.81,825.5 L232.41,826.5 L232.04,827.5 L231.71,828.5 L231.44,829.5 L231.25,830.5 L231.16,831.5 L231.17,832.5 L231.28,833.5 L231.46,834.5 L231.7,835.5 L231.97,836.5 L232.31,837.5 L232.9,838.5 L233.67,839.5 L234.58,840.5 L235.57,841.5 L236.59,842.5 L237.59,843.5 L238.52,844.5 L239.46,845.5 L240.43,846.5 L241.42,847.5 L242.42,848.5 L243.44,849.5 L244.45,850.5 L245.45,851.5 L246.45,852.5 L247.47,853.5 L248.5,854.5 L249.53,855.5 L250.54,856.5 L251.53,857.5 L252.49,858.5 L253.42,859.5 L254.32,860.5 L255.22,861.5 L256.1,862.5 L256.95,863.5 L257.77,864.5 L258.55,865.5 L259.28,866.5 L259.97,867.5 L260.65,868.5 L261.3,869.5 L261.92,870.5 L262.5,871.5 L263.04,872.5 L263.53,873.5 L263.96,874.5 L264.37,875.5 L264.77,876.5 L265.13,877.5 L265.47,878.5 L265.77,879.5 L266.03,880.5 L266.25,881.5 L266.44,882.5 L266.62,883.5 L266.8,884.5 L266.95,885.5 L267.08,886.5 L267.17,887.5 L267.24,888.5 L267.26,889.5 L267.29,890.5 L267.31,891.5 L267.33,892.5 L267.35,893.5 L267.37,894.5 L267.38,895.5 L267.4,896.5 L267.41,897.5 L267.42,898.5 L267.43,899.5 L267.43,900.5 L267.44,901.5 L267.45,902.5 L267.45,903.5 L267.45,904.5 L267.45,905 L267.45,905 L267.45,904.5 L267.45,903.5 L267.45,902.5 L267.46,901.5 L267.47,900.5 L267.47,899.5 L267.48,898.5 L267.49,897.5 L267.5,896.5 L267.52,895.5 L267.53,894.5 L267.55,893.5 L267.57,892.5 L267.59,891.5 L267.61,890.5 L267.64,889.5 L267.66,888.5 L267.73,887.5 L267.82,886.5 L267.95,885.5 L268.1,884.5 L268.28,883.5 L268.46,882.5 L268.65,881.5 L268.87,880.5 L269.13,879.5 L269.43,878.5 L269.77,877.5 L270.13,876.5 L270.53,875.5 L270.94,874.5 L271.37,873.5 L271.86,872.5 L272.4,871.5 L272.98,870.5 L273.6,869.5 L274.25,868.5 L274.93,867.5 L275.62,866.5 L276.35,865.5 L277.13,864.5 L277.95,863.5 L278.8,862.5 L279.68,861.5 L280.58,860.5 L281.48,859.5 L282.41,858.5 L283.37,857.5 L284.36,856.5 L285.37,855.5 L286.4,854.5 L287.43,853.5 L288.45,852.5 L289.45,851.5 L290.45,850.5 L291.46,849.5 L292.48,848.5 L293.48,847.5 L294.47,846.5 L295.44,845.5 L296.38,844.5 L297.31,843.5 L298.31,842.5 L299.33,841.5 L300.32,840.5 L301.23,839.5 L302,838.5 L302.59,837.5 L302.93,836.5 L303.2,835.5 L303.44,834.5 L303.62,833.5 L303.73,832.5 L303.74,831.5 L303.65,830.5 L303.46,829.5 L303.19,828.5 L302.86,827.5 L302.49,826.5 L302.09,825.5 L301.69,824.5 L301.24,823.5 L300.69,822.5 L300.04,821.5 L299.34,820.5 L298.6,819.5 L297.84,818.5 L297.09,817.5 L296.36,816.5 L295.62,815.5 L294.85,814.5 L294.06,813.5 L293.27,812.5 L292.48,811.5 L291.71,810.5 L290.95,809.5 L290.21,808.5 L289.47,807.5 L288.75,806.5 L288.03,805.5 L287.31,804.5 L286.6,803.5 L285.9,802.5 L285.2,801.5 L284.49,800.5 L283.78,799.5 L283.08,798.5 L282.39,797.5 L281.72,796.5 L281.09,795.5 L280.49,794.5 L279.93,793.5 L279.4,792.5 L278.89,791.5 L278.4,790.5 L277.92,789.5 L277.45,788.5 L276.99,787.5 L276.52,786.5 L276.06,785.5 L275.59,784.5 L275.13,783.5 L274.69,782.5 L274.29,781.5 L273.91,780.5 L273.59,779.5 L273.28,778.5 L272.99,777.5 L272.72,776.5 L272.46,775.5 L272.24,774.5 L272.04,773.5 L271.88,772.5 L271.75,771.5 L271.64,770.5 L271.55,769.5 L271.46,768.5 L271.38,767.5 L271.3,766.5 L271.22,765.5 L271.12,764.5 L271.04,763.5 L270.95,762.5 L270.86,761.5 L270.74,760.5 L270.56,759.5 L270.2,758.5 L269.71,757.5 L269.21,756.5 L268.8,755.5 L268.58,754.5 L268.41,753.5 L268.25,752.5 L268.1,751.5 L267.97,750.5 L267.85,749.5 L267.76,748.5 L267.68,747.5 L267.63,746.5 L267.6,745.5 L267.6,744.5 L267.6,743.5 L267.6,742.5 L267.6,741.5 L267.6,740.5 L267.6,739.5 L267.6,738.5 L267.6,737.5 L267.6,736.5 L267.6,735.5 L267.6,734.5 L267.6,733.5 L267.6,732.5 L267.6,731.5 L267.6,730.5 L267.6,729.5 L267.6,728.5 L267.6,727.5 L267.6,726.5 L267.6,725.5 L267.6,724.5 L267.6,723.5 L267.6,722.5 L267.6,721.5 L267.6,720.5 L267.6,719.5 L267.6,718.5 L267.6,717.5 L267.6,716.5 L267.6,715.5 L267.6,714.5 L267.6,713.5 L267.6,712.5 L267.6,711.5 L267.6,710.5 L267.6,709.5 L267.6,708.5 L267.6,707.5 L267.6,706.5 L267.6,705.5 L267.6,704.5 L267.6,703.5 L267.6,702.5 L267.6,701.5 L267.6,700.5 L267.6,699.5 L267.6,698.5 L267.6,697.5 L267.6,696.5 L267.6,695.5 L267.6,694.5 L267.6,693.5 L267.6,692.5 L267.6,691.5 L267.6,690.5 L267.6,689.5 L267.6,688.5 L267.6,687.5 L267.6,686.5 L267.6,685.5 L267.6,684.5 L267.6,683.5 L267.6,682.5 L267.6,681.5 L267.6,680.5 L267.6,679.5 L267.6,678.5 L267.6,677.5 L267.6,676.5 L267.6,675.5 L267.6,674.5 L267.6,673.5 L267.6,672.5 L267.6,671.5 L267.6,670.5 L267.6,669.5 L267.6,668.5 Z" fill="#EC008C" stroke="#000" stroke-width="2.1" stroke-linejoin="round"/>
<path d="M266.2,668.3 L266.2,669.3 L266.2,670.3 L266.2,671.3 L266.2,672.3 L266.2,673.3 L266.2,674.3 L266.2,675.3 L266.2,676.3 L266.2,677.3 L266.2,678.3 L266.19,679.3 L266.19,680.3 L266.19,681.3 L266.19,682.3 L266.19,683.3 L266.19,684.3 L266.19,685.3 L266.19,686.3 L266.18,687.3 L266.18,688.3 L266.18,689.3 L266.18,690.3 L266.18,691.3 L266.17,692.3 L266.17,693.3 L266.17,694.3 L266.17,695.3 L266.16,696.3 L266.16,697.3 L266.16,698.3 L266.15,699.3 L266.15,700.3 L266.14,701.3 L266.11,702.3 L266.09,703.3 L266.05,704.3 L266.01,705.3 L265.98,706.3 L265.94,707.3 L265.9,708.3 L265.87,709.3 L265.84,710.3 L265.82,711.3 L265.79,712.3 L265.76,713.3 L265.74,714.3 L265.71,715.3 L265.68,716.3 L265.66,717.3 L265.64,718.3 L265.61,719.3 L265.6,720.3 L265.58,721.3 L265.57,722.3 L265.56,723.3 L265.55,724.3 L265.55,725.3 L265.55,726.3 L265.55,727.3 L265.55,728.3 L265.55,729.3 L265.55,730.3 L265.55,731.3 L265.55,732.3 L265.55,733.3 L265.55,734.3 L265.55,735.3 L265.55,736.3 L265.55,737.3 L265.55,738.3 L265.55,739.3 L265.55,740.3 L265.55,741.3 L265.55,742.3 L265.55,743.3 L265.55,744.3 L265.55,745.3 L265.55,746.3 L265.55,747.3 L265.55,748.3 L265.55,749.3 L265.55,750.3 L265.49,751.3 L265.39,752.3 L265.26,753.3 L265.15,754.3 L265.07,755.3 L266.23,756.3 L267.45,756.5 L267.45,756.5 L268.67,756.3 L269.83,755.3 L269.75,754.3 L269.64,753.3 L269.51,752.3 L269.41,751.3 L269.35,750.3 L269.35,749.3 L269.35,748.3 L269.35,747.3 L269.35,746.3 L269.35,745.3 L269.35,744.3 L269.35,743.3 L269.35,742.3 L269.35,741.3 L269.35,740.3 L269.35,739.3 L269.35,738.3 L269.35,737.3 L269.35,736.3 L269.35,735.3 L269.35,734.3 L269.35,733.3 L269.35,732.3 L269.35,731.3 L269.35,730.3 L269.35,729.3 L269.35,728.3 L269.35,727.3 L269.35,726.3 L269.35,725.3 L269.35,724.3 L269.34,723.3 L269.33,722.3 L269.32,721.3 L269.3,720.3 L269.29,719.3 L269.26,718.3 L269.24,717.3 L269.22,716.3 L269.19,715.3 L269.16,714.3 L269.14,713.3 L269.11,712.3 L269.08,711.3 L269.06,710.3 L269.03,709.3 L269,708.3 L268.96,707.3 L268.92,706.3 L268.89,705.3 L268.85,704.3 L268.81,703.3 L268.79,702.3 L268.76,701.3 L268.75,700.3 L268.75,699.3 L268.74,698.3 L268.74,697.3 L268.74,696.3 L268.73,695.3 L268.73,694.3 L268.73,693.3 L268.73,692.3 L268.72,691.3 L268.72,690.3 L268.72,689.3 L268.72,688.3 L268.72,687.3 L268.71,686.3 L268.71,685.3 L268.71,684.3 L268.71,683.3 L268.71,682.3 L268.71,681.3 L268.71,680.3 L268.71,679.3 L268.7,678.3 L268.7,677.3 L268.7,676.3 L268.7,675.3 L268.7,674.3 L268.7,673.3 L268.7,672.3 L268.7,671.3 L268.7,670.3 L268.7,669.3 L268.7,668.3 Z" fill="#000"/>
<ellipse cx="267.45" cy="692.2" rx="2.2" ry="1.76" fill="#000"/>
<line x1="267.45" y1="757" x2="267.45" y2="905" stroke="#000" stroke-width="1.9"/>
<rect x="260.15" y="811.2" width="14.6" height="32.5" fill="#fff" stroke="#000" stroke-width="2"/>
<line x1="260.15" y1="829.4" x2="274.75" y2="829.4" stroke="#000" stroke-width="2"/>
<line x1="115.8" y1="905.6" x2="115.8" y2="908.3" stroke="#000" stroke-width="2.2"/>
<line x1="191.45" y1="905.6" x2="191.45" y2="908.3" stroke="#000" stroke-width="2.2"/>
<line x1="267.45" y1="905.6" x2="267.45" y2="908.3" stroke="#000" stroke-width="2.2"/>
<text x="114" y="927.3" font-size="18.1" font-weight="normal" text-anchor="middle" stroke="#000" stroke-width="0.35">ac<tspan dy="-5.4" font-size="10.2">4</tspan><tspan dy="5.4">C</tspan></text>
<text x="189.9" y="927.3" font-size="17.9" font-weight="normal" text-anchor="middle" stroke="#000" stroke-width="0.35">m<tspan dy="-5.4" font-size="10.2">6</tspan><tspan dy="5.4">A</tspan></text>
<text x="266.2" y="927.3" font-size="18.15" font-weight="normal" text-anchor="middle" stroke="#000" stroke-width="0.35">ac<tspan dy="-5.4" font-size="10.2">4</tspan><tspan dy="5.4">C &amp; m</tspan><tspan dy="-5.4" font-size="10.2">6</tspan><tspan dy="5.4">A</tspan></text>
<clipPath id="clip30"><rect x="391.2" y="649.6" width="291" height="269.3"/></clipPath>
<g clip-path="url(#clip30)">
<polyline points="391.2,906.6 392.28,906.6 393.36,906.6 394.45,906.6 395.53,906.6 396.61,906.6 397.69,906.6 398.78,906.6 399.86,906.6 400.94,906.6 402.02,906.6 403.11,906.6 404.19,906.6 405.27,906.6 406.35,906.6 407.44,906.6 408.52,906.6 409.6,906.6 410.68,906.59 411.77,906.47 412.85,906.29 413.93,906.15 415.01,905.87 416.1,905.65 417.18,905.5 418.26,904.89 419.34,904.36 420.42,904.13 421.51,903.77 422.59,903.52 423.67,903.12 424.75,902.23 425.84,901.24 426.92,900.54 428,899.74 429.08,898.34 430.17,897.02 431.25,896.22 432.33,894.7 433.41,892.37 434.5,890.64 435.58,889.33 436.66,887.14 437.74,884.63 438.83,882.58 439.91,879.8 440.99,877.23 442.07,875.97 443.16,874.86 444.24,872.85 445.32,869.45 446.4,866.19 447.48,864.67 448.57,863.06 449.65,859.34 450.73,855.98 451.81,854.68 452.9,853.55 453.98,851.06 455.06,848.1 456.14,845.83 457.23,842.81 458.31,839.06 459.39,835.86 460.47,832.7 461.56,828.38 462.64,823.89 463.72,820.49 464.8,816.62 465.89,812.27 466.97,808.31 468.05,804.59 469.13,800.8 470.22,796.93 471.3,792.91 472.38,788.41 473.46,784.86 474.54,782.24 475.63,779.99 476.71,777.59 477.79,773.23 478.87,768.77 479.96,765.74 481.04,762.38 482.12,758.52 483.2,755.73 484.29,752.55 485.37,747.88 486.45,744.85 487.53,743.19 488.62,740.46 489.7,736.56 490.78,732.2 491.86,729.04 492.95,727.5 494.03,725.71 495.11,723.05 496.19,720.91 497.28,718.81 498.36,716.37 499.44,714.52 500.52,712.66 501.6,710.53 502.69,708.55 503.77,707.09 504.85,706.28 505.93,704.52 507.02,702.48 508.1,701.16 509.18,699.28 510.26,697.71 511.35,697.35 512.43,697.09 513.51,696.24 514.59,695.41 515.68,695.39 516.76,695.39 517.84,693.92 518.92,691.73 520.01,691.73 521.09,691.73 522.17,690.89 523.25,689.46 524.34,688.37 525.42,687.16 526.5,685.83 527.58,684.77 528.66,684.47 529.75,684.14 530.83,682.66 531.91,681.12 532.99,680.12 534.08,679.54 535.16,679.06 536.24,678.42 537.32,677.38 538.41,675.83 539.49,674.97 540.57,674.53 541.65,673.92 542.74,673.49 543.82,672.77 544.9,671.73 545.98,671.17 547.07,671.13 548.15,670.82 549.23,670.16 550.31,669.32 551.4,668.45 552.48,668.18 553.56,668.18 554.64,668.1 555.72,667.45 556.81,667.06 557.89,667.06 558.97,666.92 560.05,666.29 561.14,665.96 562.22,665.96 563.3,665.96 564.38,665.96 565.47,665.79 566.55,665.67 567.63,665.59 568.71,665.47 569.8,665.02 570.88,664.7 571.96,664.7 573.04,664.7 574.13,664.49 575.21,664.49 576.29,664.49 577.37,664.15 578.46,663.71 579.54,663.7 580.62,663.7 581.7,663.7 582.78,663.7 583.87,663.7 584.95,663.38 586.03,663.3 587.11,663.3 588.2,663.28 589.28,662.99 590.36,662.79 591.44,662.77 592.53,662.71 593.61,662.71 594.69,662.71 595.77,662.71 596.86,662.59 597.94,662.42 599.02,662.42 600.1,662.42 601.19,662.42 602.27,662.38 603.35,662.1 604.43,662.03 605.52,662.03 606.6,661.98 607.68,661.87 608.76,661.87 609.84,661.87 610.93,661.85 612.01,661.85 613.09,661.85 614.17,661.85 615.26,661.84 616.34,661.84 617.42,661.84 618.5,661.84 619.59,661.8 620.67,661.78 621.75,661.77 622.83,661.77 623.92,661.77 625,661.77 626.08,661.73 627.16,661.73 628.25,661.73 629.33,661.73 630.41,661.73 631.49,661.71 632.58,661.71 633.66,661.71 634.74,661.71 635.82,661.71 636.9,661.71 637.99,661.71 639.07,661.71 640.15,661.71 641.23,661.71 642.32,661.71 643.4,661.71 644.48,661.71 645.56,661.7 646.65,661.68 647.73,661.68 648.81,661.68 649.89,661.68 650.98,661.68 652.06,661.68 653.14,661.68 654.22,661.64 655.31,661.62 656.39,661.62 657.47,661.62 658.55,661.62 659.64,661.62 660.72,661.62 661.8,661.62 662.88,661.62 663.96,661.62 665.05,661.62 666.13,661.62 667.21,661.62 668.29,661.62 669.38,661.62 670.46,661.62 671.54,661.62 672.62,661.61 673.71,661.6 674.79,661.6 675.87,661.6 676.95,661.6 678.04,661.6 679.12,661.6 680.2,661.6 681.28,661.6" fill="none" stroke="#FFF200" stroke-width="2.6" stroke-linejoin="round" stroke-linecap="butt"/>
<polyline points="391.2,906.6 392.28,906.6 393.36,906.6 394.45,906.6 395.53,906.6 396.61,906.6 397.69,906.6 398.78,906.6 399.86,906.6 400.94,906.6 402.02,906.6 403.11,906.6 404.19,906.6 405.27,906.6 406.35,906.6 407.44,906.6 408.52,906.6 409.6,906.6 410.68,906.6 411.77,906.6 412.85,906.6 413.93,906.6 415.01,906.6 416.1,906.6 417.18,906.58 418.26,906.53 419.34,906.44 420.42,906.26 421.51,906.05 422.59,905.86 423.67,905.6 424.75,905.26 425.84,904.97 426.92,904.69 428,904.26 429.08,903.56 430.17,902.85 431.25,902.23 432.33,901.45 433.41,900.32 434.5,898.98 435.58,897.69 436.66,896.05 437.74,894.03 438.83,892.54 439.91,891.04 440.99,888.6 442.07,885.47 443.16,883.06 444.24,881.4 445.32,878.77 446.4,876.12 447.48,874.34 448.57,871.95 449.65,867.33 450.73,861.85 451.81,858.27 452.9,855.36 453.98,851.93 455.06,847.54 456.14,842.89 457.23,839.25 458.31,833.91 459.39,827.92 460.47,823.95 461.56,819.63 462.64,814.73 463.72,809.8 464.8,803.44 465.89,797.33 466.97,793.02 468.05,789.37 469.13,786.62 470.22,782.77 471.3,777.55 472.38,774.06 473.46,770.55 474.54,765.58 475.63,761.56 476.71,758.76 477.79,755.93 478.87,752.91 479.96,748.4 481.04,744.16 482.12,741.6 483.2,738.93 484.29,735.78 485.37,733.01 486.45,729.9 487.53,726.54 488.62,724.98 489.7,723.4 490.78,720.82 491.86,718.61 492.95,716.61 494.03,714.85 495.11,713.65 496.19,712 497.28,708.99 498.36,705.23 499.44,702.99 500.52,702.36 501.6,701.15 502.69,699.21 503.77,697.02 504.85,694.49 505.93,692.51 507.02,691.75 508.1,690.78 509.18,689.8 510.26,688.79 511.35,687.66 512.43,686.79 513.51,685.63 514.59,684.65 515.68,683.53 516.76,683.07 517.84,683.07 518.92,682.31 520.01,681.07 521.09,680.24 522.17,679.24 523.25,678.55 524.34,678.02 525.42,677.29 526.5,676.94 527.58,676.5 528.66,675.74 529.75,675.2 530.83,674.86 531.91,674.78 532.99,674.58 534.08,674.03 535.16,673.79 536.24,673.62 537.32,672.91 538.41,672.37 539.49,672.33 540.57,672.1 541.65,671.45 542.74,670.77 543.82,670.42 544.9,670.25 545.98,669.93 547.07,669.72 548.15,669.71 549.23,669.71 550.31,669.71 551.4,669.66 552.48,668.95 553.56,668.63 554.64,668.58 555.72,668.24 556.81,668.03 557.89,668.03 558.97,668.03 560.05,668.03 561.14,668 562.22,667.46 563.3,667.43 564.38,667.26 565.47,666.91 566.55,666.91 567.63,666.91 568.71,666.91 569.8,666.7 570.88,666.41 571.96,666.26 573.04,666.16 574.13,665.89 575.21,665.74 576.29,665.74 577.37,665.74 578.46,665.74 579.54,665.74 580.62,665.46 581.7,665.46 582.78,665.46 583.87,665.46 584.95,665.46 586.03,665.21 587.11,664.84 588.2,664.84 589.28,664.84 590.36,664.84 591.44,664.83 592.53,664.81 593.61,664.66 594.69,664.37 595.77,664.37 596.86,664.37 597.94,664.37 599.02,664.37 600.1,664.28 601.19,664.28 602.27,664.28 603.35,664.28 604.43,664.07 605.52,664.07 606.6,664.07 607.68,663.95 608.76,663.95 609.84,663.95 610.93,663.78 612.01,663.65 613.09,663.65 614.17,663.65 615.26,663.65 616.34,663.65 617.42,663.65 618.5,663.65 619.59,663.65 620.67,663.65 621.75,663.65 622.83,663.65 623.92,663.65 625,663.65 626.08,663.65 627.16,663.41 628.25,663.41 629.33,663.41 630.41,663.41 631.49,663.34 632.58,663.34 633.66,663.34 634.74,663.34 635.82,663.34 636.9,663.34 637.99,663.34 639.07,663.08 640.15,663.08 641.23,663.08 642.32,663.07 643.4,663.07 644.48,663.07 645.56,663.07 646.65,662.93 647.73,662.93 648.81,662.93 649.89,662.83 650.98,662.78 652.06,662.78 653.14,662.78 654.22,662.78 655.31,662.62 656.39,662.52 657.47,662.52 658.55,662.52 659.64,662.52 660.72,662.52 661.8,662.52 662.88,662.42 663.96,662.42 665.05,662.39 666.13,662.35 667.21,662.35 668.29,662.34 669.38,662.31 670.46,662.31 671.54,662.31 672.62,662.31 673.71,662.31 674.79,662.19 675.87,661.99 676.95,661.93 678.04,661.93 679.12,661.93 680.2,661.93 681.28,661.93" fill="none" stroke="#EC008C" stroke-width="2.6" stroke-linejoin="round" stroke-linecap="butt"/>
<polyline points="391.2,906.6 392.28,906.6 393.36,906.6 394.45,906.6 395.53,906.6 396.61,906.6 397.69,906.6 398.78,906.6 399.86,906.6 400.94,906.6 402.02,906.6 403.11,906.6 404.19,906.6 405.27,906.6 406.35,906.6 407.44,906.6 408.52,906.6 409.6,906.6 410.68,906.6 411.77,906.6 412.85,906.6 413.93,906.6 415.01,906.59 416.1,906.55 417.18,906.49 418.26,906.4 419.34,906.3 420.42,906.16 421.51,905.96 422.59,905.8 423.67,905.56 424.75,905.06 425.84,904.49 426.92,904.04 428,903.53 429.08,902.84 430.17,901.97 431.25,900.95 432.33,899.84 433.41,898.63 434.5,897.22 435.58,895.72 436.66,894.09 437.74,892.4 438.83,890.6 439.91,888.46 440.99,885.93 442.07,883.1 443.16,880.37 444.24,877.73 445.32,875.06 446.4,872.29 447.48,869.17 448.57,866.09 449.65,863.01 450.73,859.32 451.81,855.27 452.9,851.68 453.98,848.38 455.06,844.91 456.14,840.94 457.23,836.32 458.31,831.49 459.39,826.22 460.47,820.75 461.56,815.35 462.64,809.64 463.72,804.15 464.8,798.8 465.89,793.82 466.97,789.42 468.05,785.04 469.13,780.6 470.22,776.07 471.3,771.76 472.38,767.3 473.46,762.48 474.54,757.98 475.63,754.02 476.71,750.47 477.79,746.73 478.87,742.68 479.96,739.02 481.04,735.38 482.12,731.64 483.2,728.6 484.29,726.15 485.37,723.44 486.45,720.38 487.53,717.37 488.62,714.36 489.7,711.56 490.78,709.27 491.86,707.27 492.95,705.3 494.03,702.95 495.11,700.62 496.19,698.99 497.28,697.48 498.36,695.76 499.44,694.23 500.52,692.66 501.6,690.87 502.69,689.16 503.77,687.66 504.85,686.03 505.93,684.56 507.02,683.55 508.1,682.65 509.18,681.49 510.26,680.24 511.35,679.39 512.43,678.73 513.51,678.13 514.59,677.6 515.68,677.15 516.76,676.66 517.84,676.07 518.92,675.72 520.01,675.36 521.09,674.84 522.17,674.21 523.25,673.61 524.34,673.11 525.42,672.27 526.5,671.43 527.58,670.89 528.66,670.24 529.75,669.53 530.83,669.11 531.91,668.7 532.99,668.09 534.08,667.73 535.16,667.53 536.24,667.14 537.32,666.83 538.41,666.73 539.49,666.52 540.57,666.05 541.65,665.68 542.74,665.56 543.82,665.4 544.9,665.16 545.98,664.93 547.07,664.65 548.15,664.47 549.23,664.41 550.31,664.26 551.4,664.11 552.48,664.02 553.56,663.91 554.64,663.81 555.72,663.73 556.81,663.69 557.89,663.59 558.97,663.39 560.05,663.29 561.14,663.25 562.22,663.22 563.3,663.19 564.38,663.09 565.47,662.92 566.55,662.77 567.63,662.73 568.71,662.67 569.8,662.59 570.88,662.56 571.96,662.52 573.04,662.45 574.13,662.38 575.21,662.35 576.29,662.35 577.37,662.33 578.46,662.3 579.54,662.24 580.62,662.22 581.7,662.19 582.78,662.13 583.87,662.1 584.95,662.08 586.03,662.05 587.11,662.03 588.2,662.03 589.28,662.03 590.36,662.03 591.44,662 592.53,661.97 593.61,661.97 594.69,661.97 595.77,661.97 596.86,661.97 597.94,661.96 599.02,661.96 600.1,661.96 601.19,661.96 602.27,661.96 603.35,661.95 604.43,661.92 605.52,661.92 606.6,661.92 607.68,661.91 608.76,661.9 609.84,661.9 610.93,661.89 612.01,661.85 613.09,661.85 614.17,661.85 615.26,661.85 616.34,661.85 617.42,661.85 618.5,661.85 619.59,661.83 620.67,661.82 621.75,661.82 622.83,661.82 623.92,661.82 625,661.82 626.08,661.82 627.16,661.82 628.25,661.81 629.33,661.79 630.41,661.79 631.49,661.79 632.58,661.79 633.66,661.79 634.74,661.78 635.82,661.75 636.9,661.74 637.99,661.74 639.07,661.74 640.15,661.74 641.23,661.74 642.32,661.73 643.4,661.72 644.48,661.72 645.56,661.72 646.65,661.72 647.73,661.72 648.81,661.72 649.89,661.72 650.98,661.72 652.06,661.72 653.14,661.72 654.22,661.72 655.31,661.72 656.39,661.72 657.47,661.72 658.55,661.72 659.64,661.71 660.72,661.71 661.8,661.71 662.88,661.71 663.96,661.71 665.05,661.71 666.13,661.7 667.21,661.68 668.29,661.68 669.38,661.68 670.46,661.68 671.54,661.68 672.62,661.68 673.71,661.68 674.79,661.68 675.87,661.68 676.95,661.68 678.04,661.68 679.12,661.68 680.2,661.68 681.28,661.68" fill="none" stroke="#00AEEF" stroke-width="2.6" stroke-linejoin="round" stroke-linecap="butt"/>
</g>
<rect x="391.2" y="649.6" width="291" height="269.3" fill="none" stroke="#000" stroke-width="2.5"/>
<line x1="389.1" y1="906.6" x2="391.2" y2="906.6" stroke="#000" stroke-width="2"/>
<text x="385.2" y="913.61" font-size="17.9" font-weight="normal" text-anchor="end" stroke="#000" stroke-width="0.35">0.00</text>
<line x1="389.1" y1="845.35" x2="391.2" y2="845.35" stroke="#000" stroke-width="2"/>
<text x="385.2" y="852.36" font-size="17.9" font-weight="normal" text-anchor="end" stroke="#000" stroke-width="0.35">0.25</text>
<line x1="389.1" y1="784.1" x2="391.2" y2="784.1" stroke="#000" stroke-width="2"/>
<text x="385.2" y="791.11" font-size="17.9" font-weight="normal" text-anchor="end" stroke="#000" stroke-width="0.35">0.50</text>
<line x1="389.1" y1="722.85" x2="391.2" y2="722.85" stroke="#000" stroke-width="2"/>
<text x="385.2" y="729.86" font-size="17.9" font-weight="normal" text-anchor="end" stroke="#000" stroke-width="0.35">0.75</text>
<line x1="389.1" y1="661.6" x2="391.2" y2="661.6" stroke="#000" stroke-width="2"/>
<text x="385.2" y="668.61" font-size="17.9" font-weight="normal" text-anchor="end" stroke="#000" stroke-width="0.35">1.00</text>
<line x1="404.7" y1="918.9" x2="404.7" y2="921.1" stroke="#000" stroke-width="2"/>
<text x="405.2" y="936.7" font-size="17.9" font-weight="normal" text-anchor="middle" stroke="#000" stroke-width="0.35">0</text>
<line x1="492.7" y1="918.9" x2="492.7" y2="921.1" stroke="#000" stroke-width="2"/>
<text x="497.8" y="936.7" font-size="17.9" font-weight="normal" text-anchor="middle" stroke="#000" stroke-width="0.35">1</text>
<line x1="580.7" y1="918.9" x2="580.7" y2="921.1" stroke="#000" stroke-width="2"/>
<text x="586" y="936.7" font-size="17.9" font-weight="normal" text-anchor="middle" stroke="#000" stroke-width="0.35">2</text>
<line x1="668.7" y1="918.9" x2="668.7" y2="921.1" stroke="#000" stroke-width="2"/>
<text x="676.7" y="936.7" font-size="17.9" font-weight="normal" text-anchor="middle" stroke="#000" stroke-width="0.35">3</text>
<text x="343.8" y="786.5" font-size="17.9" font-weight="normal" text-anchor="middle" stroke="#000" stroke-width="0.35" transform="rotate(-90 343.8 786.5)">Cumulative probability</text>
<line x1="529.3" y1="851" x2="548.2" y2="851" stroke="#FFF200" stroke-width="2.3"/>
<text x="556" y="855.11" font-size="18.1" font-weight="normal" text-anchor="start" stroke="#000" stroke-width="0.35">ac<tspan dy="-5.4" font-size="10.2">4</tspan><tspan dy="5.4">C</tspan></text>
<line x1="529.3" y1="874.4" x2="548.2" y2="874.4" stroke="#00AEEF" stroke-width="2.3"/>
<text x="556" y="879.31" font-size="18.1" font-weight="normal" text-anchor="start" stroke="#000" stroke-width="0.35">m<tspan dy="-5.4" font-size="10.2">6</tspan><tspan dy="5.4">A</tspan></text>
<line x1="529.3" y1="898" x2="548.2" y2="898" stroke="#EC008C" stroke-width="2.3"/>
<text x="556" y="903.71" font-size="18.1" font-weight="normal" text-anchor="start" stroke="#000" stroke-width="0.35">ac<tspan dy="-5.4" font-size="10.2">4</tspan><tspan dy="5.4">C &amp; m</tspan><tspan dy="-5.4" font-size="10.2">6</tspan><tspan dy="5.4">A</tspan></text>
<line x1="657" y1="869.1" x2="657" y2="893.7" stroke="#000" stroke-width="2.5"/>
<text x="666.5" y="889.91" font-size="16.4" font-weight="normal" text-anchor="middle" stroke="#000" stroke-width="0.35">*</text>
<text x="542.2" y="953.3" font-size="17.9" font-weight="normal" text-anchor="middle" stroke="#000" stroke-width="0.35">Translation efficiency</text>
</svg>
</body>
</html>
